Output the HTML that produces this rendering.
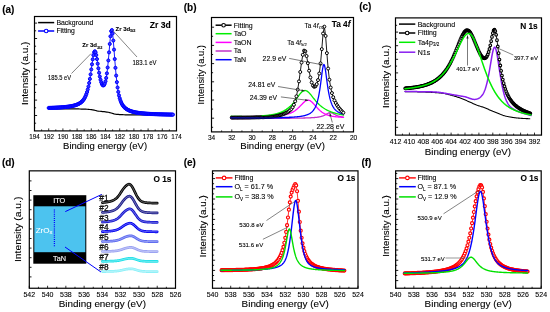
<!DOCTYPE html>
<html><head><meta charset="utf-8"><style>
html,body{margin:0;padding:0;background:#fff;}
svg{display:block;will-change:transform;}
text{font-family:"Liberation Sans", sans-serif;}
</style></head><body>
<svg width="550" height="312" viewBox="0 0 550 312">
<rect width="550" height="312" fill="#fff"/>
<text x="2.2" y="12.6" font-size="10" text-anchor="start" font-weight="bold" fill="#000"  stroke="#000" stroke-width="0.1">(a)</text>
<rect x="34.5" y="16.5" width="142" height="114.4" fill="none" stroke="#000" stroke-width="1.2"/>
<line x1="176.5" y1="130.9" x2="176.5" y2="128.4" stroke="#000" stroke-width="0.8" />
<line x1="169.4" y1="130.9" x2="169.4" y2="129.4" stroke="#000" stroke-width="0.8" />
<line x1="162.3" y1="130.9" x2="162.3" y2="128.4" stroke="#000" stroke-width="0.8" />
<line x1="155.2" y1="130.9" x2="155.2" y2="129.4" stroke="#000" stroke-width="0.8" />
<line x1="148.1" y1="130.9" x2="148.1" y2="128.4" stroke="#000" stroke-width="0.8" />
<line x1="141" y1="130.9" x2="141" y2="129.4" stroke="#000" stroke-width="0.8" />
<line x1="133.9" y1="130.9" x2="133.9" y2="128.4" stroke="#000" stroke-width="0.8" />
<line x1="126.8" y1="130.9" x2="126.8" y2="129.4" stroke="#000" stroke-width="0.8" />
<line x1="119.7" y1="130.9" x2="119.7" y2="128.4" stroke="#000" stroke-width="0.8" />
<line x1="112.6" y1="130.9" x2="112.6" y2="129.4" stroke="#000" stroke-width="0.8" />
<line x1="105.5" y1="130.9" x2="105.5" y2="128.4" stroke="#000" stroke-width="0.8" />
<line x1="98.4" y1="130.9" x2="98.4" y2="129.4" stroke="#000" stroke-width="0.8" />
<line x1="91.3" y1="130.9" x2="91.3" y2="128.4" stroke="#000" stroke-width="0.8" />
<line x1="84.2" y1="130.9" x2="84.2" y2="129.4" stroke="#000" stroke-width="0.8" />
<line x1="77.1" y1="130.9" x2="77.1" y2="128.4" stroke="#000" stroke-width="0.8" />
<line x1="70" y1="130.9" x2="70" y2="129.4" stroke="#000" stroke-width="0.8" />
<line x1="62.9" y1="130.9" x2="62.9" y2="128.4" stroke="#000" stroke-width="0.8" />
<line x1="55.8" y1="130.9" x2="55.8" y2="129.4" stroke="#000" stroke-width="0.8" />
<line x1="48.7" y1="130.9" x2="48.7" y2="128.4" stroke="#000" stroke-width="0.8" />
<line x1="41.6" y1="130.9" x2="41.6" y2="129.4" stroke="#000" stroke-width="0.8" />
<line x1="34.5" y1="130.9" x2="34.5" y2="128.4" stroke="#000" stroke-width="0.8" />
<text x="34.5" y="138.9" font-size="6.3" text-anchor="middle" font-weight="normal" fill="#000"  stroke="#000" stroke-width="0.1">194</text>
<text x="48.7" y="138.9" font-size="6.3" text-anchor="middle" font-weight="normal" fill="#000"  stroke="#000" stroke-width="0.1">192</text>
<text x="62.9" y="138.9" font-size="6.3" text-anchor="middle" font-weight="normal" fill="#000"  stroke="#000" stroke-width="0.1">190</text>
<text x="77.1" y="138.9" font-size="6.3" text-anchor="middle" font-weight="normal" fill="#000"  stroke="#000" stroke-width="0.1">188</text>
<text x="91.3" y="138.9" font-size="6.3" text-anchor="middle" font-weight="normal" fill="#000"  stroke="#000" stroke-width="0.1">186</text>
<text x="105.5" y="138.9" font-size="6.3" text-anchor="middle" font-weight="normal" fill="#000"  stroke="#000" stroke-width="0.1">184</text>
<text x="119.7" y="138.9" font-size="6.3" text-anchor="middle" font-weight="normal" fill="#000"  stroke="#000" stroke-width="0.1">182</text>
<text x="133.9" y="138.9" font-size="6.3" text-anchor="middle" font-weight="normal" fill="#000"  stroke="#000" stroke-width="0.1">180</text>
<text x="148.1" y="138.9" font-size="6.3" text-anchor="middle" font-weight="normal" fill="#000"  stroke="#000" stroke-width="0.1">178</text>
<text x="162.3" y="138.9" font-size="6.3" text-anchor="middle" font-weight="normal" fill="#000"  stroke="#000" stroke-width="0.1">176</text>
<text x="176.5" y="138.9" font-size="6.3" text-anchor="middle" font-weight="normal" fill="#000"  stroke="#000" stroke-width="0.1">174</text>
<line x1="34.5" y1="115.5" x2="37.1" y2="115.5" stroke="#000" stroke-width="0.9" />
<line x1="34.5" y1="107.8" x2="36.1" y2="107.8" stroke="#000" stroke-width="0.9" />
<line x1="34.5" y1="100.1" x2="37.1" y2="100.1" stroke="#000" stroke-width="0.9" />
<line x1="34.5" y1="92.4" x2="36.1" y2="92.4" stroke="#000" stroke-width="0.9" />
<line x1="34.5" y1="84.7" x2="37.1" y2="84.7" stroke="#000" stroke-width="0.9" />
<line x1="34.5" y1="77" x2="36.1" y2="77" stroke="#000" stroke-width="0.9" />
<line x1="34.5" y1="69.3" x2="37.1" y2="69.3" stroke="#000" stroke-width="0.9" />
<line x1="34.5" y1="61.6" x2="36.1" y2="61.6" stroke="#000" stroke-width="0.9" />
<line x1="34.5" y1="53.9" x2="37.1" y2="53.9" stroke="#000" stroke-width="0.9" />
<line x1="34.5" y1="46.2" x2="36.1" y2="46.2" stroke="#000" stroke-width="0.9" />
<line x1="34.5" y1="38.5" x2="37.1" y2="38.5" stroke="#000" stroke-width="0.9" />
<line x1="34.5" y1="30.8" x2="36.1" y2="30.8" stroke="#000" stroke-width="0.9" />
<line x1="34.5" y1="23.1" x2="37.1" y2="23.1" stroke="#000" stroke-width="0.9" />
<line x1="34.5" y1="123.2" x2="36.1" y2="123.2" stroke="#000" stroke-width="0.9" />
<polyline points="48.7,108.75 50.12,108.75 51.54,108.76 52.96,108.76 54.38,108.77 55.8,108.78 57.22,108.78 58.64,108.79 60.06,108.79 61.48,108.8 62.9,108.81 64.32,108.82 65.74,108.83 67.16,108.84 68.58,108.85 70,108.86 71.42,108.88 72.84,108.89 74.26,108.91 75.68,108.93 77.1,108.95 78.52,108.97 79.94,109 81.36,109.03 82.78,109.07 84.2,109.12 85.62,109.18 87.04,109.26 88.46,109.37 89.88,109.5 91.3,109.69 92.72,109.92 94.14,110.21 95.56,110.52 96.98,110.81 98.4,111.06 99.82,111.27 101.24,111.44 102.66,111.58 104.08,111.72 105.5,111.87 106.92,112.05 108.34,112.28 109.76,112.6 111.18,112.99 112.6,113.43 114.02,113.81 115.44,114.11 116.86,114.32 118.28,114.46 119.7,114.57 121.12,114.64 122.54,114.7 123.96,114.75 125.38,114.79 126.8,114.82 128.22,114.85 129.64,114.87 131.06,114.89 132.48,114.91 133.9,114.92 135.32,114.94 136.74,114.95 138.16,114.96 139.58,114.97 141,114.98 142.42,114.99 143.84,115 145.26,115.01 146.68,115.02 148.1,115.02 149.52,115.03 150.94,115.04 152.36,115.04 153.78,115.05 155.2,115.05 156.62,115.06 158.04,115.06 159.46,115.06 160.88,115.07 162.3,115.07 163.72,115.07 165.14,115.08 166.56,115.08 167.98,115.08 169.4,115.09 170.82,115.09 172.24,115.09" fill="none" stroke="#000" stroke-width="1.2" stroke-linejoin="round" stroke-linecap="round" />
<polyline points="48.7,107.93 49.41,107.91 50.12,107.89 50.83,107.86 51.54,107.84 52.25,107.81 52.96,107.79 53.67,107.76 54.38,107.73 55.09,107.7 55.8,107.67 56.51,107.63 57.22,107.6 57.93,107.56 58.64,107.52 59.35,107.48 60.06,107.43 60.77,107.39 61.48,107.34 62.19,107.28 62.9,107.23 63.61,107.17 64.32,107.1 65.03,107.04 65.74,106.96 66.45,106.89 67.16,106.8 67.87,106.71 68.58,106.62 69.29,106.51 70,106.4 70.71,106.28 71.42,106.15 72.13,106.01 72.84,105.86 73.55,105.69 74.26,105.51 74.97,105.3 75.68,105.08 76.39,104.84 77.1,104.57 77.81,104.27 78.52,103.93 79.23,103.56 79.94,103.13 80.65,102.64 81.36,102.08 82.07,101.44 82.78,100.68 83.49,99.79 84.2,98.74 84.91,97.48 85.62,95.97 86.33,94.17 87.04,92.02 87.75,89.46 88.46,86.45 89.17,82.94 89.88,78.9 90.59,74.37 91.3,69.43 92.01,64.31 92.72,59.37 93.43,55.15 94.14,52.28 94.85,51.26 95.56,52.26 96.27,55.05 96.98,59.07 97.69,63.69 98.4,68.36 99.11,72.73 99.82,76.56 100.53,79.76 101.24,82.27 101.95,84.07 102.66,85.14 103.37,85.47 104.08,84.99 104.79,83.64 105.5,81.32 106.21,77.93 106.92,73.36 107.63,67.52 108.34,60.45 109.05,52.38 109.76,43.93 110.47,36.3 111.18,31.16 111.89,30.07 112.6,33.51 113.31,40.59 114.02,49.62 114.73,59.03 115.44,67.84 116.15,75.58 116.86,82.12 117.57,87.51 118.28,91.89 118.99,95.4 119.7,98.21 120.41,100.46 121.12,102.27 121.83,103.75 122.54,104.96 123.25,105.97 123.96,106.83 124.67,107.56 125.38,108.19 126.09,108.75 126.8,109.23 127.51,109.67 128.22,110.05 128.93,110.39 129.64,110.7 130.35,110.98 131.06,111.23 131.77,111.46 132.48,111.67 133.19,111.86 133.9,112.03 134.61,112.19 135.32,112.34 136.03,112.48 136.74,112.6 137.45,112.72 138.16,112.83 138.87,112.93 139.58,113.03 140.29,113.12 141,113.2 141.71,113.28 142.42,113.35 143.13,113.42 143.84,113.48 144.55,113.54 145.26,113.6 145.97,113.66 146.68,113.71 147.39,113.76 148.1,113.8 148.81,113.85 149.52,113.89 150.23,113.93 150.94,113.97 151.65,114 152.36,114.04 153.07,114.07 153.78,114.1 154.49,114.13 155.2,114.16 155.91,114.19 156.62,114.22 157.33,114.24 158.04,114.27 158.75,114.29 159.46,114.31 160.17,114.33 160.88,114.35 161.59,114.37 162.3,114.39 163.01,114.41 163.72,114.43 164.43,114.45 165.14,114.46 165.85,114.48 166.56,114.5 167.27,114.51 167.98,114.53 168.69,114.54 169.4,114.55 170.11,114.57 170.82,114.58 171.53,114.59 172.24,114.6 172.95,114.61" fill="none" stroke="#0000ff" stroke-width="0.9" stroke-linejoin="round" stroke-linecap="round" />
<g fill="#3a3aff" stroke="#0000ff" stroke-width="1">
<circle cx="48.7" cy="107.93" r="1.55"/>
<circle cx="49.41" cy="107.91" r="1.55"/>
<circle cx="50.12" cy="107.89" r="1.55"/>
<circle cx="50.83" cy="107.86" r="1.55"/>
<circle cx="51.54" cy="107.84" r="1.55"/>
<circle cx="52.25" cy="107.81" r="1.55"/>
<circle cx="52.96" cy="107.79" r="1.55"/>
<circle cx="53.67" cy="107.76" r="1.55"/>
<circle cx="54.38" cy="107.73" r="1.55"/>
<circle cx="55.09" cy="107.7" r="1.55"/>
<circle cx="55.8" cy="107.67" r="1.55"/>
<circle cx="56.51" cy="107.63" r="1.55"/>
<circle cx="57.22" cy="107.6" r="1.55"/>
<circle cx="57.93" cy="107.56" r="1.55"/>
<circle cx="58.64" cy="107.52" r="1.55"/>
<circle cx="59.35" cy="107.48" r="1.55"/>
<circle cx="60.06" cy="107.43" r="1.55"/>
<circle cx="60.77" cy="107.39" r="1.55"/>
<circle cx="61.48" cy="107.34" r="1.55"/>
<circle cx="62.19" cy="107.28" r="1.55"/>
<circle cx="62.9" cy="107.23" r="1.55"/>
<circle cx="63.61" cy="107.17" r="1.55"/>
<circle cx="64.32" cy="107.1" r="1.55"/>
<circle cx="65.03" cy="107.04" r="1.55"/>
<circle cx="65.74" cy="106.96" r="1.55"/>
<circle cx="66.45" cy="106.89" r="1.55"/>
<circle cx="67.16" cy="106.8" r="1.55"/>
<circle cx="67.87" cy="106.71" r="1.55"/>
<circle cx="68.58" cy="106.62" r="1.55"/>
<circle cx="69.29" cy="106.51" r="1.55"/>
<circle cx="70" cy="106.4" r="1.55"/>
<circle cx="70.71" cy="106.28" r="1.55"/>
<circle cx="71.42" cy="106.15" r="1.55"/>
<circle cx="72.13" cy="106.01" r="1.55"/>
<circle cx="72.84" cy="105.86" r="1.55"/>
<circle cx="73.55" cy="105.69" r="1.55"/>
<circle cx="74.26" cy="105.51" r="1.55"/>
<circle cx="74.97" cy="105.3" r="1.55"/>
<circle cx="75.68" cy="105.08" r="1.55"/>
<circle cx="76.39" cy="104.84" r="1.55"/>
<circle cx="77.1" cy="104.57" r="1.55"/>
<circle cx="77.81" cy="104.27" r="1.55"/>
<circle cx="78.52" cy="103.93" r="1.55"/>
<circle cx="79.23" cy="103.56" r="1.55"/>
<circle cx="79.94" cy="103.13" r="1.55"/>
<circle cx="80.65" cy="102.64" r="1.55"/>
<circle cx="81.36" cy="102.08" r="1.55"/>
<circle cx="82.07" cy="101.44" r="1.55"/>
<circle cx="82.78" cy="100.68" r="1.55"/>
<circle cx="83.49" cy="99.79" r="1.55"/>
<circle cx="84.2" cy="98.74" r="1.55"/>
<circle cx="84.91" cy="97.48" r="1.55"/>
<circle cx="85.62" cy="95.97" r="1.55"/>
<circle cx="86.33" cy="94.17" r="1.55"/>
<circle cx="87.04" cy="92.02" r="1.55"/>
<circle cx="87.75" cy="89.46" r="1.55"/>
<circle cx="88.46" cy="86.45" r="1.55"/>
<circle cx="89.17" cy="82.94" r="1.55"/>
<circle cx="89.88" cy="78.9" r="1.55"/>
<circle cx="90.59" cy="74.37" r="1.55"/>
<circle cx="91.3" cy="69.43" r="1.55"/>
<circle cx="92.01" cy="64.31" r="1.55"/>
<circle cx="92.72" cy="59.37" r="1.55"/>
<circle cx="93.43" cy="55.15" r="1.55"/>
<circle cx="94.14" cy="52.28" r="1.55"/>
<circle cx="94.85" cy="51.26" r="1.55"/>
<circle cx="95.56" cy="52.26" r="1.55"/>
<circle cx="96.27" cy="55.05" r="1.55"/>
<circle cx="96.98" cy="59.07" r="1.55"/>
<circle cx="97.69" cy="63.69" r="1.55"/>
<circle cx="98.4" cy="68.36" r="1.55"/>
<circle cx="99.11" cy="72.73" r="1.55"/>
<circle cx="99.82" cy="76.56" r="1.55"/>
<circle cx="100.53" cy="79.76" r="1.55"/>
<circle cx="101.24" cy="82.27" r="1.55"/>
<circle cx="101.95" cy="84.07" r="1.55"/>
<circle cx="102.66" cy="85.14" r="1.55"/>
<circle cx="103.37" cy="85.47" r="1.55"/>
<circle cx="104.08" cy="84.99" r="1.55"/>
<circle cx="104.79" cy="83.64" r="1.55"/>
<circle cx="105.5" cy="81.32" r="1.55"/>
<circle cx="106.21" cy="77.93" r="1.55"/>
<circle cx="106.92" cy="73.36" r="1.55"/>
<circle cx="107.63" cy="67.52" r="1.55"/>
<circle cx="108.34" cy="60.45" r="1.55"/>
<circle cx="109.05" cy="52.38" r="1.55"/>
<circle cx="109.76" cy="43.93" r="1.55"/>
<circle cx="110.47" cy="36.3" r="1.55"/>
<circle cx="111.18" cy="31.16" r="1.55"/>
<circle cx="111.89" cy="30.07" r="1.55"/>
<circle cx="112.6" cy="33.51" r="1.55"/>
<circle cx="113.31" cy="40.59" r="1.55"/>
<circle cx="114.02" cy="49.62" r="1.55"/>
<circle cx="114.73" cy="59.03" r="1.55"/>
<circle cx="115.44" cy="67.84" r="1.55"/>
<circle cx="116.15" cy="75.58" r="1.55"/>
<circle cx="116.86" cy="82.12" r="1.55"/>
<circle cx="117.57" cy="87.51" r="1.55"/>
<circle cx="118.28" cy="91.89" r="1.55"/>
<circle cx="118.99" cy="95.4" r="1.55"/>
<circle cx="119.7" cy="98.21" r="1.55"/>
<circle cx="120.41" cy="100.46" r="1.55"/>
<circle cx="121.12" cy="102.27" r="1.55"/>
<circle cx="121.83" cy="103.75" r="1.55"/>
<circle cx="122.54" cy="104.96" r="1.55"/>
<circle cx="123.25" cy="105.97" r="1.55"/>
<circle cx="123.96" cy="106.83" r="1.55"/>
<circle cx="124.67" cy="107.56" r="1.55"/>
<circle cx="125.38" cy="108.19" r="1.55"/>
<circle cx="126.09" cy="108.75" r="1.55"/>
<circle cx="126.8" cy="109.23" r="1.55"/>
<circle cx="127.51" cy="109.67" r="1.55"/>
<circle cx="128.22" cy="110.05" r="1.55"/>
<circle cx="128.93" cy="110.39" r="1.55"/>
<circle cx="129.64" cy="110.7" r="1.55"/>
<circle cx="130.35" cy="110.98" r="1.55"/>
<circle cx="131.06" cy="111.23" r="1.55"/>
<circle cx="131.77" cy="111.46" r="1.55"/>
<circle cx="132.48" cy="111.67" r="1.55"/>
<circle cx="133.19" cy="111.86" r="1.55"/>
<circle cx="133.9" cy="112.03" r="1.55"/>
<circle cx="134.61" cy="112.19" r="1.55"/>
<circle cx="135.32" cy="112.34" r="1.55"/>
<circle cx="136.03" cy="112.48" r="1.55"/>
<circle cx="136.74" cy="112.6" r="1.55"/>
<circle cx="137.45" cy="112.72" r="1.55"/>
<circle cx="138.16" cy="112.83" r="1.55"/>
<circle cx="138.87" cy="112.93" r="1.55"/>
<circle cx="139.58" cy="113.03" r="1.55"/>
<circle cx="140.29" cy="113.12" r="1.55"/>
<circle cx="141" cy="113.2" r="1.55"/>
<circle cx="141.71" cy="113.28" r="1.55"/>
<circle cx="142.42" cy="113.35" r="1.55"/>
<circle cx="143.13" cy="113.42" r="1.55"/>
<circle cx="143.84" cy="113.48" r="1.55"/>
<circle cx="144.55" cy="113.54" r="1.55"/>
<circle cx="145.26" cy="113.6" r="1.55"/>
<circle cx="145.97" cy="113.66" r="1.55"/>
<circle cx="146.68" cy="113.71" r="1.55"/>
<circle cx="147.39" cy="113.76" r="1.55"/>
<circle cx="148.1" cy="113.8" r="1.55"/>
<circle cx="148.81" cy="113.85" r="1.55"/>
<circle cx="149.52" cy="113.89" r="1.55"/>
<circle cx="150.23" cy="113.93" r="1.55"/>
<circle cx="150.94" cy="113.97" r="1.55"/>
<circle cx="151.65" cy="114" r="1.55"/>
<circle cx="152.36" cy="114.04" r="1.55"/>
<circle cx="153.07" cy="114.07" r="1.55"/>
<circle cx="153.78" cy="114.1" r="1.55"/>
<circle cx="154.49" cy="114.13" r="1.55"/>
<circle cx="155.2" cy="114.16" r="1.55"/>
<circle cx="155.91" cy="114.19" r="1.55"/>
<circle cx="156.62" cy="114.22" r="1.55"/>
<circle cx="157.33" cy="114.24" r="1.55"/>
<circle cx="158.04" cy="114.27" r="1.55"/>
<circle cx="158.75" cy="114.29" r="1.55"/>
<circle cx="159.46" cy="114.31" r="1.55"/>
<circle cx="160.17" cy="114.33" r="1.55"/>
<circle cx="160.88" cy="114.35" r="1.55"/>
<circle cx="161.59" cy="114.37" r="1.55"/>
<circle cx="162.3" cy="114.39" r="1.55"/>
<circle cx="163.01" cy="114.41" r="1.55"/>
<circle cx="163.72" cy="114.43" r="1.55"/>
<circle cx="164.43" cy="114.45" r="1.55"/>
<circle cx="165.14" cy="114.46" r="1.55"/>
<circle cx="165.85" cy="114.48" r="1.55"/>
<circle cx="166.56" cy="114.5" r="1.55"/>
<circle cx="167.27" cy="114.51" r="1.55"/>
<circle cx="167.98" cy="114.53" r="1.55"/>
<circle cx="168.69" cy="114.54" r="1.55"/>
<circle cx="169.4" cy="114.55" r="1.55"/>
<circle cx="170.11" cy="114.57" r="1.55"/>
<circle cx="170.82" cy="114.58" r="1.55"/>
<circle cx="171.53" cy="114.59" r="1.55"/>
<circle cx="172.24" cy="114.6" r="1.55"/>
<circle cx="172.95" cy="114.61" r="1.55"/>
</g>
<line x1="38.1" y1="22.6" x2="54.2" y2="22.6" stroke="#000" stroke-width="1.5" />
<text x="56.4" y="24.9" font-size="6.7" text-anchor="start" font-weight="normal" fill="#000" textLength="37" lengthAdjust="spacingAndGlyphs"  stroke="#000" stroke-width="0.1">Background</text>
<line x1="38.1" y1="31" x2="54.2" y2="31" stroke="#0000ff" stroke-width="1.5" />
<g fill="#fff" stroke="#0000ff" stroke-width="1.1">
<circle cx="46.2" cy="31" r="1.75"/>
</g>
<text x="56.4" y="33.1" font-size="6.7" text-anchor="start" font-weight="normal" fill="#000" textLength="18.5" lengthAdjust="spacingAndGlyphs"  stroke="#000" stroke-width="0.1">Fitting</text>
<text x="170.7" y="27.8" font-size="8.6" text-anchor="end" font-weight="bold" fill="#000"  stroke="#000" stroke-width="0.1">Zr 3d</text>
<text x="115.5" y="30.6" font-size="6" font-weight="bold" stroke="#000" stroke-width="0.1">Zr 3d<tspan font-size="3.8" dy="1.4">5/2</tspan></text>
<text x="82.3" y="47.2" font-size="6" font-weight="bold" stroke="#000" stroke-width="0.1">Zr 3d<tspan font-size="3.8" dy="1.4">3/2</tspan></text>
<line x1="112.8" y1="30.5" x2="137" y2="57" stroke="#333" stroke-width="0.6" />
<line x1="91" y1="53.6" x2="71.5" y2="73.5" stroke="#333" stroke-width="0.6" />
<text x="48.1" y="79.6" font-size="6.3" text-anchor="start" font-weight="normal" fill="#000" textLength="23" lengthAdjust="spacingAndGlyphs"  stroke="#000" stroke-width="0.1">185.5 eV</text>
<text x="132.5" y="65.1" font-size="6.3" text-anchor="start" font-weight="normal" fill="#000" textLength="24" lengthAdjust="spacingAndGlyphs"  stroke="#000" stroke-width="0.1">183.1 eV</text>
<text x="63.1" y="148.5" font-size="9" text-anchor="start" font-weight="normal" fill="#000" textLength="84" lengthAdjust="spacingAndGlyphs"  stroke="#000" stroke-width="0.1">Binding energy (eV)</text>
<text transform="translate(27.9,73.3) rotate(-90)" font-size="8.8" text-anchor="middle" textLength="63.5" lengthAdjust="spacingAndGlyphs" stroke="#000" stroke-width="0.1">Intensity (a.u.)</text>
<text x="183.7" y="10.9" font-size="10" text-anchor="start" font-weight="bold" fill="#000"  stroke="#000" stroke-width="0.1">(b)</text>
<rect x="211.5" y="17.5" width="142" height="114.4" fill="none" stroke="#000" stroke-width="1.2"/>
<line x1="353.5" y1="131.9" x2="353.5" y2="129.4" stroke="#000" stroke-width="0.8" />
<line x1="343.36" y1="131.9" x2="343.36" y2="130.4" stroke="#000" stroke-width="0.8" />
<line x1="333.21" y1="131.9" x2="333.21" y2="129.4" stroke="#000" stroke-width="0.8" />
<line x1="323.07" y1="131.9" x2="323.07" y2="130.4" stroke="#000" stroke-width="0.8" />
<line x1="312.93" y1="131.9" x2="312.93" y2="129.4" stroke="#000" stroke-width="0.8" />
<line x1="302.79" y1="131.9" x2="302.79" y2="130.4" stroke="#000" stroke-width="0.8" />
<line x1="292.64" y1="131.9" x2="292.64" y2="129.4" stroke="#000" stroke-width="0.8" />
<line x1="282.5" y1="131.9" x2="282.5" y2="130.4" stroke="#000" stroke-width="0.8" />
<line x1="272.36" y1="131.9" x2="272.36" y2="129.4" stroke="#000" stroke-width="0.8" />
<line x1="262.21" y1="131.9" x2="262.21" y2="130.4" stroke="#000" stroke-width="0.8" />
<line x1="252.07" y1="131.9" x2="252.07" y2="129.4" stroke="#000" stroke-width="0.8" />
<line x1="241.93" y1="131.9" x2="241.93" y2="130.4" stroke="#000" stroke-width="0.8" />
<line x1="231.79" y1="131.9" x2="231.79" y2="129.4" stroke="#000" stroke-width="0.8" />
<line x1="221.64" y1="131.9" x2="221.64" y2="130.4" stroke="#000" stroke-width="0.8" />
<line x1="211.5" y1="131.9" x2="211.5" y2="129.4" stroke="#000" stroke-width="0.8" />
<text x="211.5" y="139.8" font-size="6.5" text-anchor="middle" font-weight="normal" fill="#000"  stroke="#000" stroke-width="0.1">34</text>
<text x="231.79" y="139.8" font-size="6.5" text-anchor="middle" font-weight="normal" fill="#000"  stroke="#000" stroke-width="0.1">32</text>
<text x="252.07" y="139.8" font-size="6.5" text-anchor="middle" font-weight="normal" fill="#000"  stroke="#000" stroke-width="0.1">30</text>
<text x="272.36" y="139.8" font-size="6.5" text-anchor="middle" font-weight="normal" fill="#000"  stroke="#000" stroke-width="0.1">28</text>
<text x="292.64" y="139.8" font-size="6.5" text-anchor="middle" font-weight="normal" fill="#000"  stroke="#000" stroke-width="0.1">26</text>
<text x="312.93" y="139.8" font-size="6.5" text-anchor="middle" font-weight="normal" fill="#000"  stroke="#000" stroke-width="0.1">24</text>
<text x="333.21" y="139.8" font-size="6.5" text-anchor="middle" font-weight="normal" fill="#000"  stroke="#000" stroke-width="0.1">22</text>
<text x="353.5" y="139.8" font-size="6.5" text-anchor="middle" font-weight="normal" fill="#000"  stroke="#000" stroke-width="0.1">20</text>
<line x1="211.5" y1="118.2" x2="214.1" y2="118.2" stroke="#000" stroke-width="0.9" />
<line x1="211.5" y1="109.1" x2="213.1" y2="109.1" stroke="#000" stroke-width="0.9" />
<line x1="211.5" y1="100" x2="214.1" y2="100" stroke="#000" stroke-width="0.9" />
<line x1="211.5" y1="90.9" x2="213.1" y2="90.9" stroke="#000" stroke-width="0.9" />
<line x1="211.5" y1="81.8" x2="214.1" y2="81.8" stroke="#000" stroke-width="0.9" />
<line x1="211.5" y1="72.7" x2="213.1" y2="72.7" stroke="#000" stroke-width="0.9" />
<line x1="211.5" y1="63.6" x2="214.1" y2="63.6" stroke="#000" stroke-width="0.9" />
<line x1="211.5" y1="54.5" x2="213.1" y2="54.5" stroke="#000" stroke-width="0.9" />
<line x1="211.5" y1="45.4" x2="214.1" y2="45.4" stroke="#000" stroke-width="0.9" />
<line x1="211.5" y1="36.3" x2="213.1" y2="36.3" stroke="#000" stroke-width="0.9" />
<line x1="211.5" y1="27.2" x2="214.1" y2="27.2" stroke="#000" stroke-width="0.9" />
<line x1="211.5" y1="127.3" x2="213.1" y2="127.3" stroke="#000" stroke-width="0.9" />
<polyline points="231,118.56 231.38,118.56 231.75,118.56 232.13,118.56 232.51,118.56 232.88,118.56 233.26,118.55 233.63,118.55 234.01,118.55 234.39,118.55 234.76,118.55 235.14,118.55 235.52,118.54 235.89,118.54 236.27,118.54 236.64,118.54 237.02,118.54 237.4,118.54 237.77,118.53 238.15,118.53 238.53,118.53 238.9,118.53 239.28,118.53 239.65,118.53 240.03,118.52 240.41,118.52 240.78,118.52 241.16,118.52 241.54,118.52 241.91,118.52 242.29,118.51 242.66,118.51 243.04,118.51 243.42,118.51 243.79,118.51 244.17,118.51 244.55,118.5 244.92,118.5 245.3,118.5 245.67,118.5 246.05,118.5 246.43,118.49 246.8,118.49 247.18,118.49 247.56,118.49 247.93,118.49 248.31,118.49 248.68,118.48 249.06,118.48 249.44,118.48 249.81,118.48 250.19,118.48 250.57,118.48 250.94,118.47 251.32,118.47 251.69,118.47 252.07,118.47 252.45,118.47 252.82,118.46 253.2,118.46 253.58,118.46 253.95,118.46 254.33,118.46 254.7,118.46 255.08,118.45 255.46,118.45 255.83,118.45 256.21,118.45 256.59,118.45 256.96,118.44 257.34,118.44 257.71,118.44 258.09,118.44 258.47,118.44 258.84,118.44 259.22,118.43 259.6,118.43 259.97,118.43 260.35,118.43 260.72,118.43 261.1,118.42 261.48,118.42 261.85,118.42 262.23,118.42 262.61,118.42 262.98,118.41 263.36,118.41 263.73,118.41 264.11,118.41 264.49,118.41 264.86,118.4 265.24,118.4 265.62,118.4 265.99,118.4 266.37,118.4 266.74,118.39 267.12,118.39 267.5,118.39 267.87,118.39 268.25,118.38 268.63,118.38 269,118.38 269.38,118.38 269.75,118.38 270.13,118.37 270.51,118.37 270.88,118.37 271.26,118.37 271.64,118.37 272.01,118.36 272.39,118.36 272.76,118.36 273.14,118.36 273.52,118.35 273.89,118.35 274.27,118.35 274.65,118.35 275.02,118.34 275.4,118.34 275.77,118.34 276.15,118.34 276.53,118.33 276.9,118.33 277.28,118.33 277.66,118.33 278.03,118.32 278.41,118.32 278.78,118.32 279.16,118.32 279.54,118.31 279.91,118.31 280.29,118.31 280.67,118.31 281.04,118.3 281.42,118.3 281.79,118.3 282.17,118.29 282.55,118.29 282.92,118.29 283.3,118.29 283.68,118.28 284.05,118.28 284.43,118.28 284.8,118.27 285.18,118.27 285.56,118.27 285.93,118.26 286.31,118.26 286.69,118.26 287.06,118.25 287.44,118.25 287.81,118.25 288.19,118.24 288.57,118.24 288.94,118.24 289.32,118.23 289.7,118.23 290.07,118.23 290.45,118.22 290.82,118.22 291.2,118.21 291.58,118.21 291.95,118.21 292.33,118.2 292.71,118.2 293.08,118.19 293.46,118.19 293.83,118.18 294.21,118.18 294.59,118.17 294.96,118.17 295.34,118.16 295.72,118.16 296.09,118.15 296.47,118.15 296.84,118.14 297.22,118.14 297.6,118.13 297.97,118.13 298.35,118.12 298.73,118.11 299.1,118.11 299.48,118.1 299.85,118.09 300.23,118.09 300.61,118.08 300.98,118.07 301.36,118.07 301.74,118.06 302.11,118.05 302.49,118.04 302.86,118.03 303.24,118.03 303.62,118.02 303.99,118.01 304.37,118 304.75,117.99 305.12,117.98 305.5,117.97 305.87,117.96 306.25,117.94 306.63,117.93 307,117.92 307.38,117.91 307.76,117.89 308.13,117.88 308.51,117.87 308.88,117.85 309.26,117.83 309.64,117.82 310.01,117.8 310.39,117.78 310.77,117.76 311.14,117.74 311.52,117.72 311.89,117.7 312.27,117.68 312.65,117.66 313.02,117.63 313.4,117.6 313.78,117.57 314.15,117.55 314.53,117.51 314.9,117.48 315.28,117.45 315.66,117.41 316.03,117.37 316.41,117.33 316.79,117.28 317.16,117.24 317.54,117.18 317.91,117.13 318.29,117.07 318.67,117.01 319.04,116.95 319.42,116.88 319.8,116.8 320.17,116.72 320.55,116.63 320.92,116.54 321.3,116.44 321.68,116.34 322.05,116.22 322.43,116.1 322.81,115.97 323.18,115.83 323.56,115.68 323.93,115.51 324.31,115.34 324.69,115.16 325.06,114.97 325.44,114.77 325.82,114.56 326.19,114.35 326.57,114.13 326.94,113.91 327.32,113.69 327.7,113.48 328.07,113.28 328.45,113.1 328.83,112.94 329.2,112.81 329.58,112.71 329.95,112.65 330.33,112.63 330.71,112.66 331.08,112.72 331.46,112.81 331.84,112.95 332.21,113.1 332.59,113.29 332.96,113.48 333.34,113.69 333.72,113.91 334.09,114.12 334.47,114.34 334.85,114.54 335.22,114.75 335.6,114.94 335.97,115.13 336.35,115.3 336.73,115.47 337.1,115.62 337.48,115.77 337.86,115.9 338.23,116.03 338.61,116.15 338.98,116.25 339.36,116.36 339.74,116.45 340.11,116.54 340.49,116.62 340.87,116.7 341.24,116.77 341.62,116.83 341.99,116.89 342.37,116.95 342.75,117.01 343.12,117.06 343.5,117.1" fill="none" stroke="#c030c8" stroke-width="1.3" stroke-linejoin="round" stroke-linecap="round" />
<polyline points="231,116.81 231.38,116.81 231.75,116.81 232.13,116.8 232.51,116.8 232.88,116.79 233.26,116.79 233.63,116.79 234.01,116.78 234.39,116.78 234.76,116.77 235.14,116.77 235.52,116.77 235.89,116.76 236.27,116.76 236.64,116.75 237.02,116.75 237.4,116.74 237.77,116.74 238.15,116.74 238.53,116.73 238.9,116.73 239.28,116.72 239.65,116.72 240.03,116.71 240.41,116.71 240.78,116.7 241.16,116.7 241.54,116.69 241.91,116.69 242.29,116.69 242.66,116.68 243.04,116.68 243.42,116.67 243.79,116.67 244.17,116.66 244.55,116.66 244.92,116.65 245.3,116.64 245.67,116.64 246.05,116.63 246.43,116.63 246.8,116.62 247.18,116.62 247.56,116.61 247.93,116.61 248.31,116.6 248.68,116.59 249.06,116.59 249.44,116.58 249.81,116.58 250.19,116.57 250.57,116.56 250.94,116.56 251.32,116.55 251.69,116.55 252.07,116.54 252.45,116.53 252.82,116.53 253.2,116.52 253.58,116.51 253.95,116.51 254.33,116.5 254.7,116.49 255.08,116.48 255.46,116.48 255.83,116.47 256.21,116.46 256.59,116.45 256.96,116.45 257.34,116.44 257.71,116.43 258.09,116.42 258.47,116.41 258.84,116.4 259.22,116.4 259.6,116.39 259.97,116.38 260.35,116.37 260.72,116.36 261.1,116.35 261.48,116.34 261.85,116.33 262.23,116.32 262.61,116.31 262.98,116.3 263.36,116.29 263.73,116.28 264.11,116.27 264.49,116.26 264.86,116.25 265.24,116.23 265.62,116.22 265.99,116.21 266.37,116.2 266.74,116.18 267.12,116.17 267.5,116.16 267.87,116.14 268.25,116.13 268.63,116.12 269,116.1 269.38,116.09 269.75,116.07 270.13,116.06 270.51,116.04 270.88,116.02 271.26,116.01 271.64,115.99 272.01,115.97 272.39,115.95 272.76,115.94 273.14,115.92 273.52,115.9 273.89,115.88 274.27,115.86 274.65,115.83 275.02,115.81 275.4,115.79 275.77,115.76 276.15,115.74 276.53,115.71 276.9,115.69 277.28,115.66 277.66,115.63 278.03,115.6 278.41,115.57 278.78,115.54 279.16,115.51 279.54,115.47 279.91,115.44 280.29,115.4 280.67,115.36 281.04,115.32 281.42,115.28 281.79,115.23 282.17,115.18 282.55,115.13 282.92,115.08 283.3,115.03 283.68,114.97 284.05,114.91 284.43,114.84 284.8,114.78 285.18,114.71 285.56,114.63 285.93,114.55 286.31,114.47 286.69,114.38 287.06,114.29 287.44,114.19 287.81,114.08 288.19,113.97 288.57,113.86 288.94,113.74 289.32,113.61 289.7,113.47 290.07,113.33 290.45,113.18 290.82,113.02 291.2,112.85 291.58,112.68 291.95,112.5 292.33,112.3 292.71,112.1 293.08,111.89 293.46,111.67 293.83,111.44 294.21,111.2 294.59,110.95 294.96,110.69 295.34,110.42 295.72,110.14 296.09,109.85 296.47,109.54 296.84,109.23 297.22,108.91 297.6,108.58 297.97,108.24 298.35,107.89 298.73,107.53 299.1,107.17 299.48,106.79 299.85,106.41 300.23,106.03 300.61,105.64 300.98,105.25 301.36,104.86 301.74,104.47 302.11,104.08 302.49,103.69 302.86,103.31 303.24,102.94 303.62,102.58 303.99,102.24 304.37,101.91 304.75,101.6 305.12,101.32 305.5,101.05 305.87,100.82 306.25,100.62 306.63,100.45 307,100.32 307.38,100.23 307.76,100.17 308.13,100.16 308.51,100.18 308.88,100.25 309.26,100.35 309.64,100.5 310.01,100.68 310.39,100.9 310.77,101.15 311.14,101.43 311.52,101.73 311.89,102.07 312.27,102.42 312.65,102.79 313.02,103.18 313.4,103.58 313.78,103.99 314.15,104.41 314.53,104.83 314.9,105.26 315.28,105.68 315.66,106.11 316.03,106.53 316.41,106.95 316.79,107.36 317.16,107.77 317.54,108.17 317.91,108.56 318.29,108.94 318.67,109.31 319.04,109.68 319.42,110.03 319.8,110.37 320.17,110.7 320.55,111.02 320.92,111.33 321.3,111.63 321.68,111.92 322.05,112.19 322.43,112.45 322.81,112.71 323.18,112.95 323.56,113.18 323.93,113.4 324.31,113.62 324.69,113.82 325.06,114.01 325.44,114.19 325.82,114.37 326.19,114.53 326.57,114.69 326.94,114.84 327.32,114.98 327.7,115.12 328.07,115.24 328.45,115.36 328.83,115.48 329.2,115.59 329.58,115.69 329.95,115.78 330.33,115.88 330.71,115.96 331.08,116.04 331.46,116.12 331.84,116.2 332.21,116.27 332.59,116.33 332.96,116.39 333.34,116.45 333.72,116.51 334.09,116.56 334.47,116.61 334.85,116.66 335.22,116.71 335.6,116.75 335.97,116.79 336.35,116.83 336.73,116.87 337.1,116.9 337.48,116.94 337.86,116.97 338.23,117 338.61,117.03 338.98,117.06 339.36,117.09 339.74,117.12 340.11,117.14 340.49,117.17 340.87,117.19 341.24,117.21 341.62,117.24 341.99,117.26 342.37,117.28 342.75,117.3 343.12,117.32 343.5,117.33" fill="none" stroke="#ff00ff" stroke-width="1.3" stroke-linejoin="round" stroke-linecap="round" />
<polyline points="231,116.25 231.38,116.26 231.75,116.28 232.13,116.29 232.51,116.3 232.88,116.31 233.26,116.32 233.63,116.33 234.01,116.34 234.39,116.35 234.76,116.36 235.14,116.37 235.52,116.38 235.89,116.39 236.27,116.4 236.64,116.41 237.02,116.42 237.4,116.43 237.77,116.44 238.15,116.45 238.53,116.46 238.9,116.47 239.28,116.47 239.65,116.48 240.03,116.49 240.41,116.5 240.78,116.5 241.16,116.51 241.54,116.52 241.91,116.52 242.29,116.53 242.66,116.53 243.04,116.54 243.42,116.54 243.79,116.55 244.17,116.55 244.55,116.56 244.92,116.56 245.3,116.56 245.67,116.57 246.05,116.57 246.43,116.57 246.8,116.57 247.18,116.58 247.56,116.58 247.93,116.58 248.31,116.58 248.68,116.58 249.06,116.58 249.44,116.58 249.81,116.58 250.19,116.58 250.57,116.57 250.94,116.57 251.32,116.57 251.69,116.57 252.07,116.56 252.45,116.56 252.82,116.55 253.2,116.55 253.58,116.54 253.95,116.53 254.33,116.53 254.7,116.52 255.08,116.51 255.46,116.5 255.83,116.49 256.21,116.48 256.59,116.47 256.96,116.46 257.34,116.45 257.71,116.43 258.09,116.42 258.47,116.41 258.84,116.39 259.22,116.37 259.6,116.36 259.97,116.34 260.35,116.32 260.72,116.3 261.1,116.28 261.48,116.26 261.85,116.23 262.23,116.21 262.61,116.19 262.98,116.16 263.36,116.13 263.73,116.1 264.11,116.08 264.49,116.04 264.86,116.01 265.24,115.98 265.62,115.94 265.99,115.91 266.37,115.87 266.74,115.83 267.12,115.79 267.5,115.75 267.87,115.71 268.25,115.66 268.63,115.61 269,115.57 269.38,115.51 269.75,115.46 270.13,115.41 270.51,115.35 270.88,115.29 271.26,115.23 271.64,115.17 272.01,115.1 272.39,115.03 272.76,114.96 273.14,114.89 273.52,114.81 273.89,114.73 274.27,114.65 274.65,114.57 275.02,114.48 275.4,114.39 275.77,114.3 276.15,114.2 276.53,114.1 276.9,113.99 277.28,113.88 277.66,113.77 278.03,113.65 278.41,113.53 278.78,113.41 279.16,113.28 279.54,113.14 279.91,113 280.29,112.86 280.67,112.71 281.04,112.55 281.42,112.39 281.79,112.22 282.17,112.05 282.55,111.87 282.92,111.68 283.3,111.49 283.68,111.29 284.05,111.08 284.43,110.87 284.8,110.65 285.18,110.41 285.56,110.18 285.93,109.93 286.31,109.67 286.69,109.4 287.06,109.13 287.44,108.84 287.81,108.55 288.19,108.24 288.57,107.93 288.94,107.6 289.32,107.26 289.7,106.92 290.07,106.56 290.45,106.18 290.82,105.8 291.2,105.41 291.58,105 291.95,104.58 292.33,104.15 292.71,103.71 293.08,103.26 293.46,102.8 293.83,102.32 294.21,101.84 294.59,101.34 294.96,100.84 295.34,100.33 295.72,99.81 296.09,99.29 296.47,98.76 296.84,98.24 297.22,97.7 297.6,97.17 297.97,96.65 298.35,96.12 298.73,95.61 299.1,95.1 299.48,94.61 299.85,94.13 300.23,93.67 300.61,93.23 300.98,92.82 301.36,92.43 301.74,92.07 302.11,91.74 302.49,91.45 302.86,91.19 303.24,90.98 303.62,90.8 303.99,90.66 304.37,90.57 304.75,90.52 305.12,90.51 305.5,90.55 305.87,90.63 306.25,90.75 306.63,90.91 307,91.11 307.38,91.35 307.76,91.62 308.13,91.92 308.51,92.25 308.88,92.61 309.26,92.99 309.64,93.39 310.01,93.82 310.39,94.25 310.77,94.71 311.14,95.17 311.52,95.64 311.89,96.11 312.27,96.59 312.65,97.08 313.02,97.56 313.4,98.04 313.78,98.52 314.15,98.99 314.53,99.46 314.9,99.92 315.28,100.38 315.66,100.83 316.03,101.27 316.41,101.7 316.79,102.12 317.16,102.53 317.54,102.93 317.91,103.33 318.29,103.71 318.67,104.08 319.04,104.45 319.42,104.8 319.8,105.14 320.17,105.48 320.55,105.8 320.92,106.11 321.3,106.42 321.68,106.72 322.05,107 322.43,107.28 322.81,107.55 323.18,107.82 323.56,108.07 323.93,108.32 324.31,108.56 324.69,108.79 325.06,109.02 325.44,109.24 325.82,109.45 326.19,109.65 326.57,109.86 326.94,110.05 327.32,110.24 327.7,110.42 328.07,110.6 328.45,110.77 328.83,110.94 329.2,111.11 329.58,111.27 329.95,111.42 330.33,111.57 330.71,111.72 331.08,111.86 331.46,112 331.84,112.14 332.21,112.27 332.59,112.4 332.96,112.52 333.34,112.64 333.72,112.76 334.09,112.88 334.47,112.99 334.85,113.1 335.22,113.21 335.6,113.32 335.97,113.42 336.35,113.52 336.73,113.62 337.1,113.72 337.48,113.81 337.86,113.9 338.23,113.99 338.61,114.08 338.98,114.17 339.36,114.25 339.74,114.34 340.11,114.42 340.49,114.5 340.87,114.58 341.24,114.65 341.62,114.73 341.99,114.8 342.37,114.88 342.75,114.95 343.12,115.02 343.5,115.09" fill="none" stroke="#00ee00" stroke-width="1.3" stroke-linejoin="round" stroke-linecap="round" />
<polyline points="231,117.44 231.38,117.44 231.75,117.44 232.13,117.45 232.51,117.45 232.88,117.45 233.26,117.45 233.63,117.46 234.01,117.46 234.39,117.46 234.76,117.46 235.14,117.47 235.52,117.47 235.89,117.47 236.27,117.48 236.64,117.48 237.02,117.48 237.4,117.48 237.77,117.49 238.15,117.49 238.53,117.49 238.9,117.49 239.28,117.5 239.65,117.5 240.03,117.5 240.41,117.5 240.78,117.51 241.16,117.51 241.54,117.51 241.91,117.51 242.29,117.52 242.66,117.52 243.04,117.52 243.42,117.52 243.79,117.53 244.17,117.53 244.55,117.53 244.92,117.53 245.3,117.54 245.67,117.54 246.05,117.54 246.43,117.54 246.8,117.54 247.18,117.55 247.56,117.55 247.93,117.55 248.31,117.55 248.68,117.55 249.06,117.56 249.44,117.56 249.81,117.56 250.19,117.56 250.57,117.56 250.94,117.57 251.32,117.57 251.69,117.57 252.07,117.57 252.45,117.57 252.82,117.57 253.2,117.58 253.58,117.58 253.95,117.58 254.33,117.58 254.7,117.58 255.08,117.58 255.46,117.58 255.83,117.59 256.21,117.59 256.59,117.59 256.96,117.59 257.34,117.59 257.71,117.59 258.09,117.59 258.47,117.59 258.84,117.6 259.22,117.6 259.6,117.6 259.97,117.6 260.35,117.6 260.72,117.6 261.1,117.6 261.48,117.6 261.85,117.6 262.23,117.6 262.61,117.6 262.98,117.6 263.36,117.6 263.73,117.6 264.11,117.6 264.49,117.6 264.86,117.6 265.24,117.6 265.62,117.6 265.99,117.6 266.37,117.6 266.74,117.6 267.12,117.6 267.5,117.6 267.87,117.6 268.25,117.6 268.63,117.6 269,117.6 269.38,117.6 269.75,117.6 270.13,117.59 270.51,117.59 270.88,117.59 271.26,117.59 271.64,117.59 272.01,117.59 272.39,117.58 272.76,117.58 273.14,117.58 273.52,117.58 273.89,117.57 274.27,117.57 274.65,117.57 275.02,117.57 275.4,117.56 275.77,117.56 276.15,117.56 276.53,117.55 276.9,117.55 277.28,117.55 277.66,117.54 278.03,117.54 278.41,117.53 278.78,117.53 279.16,117.52 279.54,117.52 279.91,117.51 280.29,117.51 280.67,117.5 281.04,117.49 281.42,117.49 281.79,117.48 282.17,117.47 282.55,117.47 282.92,117.46 283.3,117.45 283.68,117.44 284.05,117.44 284.43,117.43 284.8,117.42 285.18,117.41 285.56,117.4 285.93,117.39 286.31,117.38 286.69,117.37 287.06,117.35 287.44,117.34 287.81,117.33 288.19,117.32 288.57,117.3 288.94,117.29 289.32,117.27 289.7,117.26 290.07,117.24 290.45,117.23 290.82,117.21 291.2,117.19 291.58,117.17 291.95,117.15 292.33,117.13 292.71,117.11 293.08,117.09 293.46,117.06 293.83,117.04 294.21,117.02 294.59,116.99 294.96,116.96 295.34,116.93 295.72,116.9 296.09,116.87 296.47,116.84 296.84,116.81 297.22,116.77 297.6,116.73 297.97,116.7 298.35,116.65 298.73,116.61 299.1,116.57 299.48,116.52 299.85,116.47 300.23,116.42 300.61,116.37 300.98,116.31 301.36,116.25 301.74,116.19 302.11,116.12 302.49,116.05 302.86,115.98 303.24,115.9 303.62,115.82 303.99,115.74 304.37,115.65 304.75,115.55 305.12,115.45 305.5,115.34 305.87,115.23 306.25,115.11 306.63,114.98 307,114.85 307.38,114.7 307.76,114.55 308.13,114.38 308.51,114.21 308.88,114.02 309.26,113.82 309.64,113.6 310.01,113.37 310.39,113.12 310.77,112.85 311.14,112.57 311.52,112.25 311.89,111.92 312.27,111.55 312.65,111.16 313.02,110.73 313.4,110.26 313.78,109.75 314.15,109.19 314.53,108.59 314.9,107.92 315.28,107.19 315.66,106.38 316.03,105.49 316.41,104.52 316.79,103.44 317.16,102.24 317.54,100.92 317.91,99.46 318.29,97.85 318.67,96.07 319.04,94.11 319.42,91.96 319.8,89.61 320.17,87.08 320.55,84.36 320.92,81.5 321.3,78.55 321.68,75.58 322.05,72.7 322.43,70.04 322.81,67.76 323.18,66 323.56,64.88 323.93,64.51 324.31,64.91 324.69,66.03 325.06,67.79 325.44,70.05 325.82,72.65 326.19,75.46 326.57,78.35 326.94,81.21 327.32,83.97 327.7,86.59 328.07,89.03 328.45,91.29 328.83,93.35 329.2,95.23 329.58,96.94 329.95,98.48 330.33,99.88 330.71,101.15 331.08,102.29 331.46,103.33 331.84,104.26 332.21,105.11 332.59,105.89 332.96,106.59 333.34,107.23 333.72,107.81 334.09,108.35 334.47,108.84 334.85,109.29 335.22,109.7 335.6,110.08 335.97,110.44 336.35,110.76 336.73,111.06 337.1,111.34 337.48,111.6 337.86,111.84 338.23,112.07 338.61,112.28 338.98,112.48 339.36,112.66 339.74,112.83 340.11,112.99 340.49,113.15 340.87,113.29 341.24,113.42 341.62,113.55 341.99,113.67 342.37,113.78 342.75,113.89 343.12,113.99 343.5,114.09" fill="none" stroke="#0000ff" stroke-width="1.3" stroke-linejoin="round" stroke-linecap="round" />
<polyline points="231.79,117.61 233.05,117.61 234.32,117.6 235.59,117.59 236.86,117.59 238.12,117.58 239.39,117.57 240.66,117.56 241.93,117.56 243.2,117.55 244.46,117.54 245.73,117.52 247,117.51 248.27,117.5 249.54,117.49 250.8,117.47 252.07,117.46 253.34,117.44 254.61,117.42 255.88,117.39 257.14,117.37 258.41,117.34 259.68,117.31 260.95,117.27 262.21,117.23 263.48,117.18 264.75,117.12 266.02,117.05 267.29,116.97 268.55,116.88 269.82,116.78 271.09,116.66 272.36,116.52 273.62,116.36 274.89,116.18 276.16,115.97 277.43,115.73 278.7,115.45 279.96,115.13 281.23,114.77 282.5,114.36 283.77,113.89 285.04,113.37 286.3,112.77 287.57,112.08 288.84,111.27 290.11,110.28 291.38,109.01 292.64,107.27 293.91,104.8 295.18,101.26 296.45,96.29 297.71,89.64 298.98,81.37 300.25,71.98 301.52,62.57 302.79,54.8 304.05,50.64 305.32,51.25 306.59,56.04 307.86,63.16 309.12,70.73 310.39,77.41 311.66,82.44 312.93,85.55 314.2,86.79 315.46,86.31 316.73,84.14 318,80.08 319.27,73.5 320.54,63.4 321.8,49.11 323.07,33.5 324.34,26.67 325.61,35.94 326.88,53.14 328.14,68.55 329.41,79.74 330.68,87.53 331.95,93.07 333.21,97.19 334.48,100.38 335.75,102.97 337.02,105.13 338.29,107.01 339.55,108.66 340.82,110.14 342.09,111.48 343.36,112.7" fill="none" stroke="#000" stroke-width="0.9" stroke-linejoin="round" stroke-linecap="round" />
<g stroke="#000000" stroke-width="1">
<circle cx="231.79" cy="117.61" r="1.5" fill="#434343"/>
<circle cx="233.05" cy="117.61" r="1.5" fill="#434343"/>
<circle cx="234.32" cy="117.6" r="1.5" fill="#434343"/>
<circle cx="235.59" cy="117.59" r="1.5" fill="#434343"/>
<circle cx="236.86" cy="117.59" r="1.5" fill="#434343"/>
<circle cx="238.12" cy="117.58" r="1.5" fill="#434343"/>
<circle cx="239.39" cy="117.57" r="1.5" fill="#434343"/>
<circle cx="240.66" cy="117.56" r="1.5" fill="#434343"/>
<circle cx="241.93" cy="117.56" r="1.5" fill="#434343"/>
<circle cx="243.2" cy="117.55" r="1.5" fill="#434343"/>
<circle cx="244.46" cy="117.54" r="1.5" fill="#434343"/>
<circle cx="245.73" cy="117.52" r="1.5" fill="#434343"/>
<circle cx="247" cy="117.51" r="1.5" fill="#434343"/>
<circle cx="248.27" cy="117.5" r="1.5" fill="#434343"/>
<circle cx="249.54" cy="117.49" r="1.5" fill="#434343"/>
<circle cx="250.8" cy="117.47" r="1.5" fill="#434343"/>
<circle cx="252.07" cy="117.46" r="1.5" fill="#434343"/>
<circle cx="253.34" cy="117.44" r="1.5" fill="#434343"/>
<circle cx="254.61" cy="117.42" r="1.5" fill="#434343"/>
<circle cx="255.88" cy="117.39" r="1.5" fill="#434343"/>
<circle cx="257.14" cy="117.37" r="1.5" fill="#434343"/>
<circle cx="258.41" cy="117.34" r="1.5" fill="#434343"/>
<circle cx="259.68" cy="117.31" r="1.5" fill="#434343"/>
<circle cx="260.95" cy="117.27" r="1.5" fill="#434343"/>
<circle cx="262.21" cy="117.23" r="1.5" fill="#434343"/>
<circle cx="263.48" cy="117.18" r="1.5" fill="#434343"/>
<circle cx="264.75" cy="117.12" r="1.5" fill="#444444"/>
<circle cx="266.02" cy="117.05" r="1.5" fill="#444444"/>
<circle cx="267.29" cy="116.97" r="1.5" fill="#444444"/>
<circle cx="268.55" cy="116.88" r="1.5" fill="#454545"/>
<circle cx="269.82" cy="116.78" r="1.5" fill="#454545"/>
<circle cx="271.09" cy="116.66" r="1.5" fill="#464646"/>
<circle cx="272.36" cy="116.52" r="1.5" fill="#474747"/>
<circle cx="273.62" cy="116.36" r="1.5" fill="#484848"/>
<circle cx="274.89" cy="116.18" r="1.5" fill="#4a4a4a"/>
<circle cx="276.16" cy="115.97" r="1.5" fill="#4d4d4d"/>
<circle cx="277.43" cy="115.73" r="1.5" fill="#505050"/>
<circle cx="278.7" cy="115.45" r="1.5" fill="#545454"/>
<circle cx="279.96" cy="115.13" r="1.5" fill="#595959"/>
<circle cx="281.23" cy="114.77" r="1.5" fill="#5f5f5f"/>
<circle cx="282.5" cy="114.36" r="1.5" fill="#676767"/>
<circle cx="283.77" cy="113.89" r="1.5" fill="#727272"/>
<circle cx="285.04" cy="113.37" r="1.5" fill="#7e7e7e"/>
<circle cx="286.3" cy="112.77" r="1.5" fill="#8f8f8f"/>
<circle cx="287.57" cy="112.08" r="1.5" fill="#a6a6a6"/>
<circle cx="288.84" cy="111.27" r="1.5" fill="#c9c9c9"/>
<circle cx="290.11" cy="110.28" r="1.5" fill="#ffffff"/>
<circle cx="291.38" cy="109.01" r="1.5" fill="#ffffff"/>
<circle cx="292.64" cy="107.27" r="1.5" fill="#ffffff"/>
<circle cx="293.91" cy="104.8" r="1.5" fill="#ffffff"/>
<circle cx="295.18" cy="101.26" r="1.5" fill="#ffffff"/>
<circle cx="296.45" cy="96.29" r="1.5" fill="#ffffff"/>
<circle cx="297.71" cy="89.64" r="1.5" fill="#ffffff"/>
<circle cx="298.98" cy="81.37" r="1.5" fill="#ffffff"/>
<circle cx="300.25" cy="71.98" r="1.5" fill="#ffffff"/>
<circle cx="301.52" cy="62.57" r="1.5" fill="#ffffff"/>
<circle cx="302.79" cy="54.8" r="1.5" fill="#ffffff"/>
<circle cx="304.05" cy="50.64" r="1.5" fill="#919191"/>
<circle cx="305.32" cy="51.25" r="1.5" fill="#919191"/>
<circle cx="306.59" cy="56.04" r="1.5" fill="#ffffff"/>
<circle cx="307.86" cy="63.16" r="1.5" fill="#ffffff"/>
<circle cx="309.12" cy="70.73" r="1.5" fill="#ffffff"/>
<circle cx="310.39" cy="77.41" r="1.5" fill="#ffffff"/>
<circle cx="311.66" cy="82.44" r="1.5" fill="#ffffff"/>
<circle cx="312.93" cy="85.55" r="1.5" fill="#ffffff"/>
<circle cx="314.2" cy="86.79" r="1.5" fill="#767676"/>
<circle cx="315.46" cy="86.31" r="1.5" fill="#767676"/>
<circle cx="316.73" cy="84.14" r="1.5" fill="#ffffff"/>
<circle cx="318" cy="80.08" r="1.5" fill="#ffffff"/>
<circle cx="319.27" cy="73.5" r="1.5" fill="#ffffff"/>
<circle cx="320.54" cy="63.4" r="1.5" fill="#ffffff"/>
<circle cx="321.8" cy="49.11" r="1.5" fill="#ffffff"/>
<circle cx="323.07" cy="33.5" r="1.5" fill="#ffffff"/>
<circle cx="324.34" cy="26.67" r="1.5" fill="#ffffff"/>
<circle cx="325.61" cy="35.94" r="1.5" fill="#ffffff"/>
<circle cx="326.88" cy="53.14" r="1.5" fill="#ffffff"/>
<circle cx="328.14" cy="68.55" r="1.5" fill="#ffffff"/>
<circle cx="329.41" cy="79.74" r="1.5" fill="#ffffff"/>
<circle cx="330.68" cy="87.53" r="1.5" fill="#ffffff"/>
<circle cx="331.95" cy="93.07" r="1.5" fill="#ffffff"/>
<circle cx="333.21" cy="97.19" r="1.5" fill="#ffffff"/>
<circle cx="334.48" cy="100.38" r="1.5" fill="#ffffff"/>
<circle cx="335.75" cy="102.97" r="1.5" fill="#ffffff"/>
<circle cx="337.02" cy="105.13" r="1.5" fill="#ffffff"/>
<circle cx="338.29" cy="107.01" r="1.5" fill="#ffffff"/>
<circle cx="339.55" cy="108.66" r="1.5" fill="#ffffff"/>
<circle cx="340.82" cy="110.14" r="1.5" fill="#ffffff"/>
<circle cx="342.09" cy="111.48" r="1.5" fill="#ffffff"/>
<circle cx="343.36" cy="112.7" r="1.5" fill="#ffffff"/>
</g>
<polyline points="231,117.84 231.51,117.84 232.03,117.84 232.54,117.85 233.05,117.85 233.56,117.86 234.08,117.86 234.59,117.86 235.1,117.87 235.61,117.87 236.13,117.87 236.64,117.88 237.15,117.88 237.66,117.89 238.18,117.89 238.69,117.89 239.2,117.9 239.71,117.9 240.23,117.9 240.74,117.91 241.25,117.91 241.76,117.91 242.28,117.92 242.79,117.92 243.3,117.92 243.82,117.93 244.33,117.93 244.84,117.93 245.35,117.94 245.87,117.94 246.38,117.94 246.89,117.94 247.4,117.95 247.92,117.95 248.43,117.95 248.94,117.96 249.45,117.96 249.97,117.96 250.48,117.96 250.99,117.97 251.5,117.97 252.02,117.97 252.53,117.97 253.04,117.98 253.55,117.98 254.07,117.98 254.58,117.98 255.09,117.98 255.61,117.99 256.12,117.99 256.63,117.99 257.14,117.99 257.66,117.99 258.17,117.99 258.68,117.99 259.19,118 259.71,118 260.22,118 260.73,118 261.24,118 261.76,118 262.27,118 262.78,118 263.29,118 263.81,118 264.32,118 264.83,118 265.34,118 265.86,118 266.37,118 266.88,118 267.39,118 267.91,118 268.42,118 268.93,118 269.45,118 269.96,117.99 270.47,117.99 270.98,117.99 271.5,117.99 272.01,117.99 272.52,117.98 273.03,117.98 273.55,117.98 274.06,117.97 274.57,117.97 275.08,117.97 275.6,117.96 276.11,117.96 276.62,117.95 277.13,117.95 277.65,117.94 278.16,117.94 278.67,117.93 279.18,117.92 279.7,117.92 280.21,117.91 280.72,117.9 281.24,117.89 281.75,117.88 282.26,117.87 282.77,117.86 283.29,117.85 283.8,117.84 284.31,117.83 284.82,117.82 285.34,117.8 285.85,117.79 286.36,117.78 286.87,117.76 287.39,117.74 287.9,117.73 288.41,117.71 288.92,117.69 289.44,117.67 289.95,117.65 290.46,117.62 290.97,117.6 291.49,117.58 292,117.55" fill="none" stroke="#0000ff" stroke-width="1" stroke-linejoin="round" stroke-linecap="round" />
<polyline points="262,115.63 262.47,115.59 262.95,115.56 263.42,115.53 263.9,115.49 264.37,115.45 264.85,115.41 265.32,115.37 265.8,115.33 266.27,115.28 266.75,115.23 267.22,115.18 267.69,115.13 268.17,115.07 268.64,115.01 269.12,114.95 269.59,114.88 270.07,114.82 270.54,114.74 271.02,114.67 271.49,114.59 271.97,114.51 272.44,114.42 272.92,114.33 273.39,114.24 273.86,114.14 274.34,114.04 274.81,113.93 275.29,113.82 275.76,113.7 276.24,113.58 276.71,113.45 277.19,113.31 277.66,113.17 278.14,113.02 278.61,112.87 279.08,112.7 279.56,112.53 280.03,112.36 280.51,112.17 280.98,111.98 281.46,111.77 281.93,111.56 282.41,111.34 282.88,111.11 283.36,110.86 283.83,110.61 284.31,110.34 284.78,110.06 285.25,109.77 285.73,109.46 286.2,109.14 286.68,108.81 287.15,108.46 287.63,108.1 288.1,107.72 288.58,107.32 289.05,106.91 289.53,106.48 290,106.03" fill="none" stroke="#00ee00" stroke-width="1" stroke-linejoin="round" stroke-linecap="round" />
<line x1="215.6" y1="25.2" x2="231.6" y2="25.2" stroke="#000" stroke-width="1.5" />
<g fill="#fff" stroke="#000" stroke-width="1.1">
<circle cx="223.6" cy="25.2" r="1.75"/>
</g>
<line x1="215.6" y1="33.7" x2="231.6" y2="33.7" stroke="#00ee00" stroke-width="1.5" />
<line x1="215.6" y1="42.4" x2="231.6" y2="42.4" stroke="#ff00ff" stroke-width="1.5" />
<line x1="215.6" y1="51" x2="231.6" y2="51" stroke="#c030c8" stroke-width="1.5" />
<line x1="215.6" y1="59.7" x2="231.6" y2="59.7" stroke="#0000ff" stroke-width="1.5" />
<text x="233.7" y="27.6" font-size="7" text-anchor="start" font-weight="normal" fill="#000"  stroke="#000" stroke-width="0.1">Fitting</text>
<text x="233.7" y="36.1" font-size="7" text-anchor="start" font-weight="normal" fill="#000"  stroke="#000" stroke-width="0.1">TaO</text>
<text x="233.7" y="44.8" font-size="7" text-anchor="start" font-weight="normal" fill="#000"  stroke="#000" stroke-width="0.1">TaON</text>
<text x="233.7" y="53.4" font-size="7" text-anchor="start" font-weight="normal" fill="#000"  stroke="#000" stroke-width="0.1">Ta</text>
<text x="233.7" y="62.1" font-size="7" text-anchor="start" font-weight="normal" fill="#000"  stroke="#000" stroke-width="0.1">TaN</text>
<text x="350.5" y="26.9" font-size="8.3" font-weight="bold" text-anchor="end" stroke="#000" stroke-width="0.1">Ta 4<tspan font-style="italic">f</tspan></text>
<text x="304.6" y="27.7" font-size="6.4" stroke="#000" stroke-width="0.1">Ta 4<tspan font-style="italic">f</tspan><tspan font-size="4" dy="1.3">7/2</tspan></text>
<text x="287.2" y="44.8" font-size="6.4" stroke="#000" stroke-width="0.1">Ta 4<tspan font-style="italic">f</tspan><tspan font-size="4" dy="1.3">5/2</tspan></text>
<text x="262.6" y="61.3" font-size="6.8" text-anchor="start" font-weight="normal" fill="#000" textLength="23.7" lengthAdjust="spacingAndGlyphs"  stroke="#000" stroke-width="0.1">22.9 eV</text>
<line x1="289.2" y1="58.4" x2="322.6" y2="64.9" stroke="#222" stroke-width="0.6" />
<polygon points="322.6,64.9 319.45,65.41 319.87,63.25" fill="#222"/>
<text x="248.2" y="87.2" font-size="6.8" text-anchor="start" font-weight="normal" fill="#000" textLength="27.2" lengthAdjust="spacingAndGlyphs"  stroke="#000" stroke-width="0.1">24.81 eV</text>
<line x1="278" y1="86.5" x2="304.6" y2="90.9" stroke="#222" stroke-width="0.6" />
<polygon points="304.6,90.9 301.46,91.5 301.82,89.33" fill="#222"/>
<text x="249.8" y="99.5" font-size="6.8" text-anchor="start" font-weight="normal" fill="#000" textLength="27.2" lengthAdjust="spacingAndGlyphs"  stroke="#000" stroke-width="0.1">24.39 eV</text>
<line x1="280.9" y1="96.9" x2="308.2" y2="100.4" stroke="#222" stroke-width="0.6" />
<polygon points="308.2,100.4 305.08,101.11 305.36,98.93" fill="#222"/>
<text x="316.5" y="129.3" font-size="6.8" text-anchor="start" font-weight="normal" fill="#000" textLength="27.9" lengthAdjust="spacingAndGlyphs"  stroke="#000" stroke-width="0.1">22.28 eV</text>
<line x1="332.3" y1="122.5" x2="329.8" y2="113.2" stroke="#222" stroke-width="0.6" />
<polygon points="329.8,113.2 331.64,115.81 329.52,116.38" fill="#222"/>
<text x="240.3" y="148.5" font-size="9" text-anchor="start" font-weight="normal" fill="#000" textLength="84.6" lengthAdjust="spacingAndGlyphs"  stroke="#000" stroke-width="0.1">Binding energy (eV)</text>
<text transform="translate(204.4,74.75) rotate(-90)" font-size="8.8" text-anchor="middle" textLength="59.3" lengthAdjust="spacingAndGlyphs" stroke="#000" stroke-width="0.1">Intensity (a.u.)</text>
<text x="359.2" y="10.2" font-size="10" text-anchor="start" font-weight="bold" fill="#000"  stroke="#000" stroke-width="0.1">(c)</text>
<rect x="395.5" y="17.9" width="146" height="117.2" fill="none" stroke="#000" stroke-width="1.2"/>
<line x1="541.45" y1="135.1" x2="541.45" y2="133.6" stroke="#000" stroke-width="0.8" />
<line x1="534.5" y1="135.1" x2="534.5" y2="132.6" stroke="#000" stroke-width="0.8" />
<line x1="527.55" y1="135.1" x2="527.55" y2="133.6" stroke="#000" stroke-width="0.8" />
<line x1="520.6" y1="135.1" x2="520.6" y2="132.6" stroke="#000" stroke-width="0.8" />
<line x1="513.65" y1="135.1" x2="513.65" y2="133.6" stroke="#000" stroke-width="0.8" />
<line x1="506.7" y1="135.1" x2="506.7" y2="132.6" stroke="#000" stroke-width="0.8" />
<line x1="499.75" y1="135.1" x2="499.75" y2="133.6" stroke="#000" stroke-width="0.8" />
<line x1="492.8" y1="135.1" x2="492.8" y2="132.6" stroke="#000" stroke-width="0.8" />
<line x1="485.85" y1="135.1" x2="485.85" y2="133.6" stroke="#000" stroke-width="0.8" />
<line x1="478.9" y1="135.1" x2="478.9" y2="132.6" stroke="#000" stroke-width="0.8" />
<line x1="471.95" y1="135.1" x2="471.95" y2="133.6" stroke="#000" stroke-width="0.8" />
<line x1="465" y1="135.1" x2="465" y2="132.6" stroke="#000" stroke-width="0.8" />
<line x1="458.05" y1="135.1" x2="458.05" y2="133.6" stroke="#000" stroke-width="0.8" />
<line x1="451.1" y1="135.1" x2="451.1" y2="132.6" stroke="#000" stroke-width="0.8" />
<line x1="444.15" y1="135.1" x2="444.15" y2="133.6" stroke="#000" stroke-width="0.8" />
<line x1="437.2" y1="135.1" x2="437.2" y2="132.6" stroke="#000" stroke-width="0.8" />
<line x1="430.25" y1="135.1" x2="430.25" y2="133.6" stroke="#000" stroke-width="0.8" />
<line x1="423.3" y1="135.1" x2="423.3" y2="132.6" stroke="#000" stroke-width="0.8" />
<line x1="416.35" y1="135.1" x2="416.35" y2="133.6" stroke="#000" stroke-width="0.8" />
<line x1="409.4" y1="135.1" x2="409.4" y2="132.6" stroke="#000" stroke-width="0.8" />
<line x1="402.45" y1="135.1" x2="402.45" y2="133.6" stroke="#000" stroke-width="0.8" />
<line x1="395.5" y1="135.1" x2="395.5" y2="132.6" stroke="#000" stroke-width="0.8" />
<text x="395.5" y="143.6" font-size="7" text-anchor="middle" font-weight="normal" fill="#000"  stroke="#000" stroke-width="0.1">412</text>
<text x="409.4" y="143.6" font-size="7" text-anchor="middle" font-weight="normal" fill="#000"  stroke="#000" stroke-width="0.1">410</text>
<text x="423.3" y="143.6" font-size="7" text-anchor="middle" font-weight="normal" fill="#000"  stroke="#000" stroke-width="0.1">408</text>
<text x="437.2" y="143.6" font-size="7" text-anchor="middle" font-weight="normal" fill="#000"  stroke="#000" stroke-width="0.1">406</text>
<text x="451.1" y="143.6" font-size="7" text-anchor="middle" font-weight="normal" fill="#000"  stroke="#000" stroke-width="0.1">404</text>
<text x="465" y="143.6" font-size="7" text-anchor="middle" font-weight="normal" fill="#000"  stroke="#000" stroke-width="0.1">402</text>
<text x="478.9" y="143.6" font-size="7" text-anchor="middle" font-weight="normal" fill="#000"  stroke="#000" stroke-width="0.1">400</text>
<text x="492.8" y="143.6" font-size="7" text-anchor="middle" font-weight="normal" fill="#000"  stroke="#000" stroke-width="0.1">398</text>
<text x="506.7" y="143.6" font-size="7" text-anchor="middle" font-weight="normal" fill="#000"  stroke="#000" stroke-width="0.1">396</text>
<text x="520.6" y="143.6" font-size="7" text-anchor="middle" font-weight="normal" fill="#000"  stroke="#000" stroke-width="0.1">394</text>
<text x="534.5" y="143.6" font-size="7" text-anchor="middle" font-weight="normal" fill="#000"  stroke="#000" stroke-width="0.1">392</text>
<line x1="395.5" y1="127.3" x2="398.1" y2="127.3" stroke="#000" stroke-width="0.9" />
<line x1="395.5" y1="120.5" x2="397.1" y2="120.5" stroke="#000" stroke-width="0.9" />
<line x1="395.5" y1="113.7" x2="398.1" y2="113.7" stroke="#000" stroke-width="0.9" />
<line x1="395.5" y1="106.9" x2="397.1" y2="106.9" stroke="#000" stroke-width="0.9" />
<line x1="395.5" y1="100.1" x2="398.1" y2="100.1" stroke="#000" stroke-width="0.9" />
<line x1="395.5" y1="93.3" x2="397.1" y2="93.3" stroke="#000" stroke-width="0.9" />
<line x1="395.5" y1="86.5" x2="398.1" y2="86.5" stroke="#000" stroke-width="0.9" />
<line x1="395.5" y1="79.7" x2="397.1" y2="79.7" stroke="#000" stroke-width="0.9" />
<line x1="395.5" y1="72.9" x2="398.1" y2="72.9" stroke="#000" stroke-width="0.9" />
<line x1="395.5" y1="66.1" x2="397.1" y2="66.1" stroke="#000" stroke-width="0.9" />
<line x1="395.5" y1="59.3" x2="398.1" y2="59.3" stroke="#000" stroke-width="0.9" />
<line x1="395.5" y1="52.5" x2="397.1" y2="52.5" stroke="#000" stroke-width="0.9" />
<line x1="395.5" y1="45.7" x2="398.1" y2="45.7" stroke="#000" stroke-width="0.9" />
<line x1="395.5" y1="38.9" x2="397.1" y2="38.9" stroke="#000" stroke-width="0.9" />
<line x1="395.5" y1="32.1" x2="398.1" y2="32.1" stroke="#000" stroke-width="0.9" />
<line x1="395.5" y1="25.3" x2="397.1" y2="25.3" stroke="#000" stroke-width="0.9" />
<polyline points="405.1,91.6 405.73,91.6 406.35,91.61 406.98,91.62 407.61,91.62 408.23,91.63 408.86,91.64 409.49,91.65 410.11,91.66 410.74,91.67 411.37,91.68 411.99,91.7 412.62,91.71 413.25,91.72 413.87,91.74 414.5,91.75 415.13,91.77 415.75,91.78 416.38,91.8 417.01,91.82 417.63,91.83 418.26,91.85 418.89,91.87 419.51,91.89 420.14,91.9 420.77,91.92 421.39,91.94 422.02,91.96 422.65,91.98 423.27,92 423.9,92.02 424.53,92.04 425.15,92.07 425.78,92.09 426.41,92.12 427.03,92.14 427.66,92.17 428.29,92.2 428.91,92.22 429.54,92.25 430.17,92.28 430.79,92.32 431.42,92.35 432.05,92.38 432.67,92.42 433.3,92.46 433.93,92.5 434.55,92.54 435.18,92.58 435.81,92.62 436.43,92.66 437.06,92.71 437.68,92.76 438.31,92.81 438.94,92.86 439.56,92.91 440.19,92.97 440.82,93.03 441.44,93.09 442.07,93.15 442.7,93.23 443.32,93.33 443.95,93.44 444.58,93.56 445.2,93.7 445.83,93.84 446.46,94 447.08,94.15 447.71,94.32 448.34,94.49 448.96,94.65 449.59,94.82 450.22,94.99 450.84,95.16 451.47,95.32 452.1,95.49 452.72,95.66 453.35,95.84 453.98,96.01 454.6,96.2 455.23,96.38 455.86,96.57 456.48,96.76 457.11,96.96 457.74,97.16 458.36,97.36 458.99,97.57 459.62,97.78 460.24,98 460.87,98.22 461.5,98.45 462.12,98.68 462.75,98.91 463.38,99.15 464,99.4 464.63,99.67 465.26,99.96 465.88,100.26 466.51,100.56 467.14,100.87 467.76,101.17 468.39,101.46 469.02,101.74 469.64,102.02 470.27,102.29 470.9,102.57 471.52,102.84 472.15,103.12 472.78,103.39 473.4,103.66 474.03,103.92 474.66,104.18 475.28,104.44 475.91,104.7 476.54,104.94 477.16,105.19 477.79,105.42 478.42,105.65 479.04,105.87 479.67,106.07 480.3,106.28 480.92,106.47 481.55,106.67 482.18,106.87 482.8,107.08 483.43,107.29 484.06,107.52 484.68,107.76 485.31,108.01 485.94,108.27 486.56,108.54 487.19,108.81 487.82,109.09 488.44,109.37 489.07,109.66 489.7,109.94 490.32,110.23 490.95,110.51 491.58,110.79 492.2,111.06 492.83,111.33 493.46,111.58 494.08,111.83 494.71,112.08 495.34,112.33 495.96,112.58 496.59,112.84 497.22,113.09 497.84,113.35 498.47,113.6 499.09,113.85 499.72,114.1 500.35,114.35 500.97,114.58 501.6,114.82 502.23,115.04 502.85,115.26 503.48,115.46 504.11,115.66 504.73,115.84 505.36,116.02 505.99,116.17 506.61,116.32 507.24,116.45 507.87,116.57 508.49,116.69 509.12,116.81 509.75,116.93 510.37,117.04 511,117.15 511.63,117.25 512.25,117.35 512.88,117.44 513.51,117.54 514.13,117.62 514.76,117.71 515.39,117.79 516.01,117.86 516.64,117.93 517.27,118 517.89,118.06 518.52,118.12 519.15,118.17 519.77,118.21 520.4,118.26 521.03,118.3 521.65,118.34 522.28,118.39 522.91,118.43 523.53,118.47 524.16,118.5 524.79,118.54 525.41,118.57 526.04,118.6 526.67,118.62 527.29,118.65 527.92,118.67 528.55,118.68 529.17,118.69 529.8,118.7" fill="none" stroke="#000" stroke-width="1.1" stroke-linejoin="round" stroke-linecap="round" />
<polyline points="405,91.38 405.42,91.38 405.84,91.39 406.26,91.39 406.69,91.4 407.11,91.4 407.53,91.41 407.95,91.41 408.37,91.42 408.79,91.43 409.21,91.43 409.64,91.44 410.06,91.45 410.48,91.46 410.9,91.46 411.32,91.47 411.74,91.48 412.16,91.49 412.59,91.5 413.01,91.51 413.43,91.52 413.85,91.53 414.27,91.54 414.69,91.55 415.11,91.56 415.54,91.57 415.96,91.58 416.38,91.59 416.8,91.6 417.22,91.62 417.64,91.63 418.06,91.64 418.48,91.66 418.91,91.67 419.33,91.68 419.75,91.7 420.17,91.71 420.59,91.73 421.01,91.74 421.43,91.75 421.86,91.76 422.28,91.77 422.7,91.78 423.12,91.78 423.54,91.79 423.96,91.79 424.38,91.79 424.81,91.8 425.23,91.8 425.65,91.8 426.07,91.81 426.49,91.81 426.91,91.81 427.33,91.81 427.76,91.81 428.18,91.82 428.6,91.82 429.02,91.82 429.44,91.83 429.86,91.83 430.28,91.84 430.71,91.85 431.13,91.85 431.55,91.86 431.97,91.87 432.39,91.88 432.81,91.9 433.23,91.91 433.66,91.93 434.08,91.95 434.5,91.97 434.92,91.99 435.34,92.01 435.76,92.04 436.18,92.07 436.61,92.1 437.03,92.14 437.45,92.17 437.87,92.21 438.29,92.25 438.71,92.3 439.13,92.35 439.56,92.4 439.98,92.46 440.4,92.51 440.82,92.58 441.24,92.64 441.66,92.71 442.08,92.78 442.51,92.85 442.93,92.93 443.35,93 443.77,93.07 444.19,93.14 444.61,93.22 445.03,93.29 445.45,93.36 445.88,93.43 446.3,93.51 446.72,93.58 447.14,93.66 447.56,93.73 447.98,93.8 448.4,93.88 448.83,93.95 449.25,94.03 449.67,94.1 450.09,94.18 450.51,94.25 450.93,94.32 451.35,94.4 451.78,94.47 452.2,94.55 452.62,94.62 453.04,94.7 453.46,94.77 453.88,94.85 454.3,94.92 454.73,95 455.15,95.07 455.57,95.14 455.99,95.22 456.41,95.29 456.83,95.36 457.25,95.44 457.68,95.51 458.1,95.58 458.52,95.65 458.94,95.73 459.36,95.8 459.78,95.87 460.2,95.94 460.63,96.01 461.05,96.07 461.47,96.14 461.89,96.21 462.31,96.27 462.73,96.34 463.15,96.4 463.58,96.47 464,96.54 464.42,96.63 464.84,96.73 465.26,96.84 465.68,96.96 466.1,97.09 466.53,97.22 466.95,97.36 467.37,97.51 467.79,97.66 468.21,97.82 468.63,97.97 469.05,98.12 469.47,98.27 469.9,98.42 470.32,98.56 470.74,98.7 471.16,98.83 471.58,98.95 472,99.06 472.42,99.16 472.85,99.24 473.27,99.31 473.69,99.37 474.11,99.4 474.53,99.41 474.95,99.4 475.37,99.37 475.8,99.31 476.22,99.22 476.64,99.11 477.06,98.99 477.48,98.85 477.9,98.69 478.32,98.5 478.75,98.29 479.17,98.06 479.59,97.79 480.01,97.49 480.43,97.16 480.85,96.78 481.27,96.35 481.7,95.87 482.12,95.33 482.54,94.73 482.96,94.06 483.38,93.32 483.8,92.49 484.22,91.57 484.65,90.55 485.07,89.43 485.49,88.2 485.91,86.86 486.33,85.39 486.75,83.8 487.17,82.08 487.6,80.24 488.02,78.26 488.44,76.16 488.86,73.94 489.28,71.61 489.7,69.19 490.12,66.7 490.55,64.17 490.97,61.62 491.39,59.1 491.81,56.67 492.23,54.37 492.65,52.28 493.07,50.47 493.49,48.99 493.92,47.92 494.34,47.3 494.76,47.17 495.18,47.54 495.6,48.4 496.02,49.73 496.44,51.46 496.87,53.54 497.29,55.9 497.71,58.48 498.13,61.19 498.55,63.99 498.97,66.83 499.39,69.65 499.82,72.42 500.24,75.12 500.66,77.73 501.08,80.22 501.5,82.59 501.92,84.83 502.34,86.93 502.77,88.9 503.19,90.74 503.61,92.44 504.03,94.01 504.45,95.47 504.87,96.8 505.29,98.03 505.72,99.15 506.14,100.18 506.56,101.12 506.98,101.97 507.4,102.75 507.82,103.47 508.24,104.12 508.67,104.72 509.09,105.27 509.51,105.77 509.93,106.24 510.35,106.67 510.77,107.07 511.19,107.44 511.62,107.79 512.04,108.12 512.46,108.42 512.88,108.72 513.3,108.99 513.72,109.25 514.14,109.5 514.57,109.74 514.99,109.97 515.41,110.19 515.83,110.4 516.25,110.61 516.67,110.81 517.09,111 517.52,111.18 517.94,111.36 518.36,111.54 518.78,111.71 519.2,111.88 519.62,112.04 520.04,112.2 520.46,112.35 520.89,112.5 521.31,112.65 521.73,112.8 522.15,112.94 522.57,113.08 522.99,113.22 523.41,113.35 523.84,113.48 524.26,113.61 524.68,113.74 525.1,113.87 525.52,114 525.94,114.12 526.36,114.24 526.79,114.36 527.21,114.48 527.63,114.59 528.05,114.71 528.47,114.82 528.89,114.94 529.31,115.05 529.74,115.16 530.16,115.27 530.58,115.38 531,115.49" fill="none" stroke="#8a1ef0" stroke-width="1.5" stroke-linejoin="round" stroke-linecap="round" />
<polyline points="405.23,88.32 406.06,88.26 406.9,88.2 407.73,88.13 408.57,88.06 409.4,87.98 410.23,87.9 411.07,87.81 411.9,87.72 412.74,87.62 413.57,87.52 414.4,87.4 415.24,87.28 416.07,87.15 416.91,87.02 417.74,86.88 418.57,86.72 419.41,86.56 420.24,86.39 421.08,86.2 421.91,86.01 422.74,85.8 423.58,85.58 424.41,85.35 425.25,85.1 426.08,84.84 426.91,84.56 427.75,84.27 428.58,83.96 429.42,83.62 430.25,83.27 431.08,82.89 431.92,82.49 432.75,82.06 433.59,81.61 434.42,81.13 435.25,80.61 436.09,80.07 436.92,79.48 437.76,78.86 438.59,78.2 439.42,77.5 440.26,76.76 441.09,75.96 441.93,75.11 442.76,74.21 443.59,73.26 444.43,72.24 445.26,71.15 446.1,70 446.93,68.78 447.76,67.49 448.6,66.12 449.43,64.67 450.27,63.13 451.1,61.52 451.93,59.82 452.77,58.05 453.6,56.19 454.44,54.27 455.27,52.28 456.1,50.24 456.94,48.16 457.77,46.06 458.61,43.96 459.44,41.89 460.27,39.88 461.11,37.97 461.94,36.18 462.78,34.56 463.61,33.15 464.44,31.99 465.28,31.1 466.11,30.51 466.95,30.25 467.78,30.33 468.61,30.73 469.45,31.46 470.28,32.49 471.12,33.78 471.95,35.32 472.78,37.04 473.62,38.92 474.45,40.9 475.29,42.94 476.12,44.99 476.95,47.02 477.79,48.99 478.62,50.85 479.46,52.58 480.29,54.15 481.12,55.51 481.96,56.65 482.79,57.51 483.63,58.06 484.46,58.26 485.29,58.06 486.13,57.4 486.96,56.21 487.8,54.43 488.63,52.02 489.46,48.95 490.3,45.28 491.13,41.15 491.97,36.92 492.8,33.13 493.63,30.5 494.47,29.7 495.3,31.15 496.14,34.81 496.97,40.16 497.8,46.5 498.64,53.13 499.47,59.57 500.31,65.51 501.14,70.84 501.97,75.53 502.81,79.62 503.64,83.17 504.48,86.26 505.31,88.95 506.14,91.31 506.98,93.38 507.81,95.2 508.65,96.83 509.48,98.28 510.31,99.58 511.15,100.76 511.98,101.84 512.82,102.81 513.65,103.71 514.48,104.54 515.32,105.3 516.15,106.01 516.99,106.67 517.82,107.29 518.65,107.87 519.49,108.41 520.32,108.92 521.16,109.41 521.99,109.86 522.82,110.3 523.66,110.71 524.49,111.11 525.33,111.48 526.16,111.84 526.99,112.19 527.83,112.51 528.66,112.83 529.5,113.14 530.33,113.43" fill="none" stroke="#000" stroke-width="0.9" stroke-linejoin="round" stroke-linecap="round" />
<g stroke="#000000" stroke-width="1.1">
<circle cx="405.23" cy="88.32" r="1.35" fill="#000000"/>
<circle cx="406.06" cy="88.26" r="1.35" fill="#000000"/>
<circle cx="406.9" cy="88.2" r="1.35" fill="#000000"/>
<circle cx="407.73" cy="88.13" r="1.35" fill="#000000"/>
<circle cx="408.57" cy="88.06" r="1.35" fill="#000000"/>
<circle cx="409.4" cy="87.98" r="1.35" fill="#000000"/>
<circle cx="410.23" cy="87.9" r="1.35" fill="#000000"/>
<circle cx="411.07" cy="87.81" r="1.35" fill="#000000"/>
<circle cx="411.9" cy="87.72" r="1.35" fill="#000000"/>
<circle cx="412.74" cy="87.62" r="1.35" fill="#000000"/>
<circle cx="413.57" cy="87.52" r="1.35" fill="#000000"/>
<circle cx="414.4" cy="87.4" r="1.35" fill="#000000"/>
<circle cx="415.24" cy="87.28" r="1.35" fill="#000000"/>
<circle cx="416.07" cy="87.15" r="1.35" fill="#000000"/>
<circle cx="416.91" cy="87.02" r="1.35" fill="#000000"/>
<circle cx="417.74" cy="86.88" r="1.35" fill="#000000"/>
<circle cx="418.57" cy="86.72" r="1.35" fill="#000000"/>
<circle cx="419.41" cy="86.56" r="1.35" fill="#000000"/>
<circle cx="420.24" cy="86.39" r="1.35" fill="#000000"/>
<circle cx="421.08" cy="86.2" r="1.35" fill="#000000"/>
<circle cx="421.91" cy="86.01" r="1.35" fill="#000000"/>
<circle cx="422.74" cy="85.8" r="1.35" fill="#000000"/>
<circle cx="423.58" cy="85.58" r="1.35" fill="#000000"/>
<circle cx="424.41" cy="85.35" r="1.35" fill="#000000"/>
<circle cx="425.25" cy="85.1" r="1.35" fill="#000000"/>
<circle cx="426.08" cy="84.84" r="1.35" fill="#000000"/>
<circle cx="426.91" cy="84.56" r="1.35" fill="#000000"/>
<circle cx="427.75" cy="84.27" r="1.35" fill="#000000"/>
<circle cx="428.58" cy="83.96" r="1.35" fill="#000000"/>
<circle cx="429.42" cy="83.62" r="1.35" fill="#000000"/>
<circle cx="430.25" cy="83.27" r="1.35" fill="#000000"/>
<circle cx="431.08" cy="82.89" r="1.35" fill="#000000"/>
<circle cx="431.92" cy="82.49" r="1.35" fill="#000000"/>
<circle cx="432.75" cy="82.06" r="1.35" fill="#000000"/>
<circle cx="433.59" cy="81.61" r="1.35" fill="#000000"/>
<circle cx="434.42" cy="81.13" r="1.35" fill="#000000"/>
<circle cx="435.25" cy="80.61" r="1.35" fill="#000000"/>
<circle cx="436.09" cy="80.07" r="1.35" fill="#000000"/>
<circle cx="436.92" cy="79.48" r="1.35" fill="#040404"/>
<circle cx="437.76" cy="78.86" r="1.35" fill="#080808"/>
<circle cx="438.59" cy="78.2" r="1.35" fill="#0d0d0d"/>
<circle cx="439.42" cy="77.5" r="1.35" fill="#131313"/>
<circle cx="440.26" cy="76.76" r="1.35" fill="#191919"/>
<circle cx="441.09" cy="75.96" r="1.35" fill="#202020"/>
<circle cx="441.93" cy="75.11" r="1.35" fill="#282828"/>
<circle cx="442.76" cy="74.21" r="1.35" fill="#303030"/>
<circle cx="443.59" cy="73.26" r="1.35" fill="#393939"/>
<circle cx="444.43" cy="72.24" r="1.35" fill="#434343"/>
<circle cx="445.26" cy="71.15" r="1.35" fill="#4e4e4e"/>
<circle cx="446.1" cy="70" r="1.35" fill="#595959"/>
<circle cx="446.93" cy="68.78" r="1.35" fill="#666666"/>
<circle cx="447.76" cy="67.49" r="1.35" fill="#737373"/>
<circle cx="448.6" cy="66.12" r="1.35" fill="#818181"/>
<circle cx="449.43" cy="64.67" r="1.35" fill="#8f8f8f"/>
<circle cx="450.27" cy="63.13" r="1.35" fill="#9e9e9e"/>
<circle cx="451.1" cy="61.52" r="1.35" fill="#aeaeae"/>
<circle cx="451.93" cy="59.82" r="1.35" fill="#bdbdbd"/>
<circle cx="452.77" cy="58.05" r="1.35" fill="#cccccc"/>
<circle cx="453.6" cy="56.19" r="1.35" fill="#dbdbdb"/>
<circle cx="454.44" cy="54.27" r="1.35" fill="#e9e9e9"/>
<circle cx="455.27" cy="52.28" r="1.35" fill="#f5f5f5"/>
<circle cx="456.1" cy="50.24" r="1.35" fill="#ffffff"/>
<circle cx="456.94" cy="48.16" r="1.35" fill="#ffffff"/>
<circle cx="457.77" cy="46.06" r="1.35" fill="#ffffff"/>
<circle cx="458.61" cy="43.96" r="1.35" fill="#ffffff"/>
<circle cx="459.44" cy="41.89" r="1.35" fill="#fafafa"/>
<circle cx="460.27" cy="39.88" r="1.35" fill="#e8e8e8"/>
<circle cx="461.11" cy="37.97" r="1.35" fill="#cfcfcf"/>
<circle cx="461.94" cy="36.18" r="1.35" fill="#aeaeae"/>
<circle cx="462.78" cy="34.56" r="1.35" fill="#888888"/>
<circle cx="463.61" cy="33.15" r="1.35" fill="#5c5c5c"/>
<circle cx="464.44" cy="31.99" r="1.35" fill="#2e2e2e"/>
<circle cx="465.28" cy="31.1" r="1.35" fill="#040404"/>
<circle cx="466.11" cy="30.51" r="1.35" fill="#000000"/>
<circle cx="466.95" cy="30.25" r="1.35" fill="#000000"/>
<circle cx="467.78" cy="30.33" r="1.35" fill="#000000"/>
<circle cx="468.61" cy="30.73" r="1.35" fill="#000000"/>
<circle cx="469.45" cy="31.46" r="1.35" fill="#171717"/>
<circle cx="470.28" cy="32.49" r="1.35" fill="#454545"/>
<circle cx="471.12" cy="33.78" r="1.35" fill="#737373"/>
<circle cx="471.95" cy="35.32" r="1.35" fill="#9e9e9e"/>
<circle cx="472.78" cy="37.04" r="1.35" fill="#c3c3c3"/>
<circle cx="473.62" cy="38.92" r="1.35" fill="#e0e0e0"/>
<circle cx="474.45" cy="40.9" r="1.35" fill="#f4f4f4"/>
<circle cx="475.29" cy="42.94" r="1.35" fill="#ffffff"/>
<circle cx="476.12" cy="44.99" r="1.35" fill="#fefefe"/>
<circle cx="476.95" cy="47.02" r="1.35" fill="#f1f1f1"/>
<circle cx="477.79" cy="48.99" r="1.35" fill="#dedede"/>
<circle cx="478.62" cy="50.85" r="1.35" fill="#c4c4c4"/>
<circle cx="479.46" cy="52.58" r="1.35" fill="#a4a4a4"/>
<circle cx="480.29" cy="54.15" r="1.35" fill="#808080"/>
<circle cx="481.12" cy="55.51" r="1.35" fill="#565656"/>
<circle cx="481.96" cy="56.65" r="1.35" fill="#2b2b2b"/>
<circle cx="482.79" cy="57.51" r="1.35" fill="#000000"/>
<circle cx="483.63" cy="58.06" r="1.35" fill="#000000"/>
<circle cx="484.46" cy="58.26" r="1.35" fill="#000000"/>
<circle cx="485.29" cy="58.06" r="1.35" fill="#000000"/>
<circle cx="486.13" cy="57.4" r="1.35" fill="#0e0e0e"/>
<circle cx="486.96" cy="56.21" r="1.35" fill="#606060"/>
<circle cx="487.8" cy="54.43" r="1.35" fill="#cccccc"/>
<circle cx="488.63" cy="52.02" r="1.35" fill="#ffffff"/>
<circle cx="489.46" cy="48.95" r="1.35" fill="#ffffff"/>
<circle cx="490.3" cy="45.28" r="1.35" fill="#ffffff"/>
<circle cx="491.13" cy="41.15" r="1.35" fill="#ffffff"/>
<circle cx="491.97" cy="36.92" r="1.35" fill="#ffffff"/>
<circle cx="492.8" cy="33.13" r="1.35" fill="#ffffff"/>
<circle cx="493.63" cy="30.5" r="1.35" fill="#212121"/>
<circle cx="494.47" cy="29.7" r="1.35" fill="#212121"/>
<circle cx="495.3" cy="31.15" r="1.35" fill="#909090"/>
<circle cx="496.14" cy="34.81" r="1.35" fill="#ffffff"/>
<circle cx="496.97" cy="40.16" r="1.35" fill="#ffffff"/>
<circle cx="497.8" cy="46.5" r="1.35" fill="#ffffff"/>
<circle cx="498.64" cy="53.13" r="1.35" fill="#ffffff"/>
<circle cx="499.47" cy="59.57" r="1.35" fill="#ffffff"/>
<circle cx="500.31" cy="65.51" r="1.35" fill="#ffffff"/>
<circle cx="501.14" cy="70.84" r="1.35" fill="#ffffff"/>
<circle cx="501.97" cy="75.53" r="1.35" fill="#ffffff"/>
<circle cx="502.81" cy="79.62" r="1.35" fill="#ffffff"/>
<circle cx="503.64" cy="83.17" r="1.35" fill="#ffffff"/>
<circle cx="504.48" cy="86.26" r="1.35" fill="#ffffff"/>
<circle cx="505.31" cy="88.95" r="1.35" fill="#ffffff"/>
<circle cx="506.14" cy="91.31" r="1.35" fill="#ffffff"/>
<circle cx="506.98" cy="93.38" r="1.35" fill="#d6d6d6"/>
<circle cx="507.81" cy="95.2" r="1.35" fill="#afafaf"/>
<circle cx="508.65" cy="96.83" r="1.35" fill="#8f8f8f"/>
<circle cx="509.48" cy="98.28" r="1.35" fill="#757575"/>
<circle cx="510.31" cy="99.58" r="1.35" fill="#5e5e5e"/>
<circle cx="511.15" cy="100.76" r="1.35" fill="#4c4c4c"/>
<circle cx="511.98" cy="101.84" r="1.35" fill="#3d3d3d"/>
<circle cx="512.82" cy="102.81" r="1.35" fill="#303030"/>
<circle cx="513.65" cy="103.71" r="1.35" fill="#252525"/>
<circle cx="514.48" cy="104.54" r="1.35" fill="#1c1c1c"/>
<circle cx="515.32" cy="105.3" r="1.35" fill="#141414"/>
<circle cx="516.15" cy="106.01" r="1.35" fill="#0e0e0e"/>
<circle cx="516.99" cy="106.67" r="1.35" fill="#080808"/>
<circle cx="517.82" cy="107.29" r="1.35" fill="#030303"/>
<circle cx="518.65" cy="107.87" r="1.35" fill="#000000"/>
<circle cx="519.49" cy="108.41" r="1.35" fill="#000000"/>
<circle cx="520.32" cy="108.92" r="1.35" fill="#000000"/>
<circle cx="521.16" cy="109.41" r="1.35" fill="#000000"/>
<circle cx="521.99" cy="109.86" r="1.35" fill="#000000"/>
<circle cx="522.82" cy="110.3" r="1.35" fill="#000000"/>
<circle cx="523.66" cy="110.71" r="1.35" fill="#000000"/>
<circle cx="524.49" cy="111.11" r="1.35" fill="#000000"/>
<circle cx="525.33" cy="111.48" r="1.35" fill="#000000"/>
<circle cx="526.16" cy="111.84" r="1.35" fill="#000000"/>
<circle cx="526.99" cy="112.19" r="1.35" fill="#000000"/>
<circle cx="527.83" cy="112.51" r="1.35" fill="#000000"/>
<circle cx="528.66" cy="112.83" r="1.35" fill="#000000"/>
<circle cx="529.5" cy="113.14" r="1.35" fill="#000000"/>
<circle cx="530.33" cy="113.43" r="1.35" fill="#000000"/>
</g>
<polyline points="405,88.81 405.42,88.76 405.84,88.71 406.26,88.66 406.69,88.61 407.11,88.56 407.53,88.51 407.95,88.46 408.37,88.41 408.79,88.35 409.21,88.3 409.64,88.24 410.06,88.19 410.48,88.13 410.9,88.07 411.32,88.01 411.74,87.95 412.16,87.89 412.59,87.83 413.01,87.77 413.43,87.7 413.85,87.63 414.27,87.57 414.69,87.5 415.11,87.43 415.54,87.35 415.96,87.28 416.38,87.2 416.8,87.13 417.22,87.05 417.64,86.97 418.06,86.89 418.48,86.8 418.91,86.71 419.33,86.62 419.75,86.53 420.17,86.44 420.59,86.34 421.01,86.25 421.43,86.14 421.86,86.04 422.28,85.93 422.7,85.83 423.12,85.71 423.54,85.6 423.96,85.48 424.38,85.36 424.81,85.23 425.23,85.1 425.65,84.97 426.07,84.83 426.49,84.69 426.91,84.54 427.33,84.39 427.76,84.24 428.18,84.08 428.6,83.92 429.02,83.75 429.44,83.57 429.86,83.4 430.28,83.21 430.71,83.02 431.13,82.82 431.55,82.62 431.97,82.41 432.39,82.19 432.81,81.97 433.23,81.74 433.66,81.5 434.08,81.26 434.5,81 434.92,80.74 435.34,80.47 435.76,80.2 436.18,79.91 436.61,79.62 437.03,79.31 437.45,79 437.87,78.67 438.29,78.34 438.71,77.99 439.13,77.64 439.56,77.27 439.98,76.9 440.4,76.51 440.82,76.11 441.24,75.7 441.66,75.28 442.08,74.84 442.51,74.4 442.93,73.94 443.35,73.47 443.77,72.99 444.19,72.5 444.61,71.99 445.03,71.46 445.45,70.93 445.88,70.38 446.3,69.81 446.72,69.23 447.14,68.64 447.56,68.03 447.98,67.41 448.4,66.77 448.83,66.12 449.25,65.45 449.67,64.76 450.09,64.07 450.51,63.35 450.93,62.62 451.35,61.88 451.78,61.12 452.2,60.35 452.62,59.56 453.04,58.76 453.46,57.94 453.88,57.12 454.3,56.28 454.73,55.43 455.15,54.57 455.57,53.7 455.99,52.82 456.41,51.94 456.83,51.05 457.25,50.15 457.68,49.25 458.1,48.35 458.52,47.45 458.94,46.56 459.36,45.67 459.78,44.78 460.2,43.91 460.63,43.05 461.05,42.21 461.47,41.38 461.89,40.58 462.31,39.81 462.73,39.06 463.15,38.35 463.58,37.67 464,37.03 464.42,36.43 464.84,35.88 465.26,35.38 465.68,34.94 466.1,34.55 466.53,34.21 466.95,33.94 467.37,33.73 467.79,33.59 468.21,33.52 468.63,33.51 469.05,33.58 469.47,33.72 469.9,33.93 470.32,34.21 470.74,34.56 471.16,34.98 471.58,35.47 472,36.03 472.42,36.66 472.85,37.35 473.27,38.09 473.69,38.9 474.11,39.76 474.53,40.67 474.95,41.63 475.37,42.64 475.8,43.68 476.22,44.77 476.64,45.88 477.06,47.03 477.48,48.2 477.9,49.39 478.32,50.6 478.75,51.83 479.17,53.07 479.59,54.32 480.01,55.58 480.43,56.84 480.85,58.1 481.27,59.36 481.7,60.62 482.12,61.87 482.54,63.11 482.96,64.35 483.38,65.57 483.8,66.78 484.22,67.98 484.65,69.16 485.07,70.33 485.49,71.48 485.91,72.61 486.33,73.73 486.75,74.83 487.17,75.9 487.6,76.96 488.02,78 488.44,79.01 488.86,80.01 489.28,80.99 489.7,81.94 490.12,82.88 490.55,83.79 490.97,84.69 491.39,85.56 491.81,86.41 492.23,87.24 492.65,88.06 493.07,88.85 493.49,89.62 493.92,90.37 494.34,91.11 494.76,91.82 495.18,92.52 495.6,93.2 496.02,93.86 496.44,94.5 496.87,95.13 497.29,95.74 497.71,96.33 498.13,96.9 498.55,97.46 498.97,98.01 499.39,98.54 499.82,99.05 500.24,99.55 500.66,100.04 501.08,100.51 501.5,100.97 501.92,101.41 502.34,101.85 502.77,102.27 503.19,102.67 503.61,103.07 504.03,103.46 504.45,103.83 504.87,104.19 505.29,104.55 505.72,104.89 506.14,105.22 506.56,105.54 506.98,105.86 507.4,106.16 507.82,106.46 508.24,106.74 508.67,107.02 509.09,107.3 509.51,107.56 509.93,107.82 510.35,108.06 510.77,108.31 511.19,108.54 511.62,108.77 512.04,108.99 512.46,109.21 512.88,109.42 513.3,109.63 513.72,109.83 514.14,110.02 514.57,110.21 514.99,110.39 515.41,110.57 515.83,110.75 516.25,110.92 516.67,111.08 517.09,111.24 517.52,111.4 517.94,111.55 518.36,111.7 518.78,111.85 519.2,111.99 519.62,112.13 520.04,112.27 520.46,112.4 520.89,112.53 521.31,112.66 521.73,112.78 522.15,112.9 522.57,113.02 522.99,113.13 523.41,113.25 523.84,113.36 524.26,113.46 524.68,113.57 525.1,113.67 525.52,113.77 525.94,113.87 526.36,113.97 526.79,114.07 527.21,114.16 527.63,114.25 528.05,114.34 528.47,114.43 528.89,114.51 529.31,114.59 529.74,114.68 530.16,114.76 530.58,114.84 531,114.91" fill="none" stroke="#00ee00" stroke-width="1.5" stroke-linejoin="round" stroke-linecap="round" />
<line x1="399" y1="24.1" x2="415.3" y2="24.1" stroke="#000" stroke-width="1.5" />
<line x1="399" y1="33" x2="415.3" y2="33" stroke="#000" stroke-width="1.5" />
<g fill="#fff" stroke="#000" stroke-width="1.1">
<circle cx="407.2" cy="33" r="1.75"/>
</g>
<line x1="399" y1="42.3" x2="415.3" y2="42.3" stroke="#00ee00" stroke-width="1.5" />
<line x1="399" y1="52.2" x2="415.3" y2="52.2" stroke="#8a1ef0" stroke-width="1.5" />
<text x="417.7" y="26.5" font-size="7" text-anchor="start" font-weight="normal" fill="#000"  stroke="#000" stroke-width="0.1">Background</text>
<text x="417.7" y="35.4" font-size="7" text-anchor="start" font-weight="normal" fill="#000"  stroke="#000" stroke-width="0.1">Fitting</text>
<text x="417.7" y="44.7" font-size="7" stroke="#000" stroke-width="0.1">Ta4p<tspan font-size="4.5" dy="1.5">3/2</tspan></text>
<text x="417.7" y="54.6" font-size="7" text-anchor="start" font-weight="normal" fill="#000"  stroke="#000" stroke-width="0.1">N1s</text>
<text x="537.7" y="28.8" font-size="8.3" text-anchor="end" font-weight="bold" fill="#000"  stroke="#000" stroke-width="0.1">N 1s</text>
<text x="456.3" y="71" font-size="6.2" text-anchor="start" font-weight="normal" fill="#000" textLength="23.1" lengthAdjust="spacingAndGlyphs"  stroke="#000" stroke-width="0.1">401.7 eV</text>
<line x1="467.5" y1="65.5" x2="467.5" y2="35.5" stroke="#222" stroke-width="0.6" />
<polygon points="467.5,35.5 468.6,38.5 466.4,38.5" fill="#222"/>
<text x="513.7" y="60.4" font-size="6.2" text-anchor="start" font-weight="normal" fill="#000" textLength="24.3" lengthAdjust="spacingAndGlyphs"  stroke="#000" stroke-width="0.1">397.7 eV</text>
<line x1="498.1" y1="48.3" x2="513.3" y2="55" stroke="#333" stroke-width="0.6" />
<text x="424.8" y="154.8" font-size="9.2" text-anchor="start" font-weight="normal" fill="#000" textLength="86.3" lengthAdjust="spacingAndGlyphs"  stroke="#000" stroke-width="0.1">Binding energy (eV)</text>
<text transform="translate(389.1,76.5) rotate(-90)" font-size="8.8" text-anchor="middle" textLength="63" lengthAdjust="spacingAndGlyphs" stroke="#000" stroke-width="0.1">Intensity (a.u.)</text>
<text x="1.9" y="165.6" font-size="10" text-anchor="start" font-weight="bold" fill="#000"  stroke="#000" stroke-width="0.1">(d)</text>
<rect x="29.3" y="170.85" width="146.2" height="117.4" fill="none" stroke="#000" stroke-width="1.2"/>
<line x1="175.5" y1="288.25" x2="175.5" y2="285.75" stroke="#000" stroke-width="0.8" />
<line x1="166.36" y1="288.25" x2="166.36" y2="286.75" stroke="#000" stroke-width="0.8" />
<line x1="157.22" y1="288.25" x2="157.22" y2="285.75" stroke="#000" stroke-width="0.8" />
<line x1="148.09" y1="288.25" x2="148.09" y2="286.75" stroke="#000" stroke-width="0.8" />
<line x1="138.95" y1="288.25" x2="138.95" y2="285.75" stroke="#000" stroke-width="0.8" />
<line x1="129.81" y1="288.25" x2="129.81" y2="286.75" stroke="#000" stroke-width="0.8" />
<line x1="120.67" y1="288.25" x2="120.67" y2="285.75" stroke="#000" stroke-width="0.8" />
<line x1="111.54" y1="288.25" x2="111.54" y2="286.75" stroke="#000" stroke-width="0.8" />
<line x1="102.4" y1="288.25" x2="102.4" y2="285.75" stroke="#000" stroke-width="0.8" />
<line x1="93.26" y1="288.25" x2="93.26" y2="286.75" stroke="#000" stroke-width="0.8" />
<line x1="84.12" y1="288.25" x2="84.12" y2="285.75" stroke="#000" stroke-width="0.8" />
<line x1="74.99" y1="288.25" x2="74.99" y2="286.75" stroke="#000" stroke-width="0.8" />
<line x1="65.85" y1="288.25" x2="65.85" y2="285.75" stroke="#000" stroke-width="0.8" />
<line x1="56.71" y1="288.25" x2="56.71" y2="286.75" stroke="#000" stroke-width="0.8" />
<line x1="47.58" y1="288.25" x2="47.58" y2="285.75" stroke="#000" stroke-width="0.8" />
<line x1="38.44" y1="288.25" x2="38.44" y2="286.75" stroke="#000" stroke-width="0.8" />
<line x1="29.3" y1="288.25" x2="29.3" y2="285.75" stroke="#000" stroke-width="0.8" />
<text x="29.3" y="296.5" font-size="7" text-anchor="middle" font-weight="normal" fill="#000"  stroke="#000" stroke-width="0.1">542</text>
<text x="47.58" y="296.5" font-size="7" text-anchor="middle" font-weight="normal" fill="#000"  stroke="#000" stroke-width="0.1">540</text>
<text x="65.85" y="296.5" font-size="7" text-anchor="middle" font-weight="normal" fill="#000"  stroke="#000" stroke-width="0.1">538</text>
<text x="84.12" y="296.5" font-size="7" text-anchor="middle" font-weight="normal" fill="#000"  stroke="#000" stroke-width="0.1">536</text>
<text x="102.4" y="296.5" font-size="7" text-anchor="middle" font-weight="normal" fill="#000"  stroke="#000" stroke-width="0.1">534</text>
<text x="120.67" y="296.5" font-size="7" text-anchor="middle" font-weight="normal" fill="#000"  stroke="#000" stroke-width="0.1">532</text>
<text x="138.95" y="296.5" font-size="7" text-anchor="middle" font-weight="normal" fill="#000"  stroke="#000" stroke-width="0.1">530</text>
<text x="157.22" y="296.5" font-size="7" text-anchor="middle" font-weight="normal" fill="#000"  stroke="#000" stroke-width="0.1">528</text>
<text x="175.5" y="296.5" font-size="7" text-anchor="middle" font-weight="normal" fill="#000"  stroke="#000" stroke-width="0.1">526</text>
<line x1="29.3" y1="276.9" x2="31.5" y2="276.9" stroke="#000" stroke-width="0.9" />
<line x1="29.3" y1="267.3" x2="31.5" y2="267.3" stroke="#000" stroke-width="0.9" />
<line x1="29.3" y1="257.7" x2="31.5" y2="257.7" stroke="#000" stroke-width="0.9" />
<line x1="29.3" y1="248.1" x2="31.5" y2="248.1" stroke="#000" stroke-width="0.9" />
<line x1="29.3" y1="238.5" x2="31.5" y2="238.5" stroke="#000" stroke-width="0.9" />
<line x1="29.3" y1="228.9" x2="31.5" y2="228.9" stroke="#000" stroke-width="0.9" />
<line x1="29.3" y1="219.3" x2="31.5" y2="219.3" stroke="#000" stroke-width="0.9" />
<line x1="29.3" y1="209.7" x2="31.5" y2="209.7" stroke="#000" stroke-width="0.9" />
<line x1="29.3" y1="200.1" x2="31.5" y2="200.1" stroke="#000" stroke-width="0.9" />
<line x1="29.3" y1="190.5" x2="31.5" y2="190.5" stroke="#000" stroke-width="0.9" />
<line x1="29.3" y1="180.9" x2="31.5" y2="180.9" stroke="#000" stroke-width="0.9" />
<rect x="33.3" y="195.2" width="53" height="68.5" fill="#000"/>
<rect x="34.3" y="206.3" width="51" height="45.9" fill="#4cc3ef"/>
<text x="59.2" y="203.3" font-size="7.3" text-anchor="middle" font-weight="normal" fill="#fff"  stroke="#fff" stroke-width="0.1">ITO</text>
<text x="59.6" y="260.6" font-size="7.3" text-anchor="middle" font-weight="normal" fill="#fff"  stroke="#fff" stroke-width="0.1">TaN</text>
<text x="35.7" y="232.6" font-size="8" fill="#fff" stroke="#fff" stroke-width="0.1">ZrO<tspan font-size="5.8" dy="1.8">x</tspan></text>
<line x1="54.4" y1="209.5" x2="54.4" y2="247" stroke="#0000ff" stroke-width="1.25" stroke-dasharray="1,1.1"/>
<line x1="65.3" y1="211.6" x2="101.8" y2="194.4" stroke="#0000ff" stroke-width="1" />
<line x1="65" y1="247" x2="101" y2="272" stroke="#0000ff" stroke-width="1" />
<polyline points="102.4,202.62 102.77,202.59 103.13,202.56 103.5,202.52 103.86,202.48 104.23,202.45 104.59,202.41 104.96,202.36 105.32,202.32 105.69,202.27 106.05,202.22 106.42,202.17 106.79,202.11 107.15,202.06 107.52,201.99 107.88,201.93 108.25,201.86 108.61,201.79 108.98,201.71 109.34,201.63 109.71,201.54 110.08,201.45 110.44,201.35 110.81,201.24 111.17,201.13 111.54,201.01 111.9,200.88 112.27,200.74 112.63,200.6 113,200.44 113.36,200.27 113.73,200.09 114.1,199.89 114.46,199.68 114.83,199.46 115.19,199.21 115.56,198.95 115.92,198.66 116.29,198.36 116.65,198.03 117.02,197.67 117.39,197.3 117.75,196.89 118.12,196.46 118.48,196 118.85,195.52 119.21,195.01 119.58,194.49 119.94,193.94 120.31,193.38 120.67,192.81 121.04,192.23 121.41,191.65 121.77,191.09 122.14,190.53 122.5,189.98 122.87,189.46 123.23,188.95 123.6,188.47 123.96,188.01 124.33,187.57 124.7,187.15 125.06,186.75 125.43,186.38 125.79,186.02 126.16,185.68 126.52,185.37 126.89,185.08 127.25,184.82 127.62,184.6 127.98,184.42 128.35,184.29 128.72,184.22 129.08,184.2 129.45,184.25 129.81,184.37 130.18,184.55 130.54,184.81 130.91,185.15 131.27,185.55 131.64,186.02 132.01,186.55 132.37,187.13 132.74,187.77 133.1,188.44 133.47,189.15 133.83,189.89 134.2,190.64 134.56,191.4 134.93,192.16 135.29,192.92 135.66,193.67 136.03,194.39 136.39,195.1 136.76,195.78 137.12,196.42 137.49,197.03 137.85,197.61 138.22,198.14 138.58,198.64 138.95,199.1 139.32,199.52 139.68,199.91 140.05,200.25 140.41,200.57 140.78,200.85 141.14,201.1 141.51,201.33 141.87,201.53 142.24,201.7 142.6,201.86 142.97,201.99 143.34,202.11 143.7,202.22 144.07,202.31 144.43,202.39 144.8,202.46 145.16,202.53 145.53,202.58 145.89,202.63 146.26,202.67 146.63,202.71 146.99,202.75 147.36,202.78 147.72,202.81 148.09,202.84 148.45,202.86 148.82,202.89 149.18,202.91 149.55,202.93 149.91,202.95 150.28,202.96 150.65,202.98 151.01,203 151.38,203.01 151.74,203.03 152.11,203.04 152.47,203.06 152.84,203.07 153.2,203.08 153.57,203.09 153.94,203.11 154.3,203.12 154.67,203.13 155.03,203.14 155.4,203.15 155.76,203.16 156.13,203.17 156.49,203.18 156.86,203.19 157.22,203.2" fill="none" stroke="#000000" stroke-width="2.7" stroke-linejoin="round" stroke-linecap="round" />
<polyline points="102.4,202.62 102.77,202.59 103.13,202.56 103.5,202.52 103.86,202.48 104.23,202.45 104.59,202.41 104.96,202.36 105.32,202.32 105.69,202.27 106.05,202.22 106.42,202.17 106.79,202.11 107.15,202.06 107.52,201.99 107.88,201.93 108.25,201.86 108.61,201.79 108.98,201.71 109.34,201.63 109.71,201.54 110.08,201.45 110.44,201.35 110.81,201.24 111.17,201.13 111.54,201.01 111.9,200.88 112.27,200.74 112.63,200.6 113,200.44 113.36,200.27 113.73,200.09 114.1,199.89 114.46,199.68 114.83,199.46 115.19,199.21 115.56,198.95 115.92,198.66 116.29,198.36 116.65,198.03 117.02,197.67 117.39,197.3 117.75,196.89 118.12,196.46 118.48,196 118.85,195.52 119.21,195.01 119.58,194.49 119.94,193.94 120.31,193.38 120.67,192.81 121.04,192.23 121.41,191.65 121.77,191.09 122.14,190.53 122.5,189.98 122.87,189.46 123.23,188.95 123.6,188.47 123.96,188.01 124.33,187.57 124.7,187.15 125.06,186.75 125.43,186.38 125.79,186.02 126.16,185.68 126.52,185.37 126.89,185.08 127.25,184.82 127.62,184.6 127.98,184.42 128.35,184.29 128.72,184.22 129.08,184.2 129.45,184.25 129.81,184.37 130.18,184.55 130.54,184.81 130.91,185.15 131.27,185.55 131.64,186.02 132.01,186.55 132.37,187.13 132.74,187.77 133.1,188.44 133.47,189.15 133.83,189.89 134.2,190.64 134.56,191.4 134.93,192.16 135.29,192.92 135.66,193.67 136.03,194.39 136.39,195.1 136.76,195.78 137.12,196.42 137.49,197.03 137.85,197.61 138.22,198.14 138.58,198.64 138.95,199.1 139.32,199.52 139.68,199.91 140.05,200.25 140.41,200.57 140.78,200.85 141.14,201.1 141.51,201.33 141.87,201.53 142.24,201.7 142.6,201.86 142.97,201.99 143.34,202.11 143.7,202.22 144.07,202.31 144.43,202.39 144.8,202.46 145.16,202.53 145.53,202.58 145.89,202.63 146.26,202.67 146.63,202.71 146.99,202.75 147.36,202.78 147.72,202.81 148.09,202.84 148.45,202.86 148.82,202.89 149.18,202.91 149.55,202.93 149.91,202.95 150.28,202.96 150.65,202.98 151.01,203 151.38,203.01 151.74,203.03 152.11,203.04 152.47,203.06 152.84,203.07 153.2,203.08 153.57,203.09 153.94,203.11 154.3,203.12 154.67,203.13 155.03,203.14 155.4,203.15 155.76,203.16 156.13,203.17 156.49,203.18 156.86,203.19 157.22,203.2" fill="none" stroke="#fff" stroke-width="0.55" stroke-linejoin="round" stroke-linecap="round" stroke-opacity="0.75"/>
<polyline points="102.4,212.46 102.77,212.43 103.13,212.4 103.5,212.37 103.86,212.34 104.23,212.31 104.59,212.28 104.96,212.24 105.32,212.2 105.69,212.16 106.05,212.12 106.42,212.08 106.79,212.03 107.15,211.98 107.52,211.93 107.88,211.87 108.25,211.82 108.61,211.75 108.98,211.69 109.34,211.62 109.71,211.55 110.08,211.47 110.44,211.39 110.81,211.3 111.17,211.2 111.54,211.1 111.9,211 112.27,210.88 112.63,210.76 113,210.63 113.36,210.49 113.73,210.34 114.1,210.17 114.46,210 114.83,209.81 115.19,209.61 115.56,209.39 115.92,209.16 116.29,208.9 116.65,208.63 117.02,208.33 117.39,208.02 117.75,207.68 118.12,207.32 118.48,206.94 118.85,206.53 119.21,206.1 119.58,205.65 119.94,205.18 120.31,204.7 120.67,204.2 121.04,203.7 121.41,203.19 121.77,202.68 122.14,202.18 122.5,201.69 122.87,201.21 123.23,200.75 123.6,200.31 123.96,199.89 124.33,199.49 124.7,199.1 125.06,198.74 125.43,198.39 125.79,198.06 126.16,197.75 126.52,197.45 126.89,197.18 127.25,196.93 127.62,196.71 127.98,196.52 128.35,196.37 128.72,196.27 129.08,196.21 129.45,196.2 129.81,196.26 130.18,196.37 130.54,196.55 130.91,196.79 131.27,197.09 131.64,197.46 132.01,197.88 132.37,198.36 132.74,198.88 133.1,199.45 133.47,200.05 133.83,200.68 134.2,201.33 134.56,202 134.93,202.67 135.29,203.34 135.66,204.01 136.03,204.66 136.39,205.3 136.76,205.92 137.12,206.51 137.49,207.07 137.85,207.6 138.22,208.1 138.58,208.57 138.95,209 139.32,209.4 139.68,209.77 140.05,210.1 140.41,210.4 140.78,210.67 141.14,210.92 141.51,211.14 141.87,211.33 142.24,211.5 142.6,211.65 142.97,211.79 143.34,211.9 143.7,212.01 144.07,212.1 144.43,212.18 144.8,212.25 145.16,212.31 145.53,212.36 145.89,212.41 146.26,212.45 146.63,212.49 146.99,212.52 147.36,212.56 147.72,212.58 148.09,212.61 148.45,212.63 148.82,212.65 149.18,212.67 149.55,212.69 149.91,212.71 150.28,212.73 150.65,212.74 151.01,212.76 151.38,212.77 151.74,212.79 152.11,212.8 152.47,212.81 152.84,212.82 153.2,212.83 153.57,212.85 153.94,212.86 154.3,212.87 154.67,212.88 155.03,212.89 155.4,212.9 155.76,212.9 156.13,212.91 156.49,212.92 156.86,212.93 157.22,212.94" fill="none" stroke="#1c1c8a" stroke-width="2.7" stroke-linejoin="round" stroke-linecap="round" />
<polyline points="102.4,212.46 102.77,212.43 103.13,212.4 103.5,212.37 103.86,212.34 104.23,212.31 104.59,212.28 104.96,212.24 105.32,212.2 105.69,212.16 106.05,212.12 106.42,212.08 106.79,212.03 107.15,211.98 107.52,211.93 107.88,211.87 108.25,211.82 108.61,211.75 108.98,211.69 109.34,211.62 109.71,211.55 110.08,211.47 110.44,211.39 110.81,211.3 111.17,211.2 111.54,211.1 111.9,211 112.27,210.88 112.63,210.76 113,210.63 113.36,210.49 113.73,210.34 114.1,210.17 114.46,210 114.83,209.81 115.19,209.61 115.56,209.39 115.92,209.16 116.29,208.9 116.65,208.63 117.02,208.33 117.39,208.02 117.75,207.68 118.12,207.32 118.48,206.94 118.85,206.53 119.21,206.1 119.58,205.65 119.94,205.18 120.31,204.7 120.67,204.2 121.04,203.7 121.41,203.19 121.77,202.68 122.14,202.18 122.5,201.69 122.87,201.21 123.23,200.75 123.6,200.31 123.96,199.89 124.33,199.49 124.7,199.1 125.06,198.74 125.43,198.39 125.79,198.06 126.16,197.75 126.52,197.45 126.89,197.18 127.25,196.93 127.62,196.71 127.98,196.52 128.35,196.37 128.72,196.27 129.08,196.21 129.45,196.2 129.81,196.26 130.18,196.37 130.54,196.55 130.91,196.79 131.27,197.09 131.64,197.46 132.01,197.88 132.37,198.36 132.74,198.88 133.1,199.45 133.47,200.05 133.83,200.68 134.2,201.33 134.56,202 134.93,202.67 135.29,203.34 135.66,204.01 136.03,204.66 136.39,205.3 136.76,205.92 137.12,206.51 137.49,207.07 137.85,207.6 138.22,208.1 138.58,208.57 138.95,209 139.32,209.4 139.68,209.77 140.05,210.1 140.41,210.4 140.78,210.67 141.14,210.92 141.51,211.14 141.87,211.33 142.24,211.5 142.6,211.65 142.97,211.79 143.34,211.9 143.7,212.01 144.07,212.1 144.43,212.18 144.8,212.25 145.16,212.31 145.53,212.36 145.89,212.41 146.26,212.45 146.63,212.49 146.99,212.52 147.36,212.56 147.72,212.58 148.09,212.61 148.45,212.63 148.82,212.65 149.18,212.67 149.55,212.69 149.91,212.71 150.28,212.73 150.65,212.74 151.01,212.76 151.38,212.77 151.74,212.79 152.11,212.8 152.47,212.81 152.84,212.82 153.2,212.83 153.57,212.85 153.94,212.86 154.3,212.87 154.67,212.88 155.03,212.89 155.4,212.9 155.76,212.9 156.13,212.91 156.49,212.92 156.86,212.93 157.22,212.94" fill="none" stroke="#fff" stroke-width="0.55" stroke-linejoin="round" stroke-linecap="round" stroke-opacity="0.75"/>
<polyline points="102.4,222.04 102.77,222.02 103.13,222 103.5,221.97 103.86,221.95 104.23,221.92 104.59,221.9 104.96,221.87 105.32,221.84 105.69,221.81 106.05,221.78 106.42,221.74 106.79,221.71 107.15,221.67 107.52,221.63 107.88,221.59 108.25,221.54 108.61,221.49 108.98,221.44 109.34,221.39 109.71,221.33 110.08,221.27 110.44,221.21 110.81,221.14 111.17,221.07 111.54,220.99 111.9,220.91 112.27,220.83 112.63,220.73 113,220.63 113.36,220.52 113.73,220.41 114.1,220.29 114.46,220.15 114.83,220.01 115.19,219.86 115.56,219.69 115.92,219.51 116.29,219.32 116.65,219.11 117.02,218.89 117.39,218.65 117.75,218.39 118.12,218.11 118.48,217.82 118.85,217.51 119.21,217.17 119.58,216.83 119.94,216.46 120.31,216.08 120.67,215.69 121.04,215.28 121.41,214.88 121.77,214.47 122.14,214.06 122.5,213.65 122.87,213.26 123.23,212.88 123.6,212.51 123.96,212.16 124.33,211.82 124.7,211.5 125.06,211.19 125.43,210.9 125.79,210.62 126.16,210.35 126.52,210.1 126.89,209.87 127.25,209.65 127.62,209.46 127.98,209.28 128.35,209.14 128.72,209.02 129.08,208.94 129.45,208.9 129.81,208.91 130.18,208.96 130.54,209.06 130.91,209.21 131.27,209.42 131.64,209.67 132.01,209.97 132.37,210.32 132.74,210.71 133.1,211.14 133.47,211.61 133.83,212.1 134.2,212.61 134.56,213.14 134.93,213.67 135.29,214.22 135.66,214.76 136.03,215.3 136.39,215.82 136.76,216.33 137.12,216.83 137.49,217.3 137.85,217.75 138.22,218.18 138.58,218.58 138.95,218.95 139.32,219.29 139.68,219.61 140.05,219.9 140.41,220.16 140.78,220.4 141.14,220.62 141.51,220.81 141.87,220.98 142.24,221.14 142.6,221.27 142.97,221.39 143.34,221.5 143.7,221.59 144.07,221.67 144.43,221.74 144.8,221.8 145.16,221.86 145.53,221.91 145.89,221.95 146.26,221.99 146.63,222.02 146.99,222.05 147.36,222.08 147.72,222.1 148.09,222.13 148.45,222.15 148.82,222.16 149.18,222.18 149.55,222.2 149.91,222.21 150.28,222.23 150.65,222.24 151.01,222.25 151.38,222.26 151.74,222.28 152.11,222.29 152.47,222.3 152.84,222.31 153.2,222.32 153.57,222.33 153.94,222.33 154.3,222.34 154.67,222.35 155.03,222.36 155.4,222.37 155.76,222.37 156.13,222.38 156.49,222.39 156.86,222.4 157.22,222.4" fill="none" stroke="#1414d0" stroke-width="2.7" stroke-linejoin="round" stroke-linecap="round" />
<polyline points="102.4,222.04 102.77,222.02 103.13,222 103.5,221.97 103.86,221.95 104.23,221.92 104.59,221.9 104.96,221.87 105.32,221.84 105.69,221.81 106.05,221.78 106.42,221.74 106.79,221.71 107.15,221.67 107.52,221.63 107.88,221.59 108.25,221.54 108.61,221.49 108.98,221.44 109.34,221.39 109.71,221.33 110.08,221.27 110.44,221.21 110.81,221.14 111.17,221.07 111.54,220.99 111.9,220.91 112.27,220.83 112.63,220.73 113,220.63 113.36,220.52 113.73,220.41 114.1,220.29 114.46,220.15 114.83,220.01 115.19,219.86 115.56,219.69 115.92,219.51 116.29,219.32 116.65,219.11 117.02,218.89 117.39,218.65 117.75,218.39 118.12,218.11 118.48,217.82 118.85,217.51 119.21,217.17 119.58,216.83 119.94,216.46 120.31,216.08 120.67,215.69 121.04,215.28 121.41,214.88 121.77,214.47 122.14,214.06 122.5,213.65 122.87,213.26 123.23,212.88 123.6,212.51 123.96,212.16 124.33,211.82 124.7,211.5 125.06,211.19 125.43,210.9 125.79,210.62 126.16,210.35 126.52,210.1 126.89,209.87 127.25,209.65 127.62,209.46 127.98,209.28 128.35,209.14 128.72,209.02 129.08,208.94 129.45,208.9 129.81,208.91 130.18,208.96 130.54,209.06 130.91,209.21 131.27,209.42 131.64,209.67 132.01,209.97 132.37,210.32 132.74,210.71 133.1,211.14 133.47,211.61 133.83,212.1 134.2,212.61 134.56,213.14 134.93,213.67 135.29,214.22 135.66,214.76 136.03,215.3 136.39,215.82 136.76,216.33 137.12,216.83 137.49,217.3 137.85,217.75 138.22,218.18 138.58,218.58 138.95,218.95 139.32,219.29 139.68,219.61 140.05,219.9 140.41,220.16 140.78,220.4 141.14,220.62 141.51,220.81 141.87,220.98 142.24,221.14 142.6,221.27 142.97,221.39 143.34,221.5 143.7,221.59 144.07,221.67 144.43,221.74 144.8,221.8 145.16,221.86 145.53,221.91 145.89,221.95 146.26,221.99 146.63,222.02 146.99,222.05 147.36,222.08 147.72,222.1 148.09,222.13 148.45,222.15 148.82,222.16 149.18,222.18 149.55,222.2 149.91,222.21 150.28,222.23 150.65,222.24 151.01,222.25 151.38,222.26 151.74,222.28 152.11,222.29 152.47,222.3 152.84,222.31 153.2,222.32 153.57,222.33 153.94,222.33 154.3,222.34 154.67,222.35 155.03,222.36 155.4,222.37 155.76,222.37 156.13,222.38 156.49,222.39 156.86,222.4 157.22,222.4" fill="none" stroke="#fff" stroke-width="0.55" stroke-linejoin="round" stroke-linecap="round" stroke-opacity="0.75"/>
<polyline points="102.4,231.59 102.77,231.58 103.13,231.57 103.5,231.55 103.86,231.54 104.23,231.52 104.59,231.51 104.96,231.49 105.32,231.47 105.69,231.45 106.05,231.43 106.42,231.41 106.79,231.39 107.15,231.37 107.52,231.34 107.88,231.32 108.25,231.29 108.61,231.26 108.98,231.23 109.34,231.2 109.71,231.17 110.08,231.13 110.44,231.09 110.81,231.05 111.17,231.01 111.54,230.97 111.9,230.92 112.27,230.87 112.63,230.81 113,230.75 113.36,230.69 113.73,230.62 114.1,230.55 114.46,230.47 114.83,230.38 115.19,230.29 115.56,230.2 115.92,230.09 116.29,229.98 116.65,229.86 117.02,229.72 117.39,229.58 117.75,229.43 118.12,229.27 118.48,229.09 118.85,228.91 119.21,228.71 119.58,228.5 119.94,228.28 120.31,228.04 120.67,227.8 121.04,227.55 121.41,227.29 121.77,227.04 122.14,226.77 122.5,226.51 122.87,226.26 123.23,226 123.6,225.76 123.96,225.52 124.33,225.3 124.7,225.08 125.06,224.87 125.43,224.68 125.79,224.49 126.16,224.31 126.52,224.14 126.89,223.98 127.25,223.83 127.62,223.69 127.98,223.57 128.35,223.45 128.72,223.36 129.08,223.28 129.45,223.23 129.81,223.2 130.18,223.2 130.54,223.23 130.91,223.29 131.27,223.39 131.64,223.51 132.01,223.67 132.37,223.86 132.74,224.08 133.1,224.33 133.47,224.6 133.83,224.9 134.2,225.21 134.56,225.53 134.93,225.87 135.29,226.21 135.66,226.56 136.03,226.9 136.39,227.25 136.76,227.58 137.12,227.91 137.49,228.23 137.85,228.53 138.22,228.82 138.58,229.09 138.95,229.35 139.32,229.59 139.68,229.81 140.05,230.01 140.41,230.2 140.78,230.37 141.14,230.52 141.51,230.66 141.87,230.78 142.24,230.9 142.6,230.99 142.97,231.08 143.34,231.16 143.7,231.23 144.07,231.29 144.43,231.34 144.8,231.39 145.16,231.43 145.53,231.46 145.89,231.49 146.26,231.52 146.63,231.54 146.99,231.57 147.36,231.59 147.72,231.6 148.09,231.62 148.45,231.63 148.82,231.65 149.18,231.66 149.55,231.67 149.91,231.68 150.28,231.69 150.65,231.7 151.01,231.71 151.38,231.71 151.74,231.72 152.11,231.73 152.47,231.74 152.84,231.74 153.2,231.75 153.57,231.76 153.94,231.76 154.3,231.77 154.67,231.77 155.03,231.78 155.4,231.78 155.76,231.79 156.13,231.79 156.49,231.8 156.86,231.8 157.22,231.81" fill="none" stroke="#0000f0" stroke-width="2.7" stroke-linejoin="round" stroke-linecap="round" />
<polyline points="102.4,231.59 102.77,231.58 103.13,231.57 103.5,231.55 103.86,231.54 104.23,231.52 104.59,231.51 104.96,231.49 105.32,231.47 105.69,231.45 106.05,231.43 106.42,231.41 106.79,231.39 107.15,231.37 107.52,231.34 107.88,231.32 108.25,231.29 108.61,231.26 108.98,231.23 109.34,231.2 109.71,231.17 110.08,231.13 110.44,231.09 110.81,231.05 111.17,231.01 111.54,230.97 111.9,230.92 112.27,230.87 112.63,230.81 113,230.75 113.36,230.69 113.73,230.62 114.1,230.55 114.46,230.47 114.83,230.38 115.19,230.29 115.56,230.2 115.92,230.09 116.29,229.98 116.65,229.86 117.02,229.72 117.39,229.58 117.75,229.43 118.12,229.27 118.48,229.09 118.85,228.91 119.21,228.71 119.58,228.5 119.94,228.28 120.31,228.04 120.67,227.8 121.04,227.55 121.41,227.29 121.77,227.04 122.14,226.77 122.5,226.51 122.87,226.26 123.23,226 123.6,225.76 123.96,225.52 124.33,225.3 124.7,225.08 125.06,224.87 125.43,224.68 125.79,224.49 126.16,224.31 126.52,224.14 126.89,223.98 127.25,223.83 127.62,223.69 127.98,223.57 128.35,223.45 128.72,223.36 129.08,223.28 129.45,223.23 129.81,223.2 130.18,223.2 130.54,223.23 130.91,223.29 131.27,223.39 131.64,223.51 132.01,223.67 132.37,223.86 132.74,224.08 133.1,224.33 133.47,224.6 133.83,224.9 134.2,225.21 134.56,225.53 134.93,225.87 135.29,226.21 135.66,226.56 136.03,226.9 136.39,227.25 136.76,227.58 137.12,227.91 137.49,228.23 137.85,228.53 138.22,228.82 138.58,229.09 138.95,229.35 139.32,229.59 139.68,229.81 140.05,230.01 140.41,230.2 140.78,230.37 141.14,230.52 141.51,230.66 141.87,230.78 142.24,230.9 142.6,230.99 142.97,231.08 143.34,231.16 143.7,231.23 144.07,231.29 144.43,231.34 144.8,231.39 145.16,231.43 145.53,231.46 145.89,231.49 146.26,231.52 146.63,231.54 146.99,231.57 147.36,231.59 147.72,231.6 148.09,231.62 148.45,231.63 148.82,231.65 149.18,231.66 149.55,231.67 149.91,231.68 150.28,231.69 150.65,231.7 151.01,231.71 151.38,231.71 151.74,231.72 152.11,231.73 152.47,231.74 152.84,231.74 153.2,231.75 153.57,231.76 153.94,231.76 154.3,231.77 154.67,231.77 155.03,231.78 155.4,231.78 155.76,231.79 156.13,231.79 156.49,231.8 156.86,231.8 157.22,231.81" fill="none" stroke="#fff" stroke-width="0.55" stroke-linejoin="round" stroke-linecap="round" stroke-opacity="0.75"/>
<polyline points="102.4,241.53 102.77,241.52 103.13,241.51 103.5,241.51 103.86,241.5 104.23,241.49 104.59,241.48 104.96,241.46 105.32,241.45 105.69,241.44 106.05,241.43 106.42,241.42 106.79,241.4 107.15,241.39 107.52,241.37 107.88,241.35 108.25,241.34 108.61,241.32 108.98,241.3 109.34,241.28 109.71,241.26 110.08,241.23 110.44,241.21 110.81,241.19 111.17,241.16 111.54,241.13 111.9,241.1 112.27,241.06 112.63,241.03 113,240.99 113.36,240.95 113.73,240.91 114.1,240.86 114.46,240.81 114.83,240.76 115.19,240.7 115.56,240.64 115.92,240.58 116.29,240.51 116.65,240.43 117.02,240.35 117.39,240.26 117.75,240.16 118.12,240.06 118.48,239.95 118.85,239.83 119.21,239.7 119.58,239.57 119.94,239.43 120.31,239.27 120.67,239.12 121.04,238.95 121.41,238.78 121.77,238.61 122.14,238.43 122.5,238.25 122.87,238.08 123.23,237.9 123.6,237.73 123.96,237.56 124.33,237.4 124.7,237.24 125.06,237.1 125.43,236.95 125.79,236.82 126.16,236.69 126.52,236.57 126.89,236.45 127.25,236.34 127.62,236.24 127.98,236.14 128.35,236.06 128.72,235.98 129.08,235.91 129.45,235.86 129.81,235.82 130.18,235.8 130.54,235.8 130.91,235.82 131.27,235.86 131.64,235.92 132.01,236.01 132.37,236.11 132.74,236.24 133.1,236.39 133.47,236.56 133.83,236.74 134.2,236.94 134.56,237.15 134.93,237.37 135.29,237.6 135.66,237.83 136.03,238.07 136.39,238.3 136.76,238.54 137.12,238.77 137.49,238.99 137.85,239.21 138.22,239.41 138.58,239.61 138.95,239.8 139.32,239.98 139.68,240.14 140.05,240.29 140.41,240.43 140.78,240.56 141.14,240.68 141.51,240.78 141.87,240.88 142.24,240.96 142.6,241.04 142.97,241.11 143.34,241.17 143.7,241.22 144.07,241.27 144.43,241.31 144.8,241.35 145.16,241.38 145.53,241.41 145.89,241.43 146.26,241.45 146.63,241.47 146.99,241.49 147.36,241.5 147.72,241.52 148.09,241.53 148.45,241.54 148.82,241.55 149.18,241.56 149.55,241.57 149.91,241.57 150.28,241.58 150.65,241.59 151.01,241.59 151.38,241.6 151.74,241.6 152.11,241.61 152.47,241.61 152.84,241.62 153.2,241.62 153.57,241.63 153.94,241.63 154.3,241.64 154.67,241.64 155.03,241.64 155.4,241.65 155.76,241.65 156.13,241.65 156.49,241.66 156.86,241.66 157.22,241.66" fill="none" stroke="#5a68f0" stroke-width="2.7" stroke-linejoin="round" stroke-linecap="round" />
<polyline points="102.4,241.53 102.77,241.52 103.13,241.51 103.5,241.51 103.86,241.5 104.23,241.49 104.59,241.48 104.96,241.46 105.32,241.45 105.69,241.44 106.05,241.43 106.42,241.42 106.79,241.4 107.15,241.39 107.52,241.37 107.88,241.35 108.25,241.34 108.61,241.32 108.98,241.3 109.34,241.28 109.71,241.26 110.08,241.23 110.44,241.21 110.81,241.19 111.17,241.16 111.54,241.13 111.9,241.1 112.27,241.06 112.63,241.03 113,240.99 113.36,240.95 113.73,240.91 114.1,240.86 114.46,240.81 114.83,240.76 115.19,240.7 115.56,240.64 115.92,240.58 116.29,240.51 116.65,240.43 117.02,240.35 117.39,240.26 117.75,240.16 118.12,240.06 118.48,239.95 118.85,239.83 119.21,239.7 119.58,239.57 119.94,239.43 120.31,239.27 120.67,239.12 121.04,238.95 121.41,238.78 121.77,238.61 122.14,238.43 122.5,238.25 122.87,238.08 123.23,237.9 123.6,237.73 123.96,237.56 124.33,237.4 124.7,237.24 125.06,237.1 125.43,236.95 125.79,236.82 126.16,236.69 126.52,236.57 126.89,236.45 127.25,236.34 127.62,236.24 127.98,236.14 128.35,236.06 128.72,235.98 129.08,235.91 129.45,235.86 129.81,235.82 130.18,235.8 130.54,235.8 130.91,235.82 131.27,235.86 131.64,235.92 132.01,236.01 132.37,236.11 132.74,236.24 133.1,236.39 133.47,236.56 133.83,236.74 134.2,236.94 134.56,237.15 134.93,237.37 135.29,237.6 135.66,237.83 136.03,238.07 136.39,238.3 136.76,238.54 137.12,238.77 137.49,238.99 137.85,239.21 138.22,239.41 138.58,239.61 138.95,239.8 139.32,239.98 139.68,240.14 140.05,240.29 140.41,240.43 140.78,240.56 141.14,240.68 141.51,240.78 141.87,240.88 142.24,240.96 142.6,241.04 142.97,241.11 143.34,241.17 143.7,241.22 144.07,241.27 144.43,241.31 144.8,241.35 145.16,241.38 145.53,241.41 145.89,241.43 146.26,241.45 146.63,241.47 146.99,241.49 147.36,241.5 147.72,241.52 148.09,241.53 148.45,241.54 148.82,241.55 149.18,241.56 149.55,241.57 149.91,241.57 150.28,241.58 150.65,241.59 151.01,241.59 151.38,241.6 151.74,241.6 152.11,241.61 152.47,241.61 152.84,241.62 153.2,241.62 153.57,241.63 153.94,241.63 154.3,241.64 154.67,241.64 155.03,241.64 155.4,241.65 155.76,241.65 156.13,241.65 156.49,241.66 156.86,241.66 157.22,241.66" fill="none" stroke="#fff" stroke-width="0.55" stroke-linejoin="round" stroke-linecap="round" stroke-opacity="0.75"/>
<polyline points="102.4,251.51 102.77,251.5 103.13,251.5 103.5,251.49 103.86,251.49 104.23,251.48 104.59,251.47 104.96,251.46 105.32,251.46 105.69,251.45 106.05,251.44 106.42,251.43 106.79,251.42 107.15,251.41 107.52,251.4 107.88,251.39 108.25,251.38 108.61,251.36 108.98,251.35 109.34,251.33 109.71,251.32 110.08,251.3 110.44,251.29 110.81,251.27 111.17,251.25 111.54,251.23 111.9,251.21 112.27,251.19 112.63,251.16 113,251.14 113.36,251.11 113.73,251.08 114.1,251.05 114.46,251.01 114.83,250.98 115.19,250.94 115.56,250.9 115.92,250.85 116.29,250.8 116.65,250.75 117.02,250.69 117.39,250.63 117.75,250.56 118.12,250.49 118.48,250.42 118.85,250.34 119.21,250.25 119.58,250.15 119.94,250.06 120.31,249.95 120.67,249.84 121.04,249.72 121.41,249.6 121.77,249.48 122.14,249.36 122.5,249.23 122.87,249.1 123.23,248.97 123.6,248.85 123.96,248.73 124.33,248.61 124.7,248.49 125.06,248.39 125.43,248.28 125.79,248.18 126.16,248.09 126.52,248 126.89,247.91 127.25,247.83 127.62,247.76 127.98,247.68 128.35,247.62 128.72,247.56 129.08,247.51 129.45,247.46 129.81,247.43 130.18,247.41 130.54,247.4 130.91,247.41 131.27,247.43 131.64,247.46 132.01,247.51 132.37,247.58 132.74,247.66 133.1,247.76 133.47,247.87 133.83,248 134.2,248.14 134.56,248.28 134.93,248.44 135.29,248.6 135.66,248.76 136.03,248.93 136.39,249.1 136.76,249.27 137.12,249.44 137.49,249.6 137.85,249.76 138.22,249.91 138.58,250.06 138.95,250.19 139.32,250.32 139.68,250.45 140.05,250.56 140.41,250.67 140.78,250.76 141.14,250.85 141.51,250.93 141.87,251 142.24,251.07 142.6,251.13 142.97,251.18 143.34,251.22 143.7,251.27 144.07,251.3 144.43,251.33 144.8,251.36 145.16,251.39 145.53,251.41 145.89,251.43 146.26,251.44 146.63,251.46 146.99,251.47 147.36,251.48 147.72,251.49 148.09,251.5 148.45,251.51 148.82,251.52 149.18,251.52 149.55,251.53 149.91,251.53 150.28,251.54 150.65,251.54 151.01,251.55 151.38,251.55 151.74,251.56 152.11,251.56 152.47,251.57 152.84,251.57 153.2,251.57 153.57,251.58 153.94,251.58 154.3,251.58 154.67,251.58 155.03,251.59 155.4,251.59 155.76,251.59 156.13,251.59 156.49,251.6 156.86,251.6 157.22,251.6" fill="none" stroke="#9aa2f2" stroke-width="2.7" stroke-linejoin="round" stroke-linecap="round" />
<polyline points="102.4,251.51 102.77,251.5 103.13,251.5 103.5,251.49 103.86,251.49 104.23,251.48 104.59,251.47 104.96,251.46 105.32,251.46 105.69,251.45 106.05,251.44 106.42,251.43 106.79,251.42 107.15,251.41 107.52,251.4 107.88,251.39 108.25,251.38 108.61,251.36 108.98,251.35 109.34,251.33 109.71,251.32 110.08,251.3 110.44,251.29 110.81,251.27 111.17,251.25 111.54,251.23 111.9,251.21 112.27,251.19 112.63,251.16 113,251.14 113.36,251.11 113.73,251.08 114.1,251.05 114.46,251.01 114.83,250.98 115.19,250.94 115.56,250.9 115.92,250.85 116.29,250.8 116.65,250.75 117.02,250.69 117.39,250.63 117.75,250.56 118.12,250.49 118.48,250.42 118.85,250.34 119.21,250.25 119.58,250.15 119.94,250.06 120.31,249.95 120.67,249.84 121.04,249.72 121.41,249.6 121.77,249.48 122.14,249.36 122.5,249.23 122.87,249.1 123.23,248.97 123.6,248.85 123.96,248.73 124.33,248.61 124.7,248.49 125.06,248.39 125.43,248.28 125.79,248.18 126.16,248.09 126.52,248 126.89,247.91 127.25,247.83 127.62,247.76 127.98,247.68 128.35,247.62 128.72,247.56 129.08,247.51 129.45,247.46 129.81,247.43 130.18,247.41 130.54,247.4 130.91,247.41 131.27,247.43 131.64,247.46 132.01,247.51 132.37,247.58 132.74,247.66 133.1,247.76 133.47,247.87 133.83,248 134.2,248.14 134.56,248.28 134.93,248.44 135.29,248.6 135.66,248.76 136.03,248.93 136.39,249.1 136.76,249.27 137.12,249.44 137.49,249.6 137.85,249.76 138.22,249.91 138.58,250.06 138.95,250.19 139.32,250.32 139.68,250.45 140.05,250.56 140.41,250.67 140.78,250.76 141.14,250.85 141.51,250.93 141.87,251 142.24,251.07 142.6,251.13 142.97,251.18 143.34,251.22 143.7,251.27 144.07,251.3 144.43,251.33 144.8,251.36 145.16,251.39 145.53,251.41 145.89,251.43 146.26,251.44 146.63,251.46 146.99,251.47 147.36,251.48 147.72,251.49 148.09,251.5 148.45,251.51 148.82,251.52 149.18,251.52 149.55,251.53 149.91,251.53 150.28,251.54 150.65,251.54 151.01,251.55 151.38,251.55 151.74,251.56 152.11,251.56 152.47,251.57 152.84,251.57 153.2,251.57 153.57,251.58 153.94,251.58 154.3,251.58 154.67,251.58 155.03,251.59 155.4,251.59 155.76,251.59 156.13,251.59 156.49,251.6 156.86,251.6 157.22,251.6" fill="none" stroke="#fff" stroke-width="0.55" stroke-linejoin="round" stroke-linecap="round" stroke-opacity="0.75"/>
<polyline points="102.4,261.36 102.77,261.35 103.13,261.35 103.5,261.35 103.86,261.34 104.23,261.34 104.59,261.33 104.96,261.32 105.32,261.32 105.69,261.31 106.05,261.31 106.42,261.3 106.79,261.29 107.15,261.28 107.52,261.28 107.88,261.27 108.25,261.26 108.61,261.25 108.98,261.24 109.34,261.23 109.71,261.22 110.08,261.21 110.44,261.19 110.81,261.18 111.17,261.17 111.54,261.15 111.9,261.13 112.27,261.12 112.63,261.1 113,261.08 113.36,261.06 113.73,261.04 114.1,261.01 114.46,260.99 114.83,260.96 115.19,260.93 115.56,260.9 115.92,260.87 116.29,260.83 116.65,260.79 117.02,260.75 117.39,260.7 117.75,260.65 118.12,260.6 118.48,260.55 118.85,260.48 119.21,260.42 119.58,260.35 119.94,260.28 120.31,260.2 120.67,260.12 121.04,260.03 121.41,259.94 121.77,259.85 122.14,259.76 122.5,259.66 122.87,259.57 123.23,259.47 123.6,259.38 123.96,259.29 124.33,259.2 124.7,259.11 125.06,259.03 125.43,258.96 125.79,258.88 126.16,258.81 126.52,258.75 126.89,258.68 127.25,258.62 127.62,258.56 127.98,258.51 128.35,258.46 128.72,258.42 129.08,258.38 129.45,258.35 129.81,258.32 130.18,258.31 130.54,258.3 130.91,258.3 131.27,258.32 131.64,258.35 132.01,258.38 132.37,258.43 132.74,258.5 133.1,258.57 133.47,258.65 133.83,258.75 134.2,258.85 134.56,258.96 134.93,259.07 135.29,259.19 135.66,259.32 136.03,259.44 136.39,259.57 136.76,259.69 137.12,259.82 137.49,259.94 137.85,260.05 138.22,260.17 138.58,260.28 138.95,260.38 139.32,260.48 139.68,260.57 140.05,260.65 140.41,260.73 140.78,260.8 141.14,260.87 141.51,260.93 141.87,260.98 142.24,261.03 142.6,261.07 142.97,261.11 143.34,261.15 143.7,261.18 144.07,261.2 144.43,261.23 144.8,261.25 145.16,261.27 145.53,261.28 145.89,261.3 146.26,261.31 146.63,261.32 146.99,261.33 147.36,261.34 147.72,261.34 148.09,261.35 148.45,261.36 148.82,261.36 149.18,261.37 149.55,261.37 149.91,261.38 150.28,261.38 150.65,261.38 151.01,261.39 151.38,261.39 151.74,261.39 152.11,261.4 152.47,261.4 152.84,261.4 153.2,261.4 153.57,261.41 153.94,261.41 154.3,261.41 154.67,261.41 155.03,261.42 155.4,261.42 155.76,261.42 156.13,261.42 156.49,261.42 156.86,261.43 157.22,261.43" fill="none" stroke="#1ee0e8" stroke-width="2.7" stroke-linejoin="round" stroke-linecap="round" />
<polyline points="102.4,261.36 102.77,261.35 103.13,261.35 103.5,261.35 103.86,261.34 104.23,261.34 104.59,261.33 104.96,261.32 105.32,261.32 105.69,261.31 106.05,261.31 106.42,261.3 106.79,261.29 107.15,261.28 107.52,261.28 107.88,261.27 108.25,261.26 108.61,261.25 108.98,261.24 109.34,261.23 109.71,261.22 110.08,261.21 110.44,261.19 110.81,261.18 111.17,261.17 111.54,261.15 111.9,261.13 112.27,261.12 112.63,261.1 113,261.08 113.36,261.06 113.73,261.04 114.1,261.01 114.46,260.99 114.83,260.96 115.19,260.93 115.56,260.9 115.92,260.87 116.29,260.83 116.65,260.79 117.02,260.75 117.39,260.7 117.75,260.65 118.12,260.6 118.48,260.55 118.85,260.48 119.21,260.42 119.58,260.35 119.94,260.28 120.31,260.2 120.67,260.12 121.04,260.03 121.41,259.94 121.77,259.85 122.14,259.76 122.5,259.66 122.87,259.57 123.23,259.47 123.6,259.38 123.96,259.29 124.33,259.2 124.7,259.11 125.06,259.03 125.43,258.96 125.79,258.88 126.16,258.81 126.52,258.75 126.89,258.68 127.25,258.62 127.62,258.56 127.98,258.51 128.35,258.46 128.72,258.42 129.08,258.38 129.45,258.35 129.81,258.32 130.18,258.31 130.54,258.3 130.91,258.3 131.27,258.32 131.64,258.35 132.01,258.38 132.37,258.43 132.74,258.5 133.1,258.57 133.47,258.65 133.83,258.75 134.2,258.85 134.56,258.96 134.93,259.07 135.29,259.19 135.66,259.32 136.03,259.44 136.39,259.57 136.76,259.69 137.12,259.82 137.49,259.94 137.85,260.05 138.22,260.17 138.58,260.28 138.95,260.38 139.32,260.48 139.68,260.57 140.05,260.65 140.41,260.73 140.78,260.8 141.14,260.87 141.51,260.93 141.87,260.98 142.24,261.03 142.6,261.07 142.97,261.11 143.34,261.15 143.7,261.18 144.07,261.2 144.43,261.23 144.8,261.25 145.16,261.27 145.53,261.28 145.89,261.3 146.26,261.31 146.63,261.32 146.99,261.33 147.36,261.34 147.72,261.34 148.09,261.35 148.45,261.36 148.82,261.36 149.18,261.37 149.55,261.37 149.91,261.38 150.28,261.38 150.65,261.38 151.01,261.39 151.38,261.39 151.74,261.39 152.11,261.4 152.47,261.4 152.84,261.4 153.2,261.4 153.57,261.41 153.94,261.41 154.3,261.41 154.67,261.41 155.03,261.42 155.4,261.42 155.76,261.42 156.13,261.42 156.49,261.42 156.86,261.43 157.22,261.43" fill="none" stroke="#fff" stroke-width="0.55" stroke-linejoin="round" stroke-linecap="round" stroke-opacity="0.75"/>
<polyline points="102.4,271.57 102.77,271.57 103.13,271.56 103.5,271.56 103.86,271.56 104.23,271.55 104.59,271.55 104.96,271.54 105.32,271.54 105.69,271.53 106.05,271.52 106.42,271.52 106.79,271.51 107.15,271.5 107.52,271.5 107.88,271.49 108.25,271.48 108.61,271.47 108.98,271.46 109.34,271.45 109.71,271.44 110.08,271.43 110.44,271.42 110.81,271.41 111.17,271.4 111.54,271.38 111.9,271.37 112.27,271.35 112.63,271.34 113,271.32 113.36,271.3 113.73,271.28 114.1,271.26 114.46,271.24 114.83,271.21 115.19,271.19 115.56,271.16 115.92,271.13 116.29,271.09 116.65,271.06 117.02,271.02 117.39,270.98 117.75,270.93 118.12,270.89 118.48,270.83 118.85,270.78 119.21,270.72 119.58,270.66 119.94,270.59 120.31,270.52 120.67,270.45 121.04,270.37 121.41,270.29 121.77,270.2 122.14,270.12 122.5,270.03 122.87,269.95 123.23,269.86 123.6,269.78 123.96,269.69 124.33,269.62 124.7,269.54 125.06,269.47 125.43,269.39 125.79,269.33 126.16,269.26 126.52,269.2 126.89,269.15 127.25,269.09 127.62,269.04 127.98,268.99 128.35,268.95 128.72,268.91 129.08,268.87 129.45,268.84 129.81,268.82 130.18,268.81 130.54,268.8 130.91,268.8 131.27,268.82 131.64,268.84 132.01,268.88 132.37,268.92 132.74,268.98 133.1,269.04 133.47,269.12 133.83,269.2 134.2,269.3 134.56,269.4 134.93,269.5 135.29,269.61 135.66,269.72 136.03,269.83 136.39,269.95 136.76,270.06 137.12,270.17 137.49,270.28 137.85,270.39 138.22,270.49 138.58,270.59 138.95,270.68 139.32,270.77 139.68,270.85 140.05,270.93 140.41,271 140.78,271.07 141.14,271.13 141.51,271.18 141.87,271.23 142.24,271.27 142.6,271.31 142.97,271.35 143.34,271.38 143.7,271.41 144.07,271.43 144.43,271.45 144.8,271.47 145.16,271.49 145.53,271.5 145.89,271.52 146.26,271.53 146.63,271.54 146.99,271.54 147.36,271.55 147.72,271.56 148.09,271.57 148.45,271.57 148.82,271.58 149.18,271.58 149.55,271.58 149.91,271.59 150.28,271.59 150.65,271.6 151.01,271.6 151.38,271.6 151.74,271.6 152.11,271.61 152.47,271.61 152.84,271.61 153.2,271.61 153.57,271.62 153.94,271.62 154.3,271.62 154.67,271.62 155.03,271.62 155.4,271.63 155.76,271.63 156.13,271.63 156.49,271.63 156.86,271.63 157.22,271.63" fill="none" stroke="#8cf0f8" stroke-width="2.7" stroke-linejoin="round" stroke-linecap="round" />
<polyline points="102.4,271.57 102.77,271.57 103.13,271.56 103.5,271.56 103.86,271.56 104.23,271.55 104.59,271.55 104.96,271.54 105.32,271.54 105.69,271.53 106.05,271.52 106.42,271.52 106.79,271.51 107.15,271.5 107.52,271.5 107.88,271.49 108.25,271.48 108.61,271.47 108.98,271.46 109.34,271.45 109.71,271.44 110.08,271.43 110.44,271.42 110.81,271.41 111.17,271.4 111.54,271.38 111.9,271.37 112.27,271.35 112.63,271.34 113,271.32 113.36,271.3 113.73,271.28 114.1,271.26 114.46,271.24 114.83,271.21 115.19,271.19 115.56,271.16 115.92,271.13 116.29,271.09 116.65,271.06 117.02,271.02 117.39,270.98 117.75,270.93 118.12,270.89 118.48,270.83 118.85,270.78 119.21,270.72 119.58,270.66 119.94,270.59 120.31,270.52 120.67,270.45 121.04,270.37 121.41,270.29 121.77,270.2 122.14,270.12 122.5,270.03 122.87,269.95 123.23,269.86 123.6,269.78 123.96,269.69 124.33,269.62 124.7,269.54 125.06,269.47 125.43,269.39 125.79,269.33 126.16,269.26 126.52,269.2 126.89,269.15 127.25,269.09 127.62,269.04 127.98,268.99 128.35,268.95 128.72,268.91 129.08,268.87 129.45,268.84 129.81,268.82 130.18,268.81 130.54,268.8 130.91,268.8 131.27,268.82 131.64,268.84 132.01,268.88 132.37,268.92 132.74,268.98 133.1,269.04 133.47,269.12 133.83,269.2 134.2,269.3 134.56,269.4 134.93,269.5 135.29,269.61 135.66,269.72 136.03,269.83 136.39,269.95 136.76,270.06 137.12,270.17 137.49,270.28 137.85,270.39 138.22,270.49 138.58,270.59 138.95,270.68 139.32,270.77 139.68,270.85 140.05,270.93 140.41,271 140.78,271.07 141.14,271.13 141.51,271.18 141.87,271.23 142.24,271.27 142.6,271.31 142.97,271.35 143.34,271.38 143.7,271.41 144.07,271.43 144.43,271.45 144.8,271.47 145.16,271.49 145.53,271.5 145.89,271.52 146.26,271.53 146.63,271.54 146.99,271.54 147.36,271.55 147.72,271.56 148.09,271.57 148.45,271.57 148.82,271.58 149.18,271.58 149.55,271.58 149.91,271.59 150.28,271.59 150.65,271.6 151.01,271.6 151.38,271.6 151.74,271.6 152.11,271.61 152.47,271.61 152.84,271.61 153.2,271.61 153.57,271.62 153.94,271.62 154.3,271.62 154.67,271.62 155.03,271.62 155.4,271.63 155.76,271.63 156.13,271.63 156.49,271.63 156.86,271.63 157.22,271.63" fill="none" stroke="#fff" stroke-width="0.55" stroke-linejoin="round" stroke-linecap="round" stroke-opacity="0.75"/>
<text x="99.3" y="201.1" font-size="8.2" text-anchor="start" font-weight="normal" fill="#111" textLength="9.2" lengthAdjust="spacingAndGlyphs" stroke="#111" stroke-width="0.3">#1</text>
<text x="99.3" y="210.88" font-size="8.2" text-anchor="start" font-weight="normal" fill="#111" textLength="9.2" lengthAdjust="spacingAndGlyphs" stroke="#111" stroke-width="0.3">#2</text>
<text x="99.3" y="220.66" font-size="8.2" text-anchor="start" font-weight="normal" fill="#111" textLength="9.2" lengthAdjust="spacingAndGlyphs" stroke="#111" stroke-width="0.3">#3</text>
<text x="99.3" y="230.44" font-size="8.2" text-anchor="start" font-weight="normal" fill="#111" textLength="9.2" lengthAdjust="spacingAndGlyphs" stroke="#111" stroke-width="0.3">#4</text>
<text x="99.3" y="240.22" font-size="8.2" text-anchor="start" font-weight="normal" fill="#111" textLength="9.2" lengthAdjust="spacingAndGlyphs" stroke="#111" stroke-width="0.3">#5</text>
<text x="99.3" y="250" font-size="8.2" text-anchor="start" font-weight="normal" fill="#111" textLength="9.2" lengthAdjust="spacingAndGlyphs" stroke="#111" stroke-width="0.3">#6</text>
<text x="99.3" y="259.78" font-size="8.2" text-anchor="start" font-weight="normal" fill="#111" textLength="9.2" lengthAdjust="spacingAndGlyphs" stroke="#111" stroke-width="0.3">#7</text>
<text x="99.3" y="269.56" font-size="8.2" text-anchor="start" font-weight="normal" fill="#111" textLength="9.2" lengthAdjust="spacingAndGlyphs" stroke="#111" stroke-width="0.3">#8</text>
<text x="171.5" y="182.4" font-size="8.3" text-anchor="end" font-weight="bold" fill="#000"  stroke="#000" stroke-width="0.1">O 1s</text>
<text x="58.7" y="306.6" font-size="9.3" text-anchor="start" font-weight="normal" fill="#000" textLength="87.3" lengthAdjust="spacingAndGlyphs"  stroke="#000" stroke-width="0.1">Binding energy (eV)</text>
<text transform="translate(21.2,229.3) rotate(-90)" font-size="8.8" text-anchor="middle" textLength="65.5" lengthAdjust="spacingAndGlyphs" stroke="#000" stroke-width="0.1">Intensity (a.u.)</text>
<text x="183.7" y="165.6" font-size="10" text-anchor="start" font-weight="bold" fill="#000"  stroke="#000" stroke-width="0.1">(e)</text>
<rect x="212.5" y="170.85" width="145.5" height="117.4" fill="none" stroke="#000" stroke-width="1.2"/>
<line x1="358" y1="288.25" x2="358" y2="285.75" stroke="#000" stroke-width="0.8" />
<line x1="348.91" y1="288.25" x2="348.91" y2="286.75" stroke="#000" stroke-width="0.8" />
<line x1="339.81" y1="288.25" x2="339.81" y2="285.75" stroke="#000" stroke-width="0.8" />
<line x1="330.72" y1="288.25" x2="330.72" y2="286.75" stroke="#000" stroke-width="0.8" />
<line x1="321.62" y1="288.25" x2="321.62" y2="285.75" stroke="#000" stroke-width="0.8" />
<line x1="312.53" y1="288.25" x2="312.53" y2="286.75" stroke="#000" stroke-width="0.8" />
<line x1="303.44" y1="288.25" x2="303.44" y2="285.75" stroke="#000" stroke-width="0.8" />
<line x1="294.34" y1="288.25" x2="294.34" y2="286.75" stroke="#000" stroke-width="0.8" />
<line x1="285.25" y1="288.25" x2="285.25" y2="285.75" stroke="#000" stroke-width="0.8" />
<line x1="276.16" y1="288.25" x2="276.16" y2="286.75" stroke="#000" stroke-width="0.8" />
<line x1="267.06" y1="288.25" x2="267.06" y2="285.75" stroke="#000" stroke-width="0.8" />
<line x1="257.97" y1="288.25" x2="257.97" y2="286.75" stroke="#000" stroke-width="0.8" />
<line x1="248.88" y1="288.25" x2="248.88" y2="285.75" stroke="#000" stroke-width="0.8" />
<line x1="239.78" y1="288.25" x2="239.78" y2="286.75" stroke="#000" stroke-width="0.8" />
<line x1="230.69" y1="288.25" x2="230.69" y2="285.75" stroke="#000" stroke-width="0.8" />
<line x1="221.59" y1="288.25" x2="221.59" y2="286.75" stroke="#000" stroke-width="0.8" />
<line x1="212.5" y1="288.25" x2="212.5" y2="285.75" stroke="#000" stroke-width="0.8" />
<text x="212.5" y="296.5" font-size="7" text-anchor="middle" font-weight="normal" fill="#000"  stroke="#000" stroke-width="0.1">540</text>
<text x="230.69" y="296.5" font-size="7" text-anchor="middle" font-weight="normal" fill="#000"  stroke="#000" stroke-width="0.1">538</text>
<text x="248.88" y="296.5" font-size="7" text-anchor="middle" font-weight="normal" fill="#000"  stroke="#000" stroke-width="0.1">536</text>
<text x="267.06" y="296.5" font-size="7" text-anchor="middle" font-weight="normal" fill="#000"  stroke="#000" stroke-width="0.1">534</text>
<text x="285.25" y="296.5" font-size="7" text-anchor="middle" font-weight="normal" fill="#000"  stroke="#000" stroke-width="0.1">532</text>
<text x="303.44" y="296.5" font-size="7" text-anchor="middle" font-weight="normal" fill="#000"  stroke="#000" stroke-width="0.1">530</text>
<text x="321.62" y="296.5" font-size="7" text-anchor="middle" font-weight="normal" fill="#000"  stroke="#000" stroke-width="0.1">528</text>
<text x="339.81" y="296.5" font-size="7" text-anchor="middle" font-weight="normal" fill="#000"  stroke="#000" stroke-width="0.1">526</text>
<text x="358" y="296.5" font-size="7" text-anchor="middle" font-weight="normal" fill="#000"  stroke="#000" stroke-width="0.1">524</text>
<line x1="212.5" y1="280.6" x2="215.1" y2="280.6" stroke="#000" stroke-width="0.9" />
<line x1="212.5" y1="275.5" x2="214.1" y2="275.5" stroke="#000" stroke-width="0.9" />
<line x1="212.5" y1="270.4" x2="215.1" y2="270.4" stroke="#000" stroke-width="0.9" />
<line x1="212.5" y1="265.3" x2="214.1" y2="265.3" stroke="#000" stroke-width="0.9" />
<line x1="212.5" y1="260.2" x2="215.1" y2="260.2" stroke="#000" stroke-width="0.9" />
<line x1="212.5" y1="255.1" x2="214.1" y2="255.1" stroke="#000" stroke-width="0.9" />
<line x1="212.5" y1="250" x2="215.1" y2="250" stroke="#000" stroke-width="0.9" />
<line x1="212.5" y1="244.9" x2="214.1" y2="244.9" stroke="#000" stroke-width="0.9" />
<line x1="212.5" y1="239.8" x2="215.1" y2="239.8" stroke="#000" stroke-width="0.9" />
<line x1="212.5" y1="234.7" x2="214.1" y2="234.7" stroke="#000" stroke-width="0.9" />
<line x1="212.5" y1="229.6" x2="215.1" y2="229.6" stroke="#000" stroke-width="0.9" />
<line x1="212.5" y1="224.5" x2="214.1" y2="224.5" stroke="#000" stroke-width="0.9" />
<line x1="212.5" y1="219.4" x2="215.1" y2="219.4" stroke="#000" stroke-width="0.9" />
<line x1="212.5" y1="214.3" x2="214.1" y2="214.3" stroke="#000" stroke-width="0.9" />
<line x1="212.5" y1="209.2" x2="215.1" y2="209.2" stroke="#000" stroke-width="0.9" />
<line x1="212.5" y1="204.1" x2="214.1" y2="204.1" stroke="#000" stroke-width="0.9" />
<line x1="212.5" y1="199" x2="215.1" y2="199" stroke="#000" stroke-width="0.9" />
<line x1="212.5" y1="193.9" x2="214.1" y2="193.9" stroke="#000" stroke-width="0.9" />
<line x1="212.5" y1="188.8" x2="215.1" y2="188.8" stroke="#000" stroke-width="0.9" />
<line x1="212.5" y1="183.7" x2="214.1" y2="183.7" stroke="#000" stroke-width="0.9" />
<line x1="212.5" y1="178.6" x2="215.1" y2="178.6" stroke="#000" stroke-width="0.9" />
<line x1="212.5" y1="173.5" x2="214.1" y2="173.5" stroke="#000" stroke-width="0.9" />
<polyline points="221.59,270.15 222.5,270.14 223.41,270.14 224.32,270.13 225.23,270.12 226.14,270.11 227.05,270.1 227.96,270.09 228.87,270.08 229.78,270.07 230.69,270.06 231.6,270.04 232.51,270.03 233.42,270.01 234.33,270 235.23,269.98 236.14,269.96 237.05,269.94 237.96,269.92 238.87,269.9 239.78,269.87 240.69,269.85 241.6,269.82 242.51,269.79 243.42,269.76 244.33,269.73 245.24,269.69 246.15,269.65 247.06,269.61 247.97,269.57 248.88,269.52 249.78,269.47 250.69,269.42 251.6,269.36 252.51,269.3 253.42,269.23 254.33,269.16 255.24,269.08 256.15,269 257.06,268.91 257.97,268.81 258.88,268.7 259.79,268.58 260.7,268.46 261.61,268.32 262.52,268.17 263.43,268 264.33,267.82 265.24,267.62 266.15,267.4 267.06,267.15 267.97,266.88 268.88,266.57 269.79,266.23 270.7,265.85 271.61,265.42 272.52,264.93 273.43,264.38 274.34,263.75 275.25,263.02 276.16,262.18 277.07,261.2 277.98,260.06 278.88,258.71 279.79,257.12 280.7,255.21 281.61,252.93 282.52,250.17 283.43,246.82 284.34,242.75 285.25,237.84 286.16,231.97 287.07,225.13 287.98,217.52 288.89,209.65 289.8,202.37 290.71,196.55 291.62,192.57 292.53,189.96 293.43,187.77 294.34,185.51 295.25,184.05 296.16,185.44 297.07,191.26 297.98,200.79 298.89,211.7 299.8,221.98 300.71,230.7 301.62,237.73 302.53,243.3 303.44,247.7 304.35,251.19 305.26,254 306.17,256.27 307.08,258.13 307.98,259.67 308.89,260.96 309.8,262.05 310.71,262.98 311.62,263.78 312.53,264.47 313.44,265.07 314.35,265.6 315.26,266.07 316.17,266.48 317.08,266.85 317.99,267.18 318.9,267.47 319.81,267.74 320.72,267.98 321.63,268.2 322.53,268.4 323.44,268.58 324.35,268.75 325.26,268.91 326.17,269.05 327.08,269.18 327.99,269.3 328.9,269.42 329.81,269.52 330.72,269.62 331.63,269.71 332.54,269.8 333.45,269.88 334.36,269.96 335.27,270.03 336.18,270.09 337.08,270.16 337.99,270.22 338.9,270.28 339.81,270.33 340.72,270.38 341.63,270.43 342.54,270.48 343.45,270.52 344.36,270.57" fill="none" stroke="#ff0000" stroke-width="0.8" stroke-linejoin="round" stroke-linecap="round" />
<g stroke="#ff0000" stroke-width="1.2">
<circle cx="221.59" cy="270.15" r="1.5" fill="#ff4c4c"/>
<circle cx="222.5" cy="270.14" r="1.5" fill="#ff4c4c"/>
<circle cx="223.41" cy="270.14" r="1.5" fill="#ff4c4c"/>
<circle cx="224.32" cy="270.13" r="1.5" fill="#ff4c4c"/>
<circle cx="225.23" cy="270.12" r="1.5" fill="#ff4c4c"/>
<circle cx="226.14" cy="270.11" r="1.5" fill="#ff4c4c"/>
<circle cx="227.05" cy="270.1" r="1.5" fill="#ff4c4c"/>
<circle cx="227.96" cy="270.09" r="1.5" fill="#ff4c4c"/>
<circle cx="228.87" cy="270.08" r="1.5" fill="#ff4c4c"/>
<circle cx="229.78" cy="270.07" r="1.5" fill="#ff4c4c"/>
<circle cx="230.69" cy="270.06" r="1.5" fill="#ff4c4c"/>
<circle cx="231.6" cy="270.04" r="1.5" fill="#ff4c4c"/>
<circle cx="232.51" cy="270.03" r="1.5" fill="#ff4c4c"/>
<circle cx="233.42" cy="270.01" r="1.5" fill="#ff4c4c"/>
<circle cx="234.33" cy="270" r="1.5" fill="#ff4c4c"/>
<circle cx="235.23" cy="269.98" r="1.5" fill="#ff4c4c"/>
<circle cx="236.14" cy="269.96" r="1.5" fill="#ff4c4c"/>
<circle cx="237.05" cy="269.94" r="1.5" fill="#ff4c4c"/>
<circle cx="237.96" cy="269.92" r="1.5" fill="#ff4c4c"/>
<circle cx="238.87" cy="269.9" r="1.5" fill="#ff4c4c"/>
<circle cx="239.78" cy="269.87" r="1.5" fill="#ff4c4c"/>
<circle cx="240.69" cy="269.85" r="1.5" fill="#ff4c4c"/>
<circle cx="241.6" cy="269.82" r="1.5" fill="#ff4c4c"/>
<circle cx="242.51" cy="269.79" r="1.5" fill="#ff4c4c"/>
<circle cx="243.42" cy="269.76" r="1.5" fill="#ff4c4c"/>
<circle cx="244.33" cy="269.73" r="1.5" fill="#ff4c4c"/>
<circle cx="245.24" cy="269.69" r="1.5" fill="#ff4d4d"/>
<circle cx="246.15" cy="269.65" r="1.5" fill="#ff4d4d"/>
<circle cx="247.06" cy="269.61" r="1.5" fill="#ff4d4d"/>
<circle cx="247.97" cy="269.57" r="1.5" fill="#ff4d4d"/>
<circle cx="248.88" cy="269.52" r="1.5" fill="#ff4d4d"/>
<circle cx="249.78" cy="269.47" r="1.5" fill="#ff4d4d"/>
<circle cx="250.69" cy="269.42" r="1.5" fill="#ff4d4d"/>
<circle cx="251.6" cy="269.36" r="1.5" fill="#ff4d4d"/>
<circle cx="252.51" cy="269.3" r="1.5" fill="#ff4d4d"/>
<circle cx="253.42" cy="269.23" r="1.5" fill="#ff4d4d"/>
<circle cx="254.33" cy="269.16" r="1.5" fill="#ff4d4d"/>
<circle cx="255.24" cy="269.08" r="1.5" fill="#ff4d4d"/>
<circle cx="256.15" cy="269" r="1.5" fill="#ff4e4e"/>
<circle cx="257.06" cy="268.91" r="1.5" fill="#ff4e4e"/>
<circle cx="257.97" cy="268.81" r="1.5" fill="#ff4e4e"/>
<circle cx="258.88" cy="268.7" r="1.5" fill="#ff4f4f"/>
<circle cx="259.79" cy="268.58" r="1.5" fill="#ff4f4f"/>
<circle cx="260.7" cy="268.46" r="1.5" fill="#ff4f4f"/>
<circle cx="261.61" cy="268.32" r="1.5" fill="#ff5050"/>
<circle cx="262.52" cy="268.17" r="1.5" fill="#ff5151"/>
<circle cx="263.43" cy="268" r="1.5" fill="#ff5252"/>
<circle cx="264.33" cy="267.82" r="1.5" fill="#ff5353"/>
<circle cx="265.24" cy="267.62" r="1.5" fill="#ff5454"/>
<circle cx="266.15" cy="267.4" r="1.5" fill="#ff5656"/>
<circle cx="267.06" cy="267.15" r="1.5" fill="#ff5858"/>
<circle cx="267.97" cy="266.88" r="1.5" fill="#ff5b5b"/>
<circle cx="268.88" cy="266.57" r="1.5" fill="#ff5e5e"/>
<circle cx="269.79" cy="266.23" r="1.5" fill="#ff6363"/>
<circle cx="270.7" cy="265.85" r="1.5" fill="#ff6868"/>
<circle cx="271.61" cy="265.42" r="1.5" fill="#ff7070"/>
<circle cx="272.52" cy="264.93" r="1.5" fill="#ff7979"/>
<circle cx="273.43" cy="264.38" r="1.5" fill="#ff8585"/>
<circle cx="274.34" cy="263.75" r="1.5" fill="#ff9595"/>
<circle cx="275.25" cy="263.02" r="1.5" fill="#ffa9a9"/>
<circle cx="276.16" cy="262.18" r="1.5" fill="#ffc4c4"/>
<circle cx="277.07" cy="261.2" r="1.5" fill="#ffe7e7"/>
<circle cx="277.98" cy="260.06" r="1.5" fill="#ffffff"/>
<circle cx="278.88" cy="258.71" r="1.5" fill="#ffffff"/>
<circle cx="279.79" cy="257.12" r="1.5" fill="#ffffff"/>
<circle cx="280.7" cy="255.21" r="1.5" fill="#ffffff"/>
<circle cx="281.61" cy="252.93" r="1.5" fill="#ffffff"/>
<circle cx="282.52" cy="250.17" r="1.5" fill="#ffffff"/>
<circle cx="283.43" cy="246.82" r="1.5" fill="#ffffff"/>
<circle cx="284.34" cy="242.75" r="1.5" fill="#ffffff"/>
<circle cx="285.25" cy="237.84" r="1.5" fill="#ffffff"/>
<circle cx="286.16" cy="231.97" r="1.5" fill="#ffffff"/>
<circle cx="287.07" cy="225.13" r="1.5" fill="#ffffff"/>
<circle cx="287.98" cy="217.52" r="1.5" fill="#ffffff"/>
<circle cx="288.89" cy="209.65" r="1.5" fill="#ffffff"/>
<circle cx="289.8" cy="202.37" r="1.5" fill="#ffffff"/>
<circle cx="290.71" cy="196.55" r="1.5" fill="#ffffff"/>
<circle cx="291.62" cy="192.57" r="1.5" fill="#ffffff"/>
<circle cx="292.53" cy="189.96" r="1.5" fill="#ffffff"/>
<circle cx="293.43" cy="187.77" r="1.5" fill="#ffffff"/>
<circle cx="294.34" cy="185.51" r="1.5" fill="#ffffff"/>
<circle cx="295.25" cy="184.05" r="1.5" fill="#ffffff"/>
<circle cx="296.16" cy="185.44" r="1.5" fill="#ffffff"/>
<circle cx="297.07" cy="191.26" r="1.5" fill="#ffffff"/>
<circle cx="297.98" cy="200.79" r="1.5" fill="#ffffff"/>
<circle cx="298.89" cy="211.7" r="1.5" fill="#ffffff"/>
<circle cx="299.8" cy="221.98" r="1.5" fill="#ffffff"/>
<circle cx="300.71" cy="230.7" r="1.5" fill="#ffffff"/>
<circle cx="301.62" cy="237.73" r="1.5" fill="#ffffff"/>
<circle cx="302.53" cy="243.3" r="1.5" fill="#ffffff"/>
<circle cx="303.44" cy="247.7" r="1.5" fill="#ffffff"/>
<circle cx="304.35" cy="251.19" r="1.5" fill="#ffffff"/>
<circle cx="305.26" cy="254" r="1.5" fill="#ffffff"/>
<circle cx="306.17" cy="256.27" r="1.5" fill="#ffffff"/>
<circle cx="307.08" cy="258.13" r="1.5" fill="#ffffff"/>
<circle cx="307.98" cy="259.67" r="1.5" fill="#ffffff"/>
<circle cx="308.89" cy="260.96" r="1.5" fill="#ffffff"/>
<circle cx="309.8" cy="262.05" r="1.5" fill="#ffdbdb"/>
<circle cx="310.71" cy="262.98" r="1.5" fill="#ffbaba"/>
<circle cx="311.62" cy="263.78" r="1.5" fill="#ffa1a1"/>
<circle cx="312.53" cy="264.47" r="1.5" fill="#ff8e8e"/>
<circle cx="313.44" cy="265.07" r="1.5" fill="#ff8080"/>
<circle cx="314.35" cy="265.6" r="1.5" fill="#ff7575"/>
<circle cx="315.26" cy="266.07" r="1.5" fill="#ff6d6d"/>
<circle cx="316.17" cy="266.48" r="1.5" fill="#ff6666"/>
<circle cx="317.08" cy="266.85" r="1.5" fill="#ff6161"/>
<circle cx="317.99" cy="267.18" r="1.5" fill="#ff5d5d"/>
<circle cx="318.9" cy="267.47" r="1.5" fill="#ff5a5a"/>
<circle cx="319.81" cy="267.74" r="1.5" fill="#ff5858"/>
<circle cx="320.72" cy="267.98" r="1.5" fill="#ff5656"/>
<circle cx="321.63" cy="268.2" r="1.5" fill="#ff5454"/>
<circle cx="322.53" cy="268.4" r="1.5" fill="#ff5353"/>
<circle cx="323.44" cy="268.58" r="1.5" fill="#ff5252"/>
<circle cx="324.35" cy="268.75" r="1.5" fill="#ff5151"/>
<circle cx="325.26" cy="268.91" r="1.5" fill="#ff5050"/>
<circle cx="326.17" cy="269.05" r="1.5" fill="#ff5050"/>
<circle cx="327.08" cy="269.18" r="1.5" fill="#ff4f4f"/>
<circle cx="327.99" cy="269.3" r="1.5" fill="#ff4f4f"/>
<circle cx="328.9" cy="269.42" r="1.5" fill="#ff4f4f"/>
<circle cx="329.81" cy="269.52" r="1.5" fill="#ff4e4e"/>
<circle cx="330.72" cy="269.62" r="1.5" fill="#ff4e4e"/>
<circle cx="331.63" cy="269.71" r="1.5" fill="#ff4e4e"/>
<circle cx="332.54" cy="269.8" r="1.5" fill="#ff4e4e"/>
<circle cx="333.45" cy="269.88" r="1.5" fill="#ff4d4d"/>
<circle cx="334.36" cy="269.96" r="1.5" fill="#ff4d4d"/>
<circle cx="335.27" cy="270.03" r="1.5" fill="#ff4d4d"/>
<circle cx="336.18" cy="270.09" r="1.5" fill="#ff4d4d"/>
<circle cx="337.08" cy="270.16" r="1.5" fill="#ff4d4d"/>
<circle cx="337.99" cy="270.22" r="1.5" fill="#ff4d4d"/>
<circle cx="338.9" cy="270.28" r="1.5" fill="#ff4d4d"/>
<circle cx="339.81" cy="270.33" r="1.5" fill="#ff4d4d"/>
<circle cx="340.72" cy="270.38" r="1.5" fill="#ff4d4d"/>
<circle cx="341.63" cy="270.43" r="1.5" fill="#ff4d4d"/>
<circle cx="342.54" cy="270.48" r="1.5" fill="#ff4d4d"/>
<circle cx="343.45" cy="270.52" r="1.5" fill="#ff4d4d"/>
<circle cx="344.36" cy="270.57" r="1.5" fill="#ff4d4d"/>
</g>
<polyline points="221,270.45 221.31,270.45 221.62,270.45 221.93,270.44 222.24,270.44 222.55,270.44 222.86,270.43 223.17,270.43 223.48,270.43 223.79,270.42 224.1,270.42 224.41,270.42 224.72,270.41 225.03,270.41 225.34,270.41 225.65,270.41 225.96,270.4 226.27,270.4 226.58,270.39 226.89,270.39 227.2,270.39 227.51,270.38 227.82,270.38 228.12,270.38 228.43,270.37 228.74,270.37 229.05,270.37 229.36,270.36 229.67,270.36 229.98,270.36 230.29,270.35 230.6,270.35 230.91,270.34 231.22,270.34 231.53,270.34 231.84,270.33 232.15,270.33 232.46,270.32 232.77,270.32 233.08,270.32 233.39,270.31 233.7,270.31 234.01,270.3 234.32,270.3 234.63,270.29 234.94,270.29 235.25,270.28 235.56,270.28 235.87,270.28 236.18,270.27 236.49,270.27 236.8,270.26 237.11,270.26 237.42,270.25 237.73,270.25 238.04,270.24 238.35,270.24 238.66,270.23 238.97,270.23 239.28,270.22 239.59,270.22 239.9,270.21 240.21,270.2 240.52,270.2 240.83,270.19 241.14,270.19 241.45,270.18 241.75,270.18 242.06,270.17 242.37,270.16 242.68,270.16 242.99,270.15 243.3,270.15 243.61,270.14 243.92,270.13 244.23,270.13 244.54,270.12 244.85,270.11 245.16,270.11 245.47,270.1 245.78,270.09 246.09,270.08 246.4,270.08 246.71,270.07 247.02,270.06 247.33,270.05 247.64,270.05 247.95,270.04 248.26,270.03 248.57,270.02 248.88,270.01 249.19,270 249.5,270 249.81,269.99 250.12,269.98 250.43,269.97 250.74,269.96 251.05,269.95 251.36,269.94 251.67,269.93 251.98,269.92 252.29,269.91 252.6,269.9 252.91,269.89 253.22,269.88 253.53,269.87 253.84,269.86 254.15,269.84 254.46,269.83 254.77,269.82 255.08,269.81 255.38,269.8 255.69,269.78 256,269.77 256.31,269.76 256.62,269.74 256.93,269.73 257.24,269.72 257.55,269.7 257.86,269.69 258.17,269.67 258.48,269.66 258.79,269.64 259.1,269.63 259.41,269.61 259.72,269.59 260.03,269.57 260.34,269.56 260.65,269.54 260.96,269.52 261.27,269.5 261.58,269.48 261.89,269.46 262.2,269.44 262.51,269.42 262.82,269.4 263.13,269.38 263.44,269.35 263.75,269.33 264.06,269.31 264.37,269.28 264.68,269.26 264.99,269.23 265.3,269.2 265.61,269.18 265.92,269.15 266.23,269.12 266.54,269.09 266.85,269.06 267.16,269.03 267.47,268.99 267.78,268.96 268.09,268.92 268.4,268.89 268.71,268.85 269.02,268.81 269.32,268.77 269.63,268.73 269.94,268.69 270.25,268.65 270.56,268.6 270.87,268.55 271.18,268.51 271.49,268.46 271.8,268.4 272.11,268.35 272.42,268.29 272.73,268.24 273.04,268.18 273.35,268.11 273.66,268.05 273.97,267.98 274.28,267.91 274.59,267.84 274.9,267.76 275.21,267.68 275.52,267.6 275.83,267.51 276.14,267.42 276.45,267.33 276.76,267.23 277.07,267.13 277.38,267.02 277.69,266.91 278,266.79 278.31,266.67 278.62,266.53 278.93,266.4 279.24,266.25 279.55,266.1 279.86,265.93 280.17,265.76 280.48,265.58 280.79,265.38 281.1,265.17 281.41,264.94 281.72,264.7 282.03,264.44 282.34,264.16 282.65,263.86 282.95,263.53 283.26,263.18 283.57,262.79 283.88,262.37 284.19,261.91 284.5,261.41 284.81,260.86 285.12,260.25 285.43,259.6 285.74,258.87 286.05,258.09 286.36,257.22 286.67,256.28 286.98,255.26 287.29,254.14 287.6,252.93 287.91,251.61 288.22,250.19 288.53,248.66 288.84,247.01 289.15,245.24 289.46,243.36 289.77,241.35 290.08,239.22 290.39,236.98 290.7,234.62 291.01,232.16 291.32,229.6 291.63,226.96 291.94,224.26 292.25,221.52 292.56,218.77 292.87,216.04 293.18,213.37 293.49,210.82 293.8,208.43 294.11,206.25 294.42,204.36 294.73,202.79 295.04,201.6 295.35,200.84 295.66,200.52 295.97,200.66 296.28,201.25 296.58,202.27 296.89,203.69 297.2,205.47 297.51,207.54 297.82,209.85 298.13,212.34 298.44,214.97 298.75,217.68 299.06,220.42 299.37,223.17 299.68,225.89 299.99,228.55 300.3,231.14 300.61,233.64 300.92,236.04 301.23,238.32 301.54,240.49 301.85,242.55 302.16,244.48 302.47,246.29 302.78,247.98 303.09,249.55 303.4,251.02 303.71,252.37 304.02,253.62 304.33,254.77 304.64,255.83 304.95,256.8 305.26,257.69 305.57,258.51 305.88,259.25 306.19,259.93 306.5,260.55 306.81,261.12 307.12,261.64 307.43,262.11 307.74,262.55 308.05,262.95 308.36,263.31 308.67,263.65 308.98,263.96 309.29,264.24 309.6,264.51 309.91,264.75 310.22,264.98 310.52,265.19 310.83,265.39 311.14,265.58 311.45,265.76 311.76,265.92 312.07,266.08 312.38,266.22 312.69,266.36 313,266.49 313.31,266.62 313.62,266.74 313.93,266.85 314.24,266.96 314.55,267.06 314.86,267.16 315.17,267.25 315.48,267.34 315.79,267.43 316.1,267.51 316.41,267.59 316.72,267.66 317.03,267.73 317.34,267.8 317.65,267.87 317.96,267.93 318.27,267.99 318.58,268.05 318.89,268.11 319.2,268.16 319.51,268.22 319.82,268.27 320.13,268.31 320.44,268.36 320.75,268.41 321.06,268.45 321.37,268.49 321.68,268.53 321.99,268.57 322.3,268.61 322.61,268.65 322.92,268.68 323.23,268.72 323.54,268.75 323.85,268.78 324.15,268.81 324.46,268.84 324.77,268.87 325.08,268.9 325.39,268.93 325.7,268.95 326.01,268.98 326.32,269 326.63,269.03 326.94,269.05 327.25,269.08 327.56,269.1 327.87,269.12 328.18,269.14 328.49,269.16 328.8,269.18 329.11,269.2 329.42,269.22 329.73,269.23 330.04,269.25 330.35,269.27 330.66,269.29 330.97,269.3 331.28,269.32 331.59,269.33 331.9,269.35 332.21,269.36 332.52,269.38 332.83,269.39 333.14,269.4 333.45,269.42 333.76,269.43 334.07,269.44 334.38,269.45 334.69,269.46 335,269.48 335.31,269.49 335.62,269.5 335.93,269.51 336.24,269.52 336.55,269.53 336.86,269.54 337.17,269.55 337.48,269.56 337.78,269.57 338.09,269.58 338.4,269.58 338.71,269.59 339.02,269.6 339.33,269.61 339.64,269.62 339.95,269.63 340.26,269.63 340.57,269.64 340.88,269.65 341.19,269.65 341.5,269.66 341.81,269.67 342.12,269.67 342.43,269.68 342.74,269.69 343.05,269.69 343.36,269.7 343.67,269.71 343.98,269.71 344.29,269.72 344.6,269.72" fill="none" stroke="#0000ff" stroke-width="1.4" stroke-linejoin="round" stroke-linecap="round" />
<polyline points="221,270.21 221.31,270.21 221.62,270.21 221.93,270.21 222.24,270.21 222.55,270.21 222.86,270.21 223.17,270.21 223.48,270.21 223.79,270.21 224.1,270.21 224.41,270.21 224.72,270.21 225.03,270.2 225.34,270.2 225.65,270.2 225.96,270.2 226.27,270.2 226.58,270.2 226.89,270.2 227.2,270.2 227.51,270.2 227.82,270.19 228.12,270.19 228.43,270.19 228.74,270.19 229.05,270.19 229.36,270.19 229.67,270.19 229.98,270.18 230.29,270.18 230.6,270.18 230.91,270.18 231.22,270.18 231.53,270.18 231.84,270.17 232.15,270.17 232.46,270.17 232.77,270.17 233.08,270.17 233.39,270.16 233.7,270.16 234.01,270.16 234.32,270.16 234.63,270.16 234.94,270.15 235.25,270.15 235.56,270.15 235.87,270.15 236.18,270.14 236.49,270.14 236.8,270.14 237.11,270.14 237.42,270.13 237.73,270.13 238.04,270.13 238.35,270.12 238.66,270.12 238.97,270.12 239.28,270.12 239.59,270.11 239.9,270.11 240.21,270.11 240.52,270.1 240.83,270.1 241.14,270.09 241.45,270.09 241.75,270.09 242.06,270.08 242.37,270.08 242.68,270.08 242.99,270.07 243.3,270.07 243.61,270.06 243.92,270.06 244.23,270.05 244.54,270.05 244.85,270.04 245.16,270.04 245.47,270.03 245.78,270.03 246.09,270.02 246.4,270.02 246.71,270.01 247.02,270.01 247.33,270 247.64,269.99 247.95,269.99 248.26,269.98 248.57,269.97 248.88,269.97 249.19,269.96 249.5,269.95 249.81,269.95 250.12,269.94 250.43,269.93 250.74,269.92 251.05,269.91 251.36,269.91 251.67,269.9 251.98,269.89 252.29,269.88 252.6,269.87 252.91,269.86 253.22,269.85 253.53,269.84 253.84,269.83 254.15,269.82 254.46,269.81 254.77,269.8 255.08,269.78 255.38,269.77 255.69,269.76 256,269.75 256.31,269.73 256.62,269.72 256.93,269.71 257.24,269.69 257.55,269.68 257.86,269.66 258.17,269.65 258.48,269.63 258.79,269.61 259.1,269.6 259.41,269.58 259.72,269.56 260.03,269.54 260.34,269.52 260.65,269.5 260.96,269.48 261.27,269.46 261.58,269.44 261.89,269.41 262.2,269.39 262.51,269.36 262.82,269.34 263.13,269.31 263.44,269.28 263.75,269.26 264.06,269.23 264.37,269.2 264.68,269.16 264.99,269.13 265.3,269.1 265.61,269.06 265.92,269.02 266.23,268.99 266.54,268.95 266.85,268.9 267.16,268.86 267.47,268.82 267.78,268.77 268.09,268.72 268.4,268.67 268.71,268.62 269.02,268.56 269.32,268.5 269.63,268.44 269.94,268.38 270.25,268.31 270.56,268.24 270.87,268.17 271.18,268.1 271.49,268.02 271.8,267.93 272.11,267.84 272.42,267.75 272.73,267.65 273.04,267.55 273.35,267.44 273.66,267.33 273.97,267.21 274.28,267.08 274.59,266.95 274.9,266.81 275.21,266.66 275.52,266.5 275.83,266.33 276.14,266.15 276.45,265.96 276.76,265.76 277.07,265.55 277.38,265.32 277.69,265.08 278,264.82 278.31,264.54 278.62,264.24 278.93,263.92 279.24,263.58 279.55,263.21 279.86,262.82 280.17,262.39 280.48,261.93 280.79,261.44 281.1,260.91 281.41,260.33 281.72,259.71 282.03,259.03 282.34,258.3 282.65,257.51 282.95,256.66 283.26,255.73 283.57,254.73 283.88,253.64 284.19,252.47 284.5,251.21 284.81,249.85 285.12,248.4 285.43,246.85 285.74,245.21 286.05,243.5 286.36,241.72 286.67,239.9 286.98,238.07 287.29,236.28 287.6,234.56 287.91,232.97 288.22,231.58 288.53,230.44 288.84,229.61 289.15,229.13 289.46,229.01 289.77,229.28 290.08,229.92 290.39,230.88 290.7,232.13 291.01,233.61 291.32,235.26 291.63,237.02 291.94,238.83 292.25,240.67 292.56,242.47 292.87,244.23 293.18,245.91 293.49,247.52 293.8,249.03 294.11,250.44 294.42,251.76 294.73,252.99 295.04,254.13 295.35,255.19 295.66,256.16 295.97,257.06 296.28,257.89 296.58,258.66 296.89,259.36 297.2,260.02 297.51,260.62 297.82,261.18 298.13,261.7 298.44,262.18 298.75,262.63 299.06,263.04 299.37,263.43 299.68,263.79 299.99,264.12 300.3,264.43 300.61,264.73 300.92,265 301.23,265.25 301.54,265.49 301.85,265.72 302.16,265.93 302.47,266.13 302.78,266.31 303.09,266.49 303.4,266.66 303.71,266.81 304.02,266.96 304.33,267.1 304.64,267.23 304.95,267.36 305.26,267.48 305.57,267.59 305.88,267.7 306.19,267.8 306.5,267.9 306.81,267.99 307.12,268.08 307.43,268.16 307.74,268.25 308.05,268.32 308.36,268.4 308.67,268.47 308.98,268.53 309.29,268.6 309.6,268.66 309.91,268.72 310.22,268.77 310.52,268.83 310.83,268.88 311.14,268.93 311.45,268.98 311.76,269.02 312.07,269.07 312.38,269.11 312.69,269.15 313,269.19 313.31,269.23 313.62,269.27 313.93,269.3 314.24,269.34 314.55,269.37 314.86,269.4 315.17,269.43 315.48,269.47 315.79,269.49 316.1,269.52 316.41,269.55 316.72,269.58 317.03,269.6 317.34,269.63 317.65,269.65 317.96,269.67 318.27,269.7 318.58,269.72 318.89,269.74 319.2,269.76 319.51,269.78 319.82,269.8 320.13,269.82 320.44,269.84 320.75,269.86 321.06,269.87 321.37,269.89 321.68,269.91 321.99,269.92 322.3,269.94 322.61,269.95 322.92,269.97 323.23,269.98 323.54,270 323.85,270.01 324.15,270.03 324.46,270.04 324.77,270.05 325.08,270.06 325.39,270.08 325.7,270.09 326.01,270.1 326.32,270.11 326.63,270.12 326.94,270.13 327.25,270.15 327.56,270.16 327.87,270.17 328.18,270.18 328.49,270.19 328.8,270.2 329.11,270.21 329.42,270.21 329.73,270.22 330.04,270.23 330.35,270.24 330.66,270.25 330.97,270.26 331.28,270.27 331.59,270.27 331.9,270.28 332.21,270.29 332.52,270.3 332.83,270.31 333.14,270.31 333.45,270.32 333.76,270.33 334.07,270.33 334.38,270.34 334.69,270.35 335,270.35 335.31,270.36 335.62,270.37 335.93,270.37 336.24,270.38 336.55,270.39 336.86,270.39 337.17,270.4 337.48,270.4 337.78,270.41 338.09,270.42 338.4,270.42 338.71,270.43 339.02,270.43 339.33,270.44 339.64,270.44 339.95,270.45 340.26,270.45 340.57,270.46 340.88,270.46 341.19,270.47 341.5,270.47 341.81,270.48 342.12,270.48 342.43,270.49 342.74,270.49 343.05,270.49 343.36,270.5 343.67,270.5 343.98,270.51 344.29,270.51 344.6,270.52" fill="none" stroke="#00e000" stroke-width="1.4" stroke-linejoin="round" stroke-linecap="round" />
<line x1="215.8" y1="177.9" x2="232.5" y2="177.9" stroke="#ff0000" stroke-width="1.4" />
<g fill="#fff" stroke="#ff0000" stroke-width="1.1">
<circle cx="224.1" cy="177.9" r="1.75"/>
</g>
<line x1="215.8" y1="186.7" x2="232.5" y2="186.7" stroke="#0000ff" stroke-width="1.5" />
<line x1="215.8" y1="196.9" x2="232.5" y2="196.9" stroke="#00e000" stroke-width="1.5" />
<text x="234.4" y="180.3" font-size="7.1" text-anchor="start" font-weight="normal" fill="#000" textLength="19" lengthAdjust="spacingAndGlyphs"  stroke="#000" stroke-width="0.1">Fitting</text>
<text x="234.4" y="189.1" font-size="7.2" stroke="#000" stroke-width="0.1">O<tspan font-size="4.5" dy="1.7">L</tspan><tspan dy="-1.7"> = 61.7 %</tspan></text>
<text x="234.4" y="199.3" font-size="7.2" stroke="#000" stroke-width="0.1">O<tspan font-size="4.5" dy="1.7">V</tspan><tspan dy="-1.7"> = 38.3 %</tspan></text>
<text x="355.4" y="180.8" font-size="8.3" text-anchor="end" font-weight="bold" fill="#000"  stroke="#000" stroke-width="0.1">O 1s</text>
<text x="239.3" y="226.9" font-size="6.2" text-anchor="start" font-weight="normal" fill="#000" textLength="24.4" lengthAdjust="spacingAndGlyphs"  stroke="#000" stroke-width="0.1">530.8 eV</text>
<line x1="266.5" y1="220.5" x2="294.6" y2="201.6" stroke="#333" stroke-width="0.6" />
<text x="238.8" y="246.5" font-size="6.2" text-anchor="start" font-weight="normal" fill="#000" textLength="24.5" lengthAdjust="spacingAndGlyphs"  stroke="#000" stroke-width="0.1">531.6 eV</text>
<line x1="262.9" y1="239.3" x2="287.7" y2="227.2" stroke="#333" stroke-width="0.6" />
<text x="241.6" y="306.9" font-size="9.3" text-anchor="start" font-weight="normal" fill="#000" textLength="87.3" lengthAdjust="spacingAndGlyphs"  stroke="#000" stroke-width="0.1">Binding energy (eV)</text>
<text transform="translate(206.1,226.3) rotate(-90)" font-size="8.8" text-anchor="middle" textLength="62" lengthAdjust="spacingAndGlyphs" stroke="#000" stroke-width="0.1">Intensity (a.u.)</text>
<text x="361.4" y="165.6" font-size="10" text-anchor="start" font-weight="bold" fill="#000"  stroke="#000" stroke-width="0.1">(f)</text>
<rect x="395.65" y="170.85" width="145.55" height="117.4" fill="none" stroke="#000" stroke-width="1.2"/>
<line x1="541.2" y1="288.25" x2="541.2" y2="285.75" stroke="#000" stroke-width="0.8" />
<line x1="532.1" y1="288.25" x2="532.1" y2="286.75" stroke="#000" stroke-width="0.8" />
<line x1="523.01" y1="288.25" x2="523.01" y2="285.75" stroke="#000" stroke-width="0.8" />
<line x1="513.91" y1="288.25" x2="513.91" y2="286.75" stroke="#000" stroke-width="0.8" />
<line x1="504.81" y1="288.25" x2="504.81" y2="285.75" stroke="#000" stroke-width="0.8" />
<line x1="495.72" y1="288.25" x2="495.72" y2="286.75" stroke="#000" stroke-width="0.8" />
<line x1="486.62" y1="288.25" x2="486.62" y2="285.75" stroke="#000" stroke-width="0.8" />
<line x1="477.52" y1="288.25" x2="477.52" y2="286.75" stroke="#000" stroke-width="0.8" />
<line x1="468.43" y1="288.25" x2="468.43" y2="285.75" stroke="#000" stroke-width="0.8" />
<line x1="459.33" y1="288.25" x2="459.33" y2="286.75" stroke="#000" stroke-width="0.8" />
<line x1="450.23" y1="288.25" x2="450.23" y2="285.75" stroke="#000" stroke-width="0.8" />
<line x1="441.13" y1="288.25" x2="441.13" y2="286.75" stroke="#000" stroke-width="0.8" />
<line x1="432.04" y1="288.25" x2="432.04" y2="285.75" stroke="#000" stroke-width="0.8" />
<line x1="422.94" y1="288.25" x2="422.94" y2="286.75" stroke="#000" stroke-width="0.8" />
<line x1="413.84" y1="288.25" x2="413.84" y2="285.75" stroke="#000" stroke-width="0.8" />
<line x1="404.75" y1="288.25" x2="404.75" y2="286.75" stroke="#000" stroke-width="0.8" />
<line x1="395.65" y1="288.25" x2="395.65" y2="285.75" stroke="#000" stroke-width="0.8" />
<text x="395.65" y="296.5" font-size="7" text-anchor="middle" font-weight="normal" fill="#000"  stroke="#000" stroke-width="0.1">540</text>
<text x="413.84" y="296.5" font-size="7" text-anchor="middle" font-weight="normal" fill="#000"  stroke="#000" stroke-width="0.1">538</text>
<text x="432.04" y="296.5" font-size="7" text-anchor="middle" font-weight="normal" fill="#000"  stroke="#000" stroke-width="0.1">536</text>
<text x="450.23" y="296.5" font-size="7" text-anchor="middle" font-weight="normal" fill="#000"  stroke="#000" stroke-width="0.1">534</text>
<text x="468.43" y="296.5" font-size="7" text-anchor="middle" font-weight="normal" fill="#000"  stroke="#000" stroke-width="0.1">532</text>
<text x="486.62" y="296.5" font-size="7" text-anchor="middle" font-weight="normal" fill="#000"  stroke="#000" stroke-width="0.1">530</text>
<text x="504.81" y="296.5" font-size="7" text-anchor="middle" font-weight="normal" fill="#000"  stroke="#000" stroke-width="0.1">528</text>
<text x="523.01" y="296.5" font-size="7" text-anchor="middle" font-weight="normal" fill="#000"  stroke="#000" stroke-width="0.1">526</text>
<text x="541.2" y="296.5" font-size="7" text-anchor="middle" font-weight="normal" fill="#000"  stroke="#000" stroke-width="0.1">524</text>
<line x1="395.65" y1="280.6" x2="398.25" y2="280.6" stroke="#000" stroke-width="0.9" />
<line x1="395.65" y1="275.5" x2="397.25" y2="275.5" stroke="#000" stroke-width="0.9" />
<line x1="395.65" y1="270.4" x2="398.25" y2="270.4" stroke="#000" stroke-width="0.9" />
<line x1="395.65" y1="265.3" x2="397.25" y2="265.3" stroke="#000" stroke-width="0.9" />
<line x1="395.65" y1="260.2" x2="398.25" y2="260.2" stroke="#000" stroke-width="0.9" />
<line x1="395.65" y1="255.1" x2="397.25" y2="255.1" stroke="#000" stroke-width="0.9" />
<line x1="395.65" y1="250" x2="398.25" y2="250" stroke="#000" stroke-width="0.9" />
<line x1="395.65" y1="244.9" x2="397.25" y2="244.9" stroke="#000" stroke-width="0.9" />
<line x1="395.65" y1="239.8" x2="398.25" y2="239.8" stroke="#000" stroke-width="0.9" />
<line x1="395.65" y1="234.7" x2="397.25" y2="234.7" stroke="#000" stroke-width="0.9" />
<line x1="395.65" y1="229.6" x2="398.25" y2="229.6" stroke="#000" stroke-width="0.9" />
<line x1="395.65" y1="224.5" x2="397.25" y2="224.5" stroke="#000" stroke-width="0.9" />
<line x1="395.65" y1="219.4" x2="398.25" y2="219.4" stroke="#000" stroke-width="0.9" />
<line x1="395.65" y1="214.3" x2="397.25" y2="214.3" stroke="#000" stroke-width="0.9" />
<line x1="395.65" y1="209.2" x2="398.25" y2="209.2" stroke="#000" stroke-width="0.9" />
<line x1="395.65" y1="204.1" x2="397.25" y2="204.1" stroke="#000" stroke-width="0.9" />
<line x1="395.65" y1="199" x2="398.25" y2="199" stroke="#000" stroke-width="0.9" />
<line x1="395.65" y1="193.9" x2="397.25" y2="193.9" stroke="#000" stroke-width="0.9" />
<line x1="395.65" y1="188.8" x2="398.25" y2="188.8" stroke="#000" stroke-width="0.9" />
<line x1="395.65" y1="183.7" x2="397.25" y2="183.7" stroke="#000" stroke-width="0.9" />
<line x1="395.65" y1="178.6" x2="398.25" y2="178.6" stroke="#000" stroke-width="0.9" />
<line x1="395.65" y1="173.5" x2="397.25" y2="173.5" stroke="#000" stroke-width="0.9" />
<polyline points="404.75,273.44 405.66,273.42 406.57,273.39 407.48,273.36 408.39,273.33 409.3,273.3 410.21,273.27 411.11,273.23 412.02,273.2 412.93,273.16 413.84,273.13 414.75,273.09 415.66,273.05 416.57,273.01 417.48,272.97 418.39,272.92 419.3,272.88 420.21,272.83 421.12,272.78 422.03,272.73 422.94,272.67 423.85,272.62 424.76,272.56 425.67,272.5 426.58,272.44 427.49,272.37 428.4,272.3 429.31,272.23 430.22,272.15 431.13,272.07 432.04,271.98 432.95,271.89 433.86,271.8 434.77,271.7 435.68,271.59 436.59,271.48 437.5,271.36 438.41,271.23 439.32,271.1 440.22,270.96 441.13,270.8 442.04,270.64 442.95,270.46 443.86,270.28 444.77,270.07 445.68,269.86 446.59,269.62 447.5,269.37 448.41,269.09 449.32,268.79 450.23,268.47 451.14,268.11 452.05,267.72 452.96,267.29 453.87,266.82 454.78,266.29 455.69,265.71 456.6,265.05 457.51,264.32 458.42,263.5 459.33,262.56 460.24,261.5 461.15,260.29 462.06,258.9 462.97,257.32 463.88,255.51 464.79,253.43 465.7,251.05 466.61,248.33 467.52,245.23 468.43,241.72 469.33,237.76 470.24,233.34 471.15,228.48 472.06,223.21 472.97,217.66 473.88,211.98 474.79,206.4 475.7,201.16 476.61,196.47 477.52,192.44 478.43,189.15 479.34,186.66 480.25,185.22 481.16,185.3 482.07,187.46 482.98,191.96 483.89,198.47 484.8,206.17 485.71,214.17 486.62,221.77 487.53,228.62 488.44,234.59 489.35,239.7 490.26,244.02 491.17,247.66 492.08,250.73 492.99,253.31 493.9,255.5 494.81,257.36 495.72,258.95 496.63,260.32 497.54,261.5 498.44,262.53 499.35,263.43 500.26,264.22 501.17,264.93 502.08,265.55 502.99,266.11 503.9,266.61 504.81,267.06 505.72,267.47 506.63,267.84 507.54,268.17 508.45,268.48 509.36,268.76 510.27,269.01 511.18,269.25 512.09,269.46 513,269.66 513.91,269.85 514.82,270.02 515.73,270.18 516.64,270.32 517.55,270.46 518.46,270.59 519.37,270.7 520.28,270.82 521.19,270.92 522.1,271.01 523.01,271.1 523.92,271.19 524.83,271.27 525.74,271.34 526.65,271.41 527.55,271.48" fill="none" stroke="#ff0000" stroke-width="0.8" stroke-linejoin="round" stroke-linecap="round" />
<g stroke="#ff0000" stroke-width="1.2">
<circle cx="404.75" cy="273.44" r="1.5" fill="#ff4d4d"/>
<circle cx="405.66" cy="273.42" r="1.5" fill="#ff4d4d"/>
<circle cx="406.57" cy="273.39" r="1.5" fill="#ff4d4d"/>
<circle cx="407.48" cy="273.36" r="1.5" fill="#ff4d4d"/>
<circle cx="408.39" cy="273.33" r="1.5" fill="#ff4d4d"/>
<circle cx="409.3" cy="273.3" r="1.5" fill="#ff4d4d"/>
<circle cx="410.21" cy="273.27" r="1.5" fill="#ff4d4d"/>
<circle cx="411.11" cy="273.23" r="1.5" fill="#ff4d4d"/>
<circle cx="412.02" cy="273.2" r="1.5" fill="#ff4d4d"/>
<circle cx="412.93" cy="273.16" r="1.5" fill="#ff4d4d"/>
<circle cx="413.84" cy="273.13" r="1.5" fill="#ff4d4d"/>
<circle cx="414.75" cy="273.09" r="1.5" fill="#ff4d4d"/>
<circle cx="415.66" cy="273.05" r="1.5" fill="#ff4d4d"/>
<circle cx="416.57" cy="273.01" r="1.5" fill="#ff4d4d"/>
<circle cx="417.48" cy="272.97" r="1.5" fill="#ff4d4d"/>
<circle cx="418.39" cy="272.92" r="1.5" fill="#ff4d4d"/>
<circle cx="419.3" cy="272.88" r="1.5" fill="#ff4d4d"/>
<circle cx="420.21" cy="272.83" r="1.5" fill="#ff4d4d"/>
<circle cx="421.12" cy="272.78" r="1.5" fill="#ff4d4d"/>
<circle cx="422.03" cy="272.73" r="1.5" fill="#ff4d4d"/>
<circle cx="422.94" cy="272.67" r="1.5" fill="#ff4d4d"/>
<circle cx="423.85" cy="272.62" r="1.5" fill="#ff4d4d"/>
<circle cx="424.76" cy="272.56" r="1.5" fill="#ff4d4d"/>
<circle cx="425.67" cy="272.5" r="1.5" fill="#ff4d4d"/>
<circle cx="426.58" cy="272.44" r="1.5" fill="#ff4d4d"/>
<circle cx="427.49" cy="272.37" r="1.5" fill="#ff4d4d"/>
<circle cx="428.4" cy="272.3" r="1.5" fill="#ff4d4d"/>
<circle cx="429.31" cy="272.23" r="1.5" fill="#ff4d4d"/>
<circle cx="430.22" cy="272.15" r="1.5" fill="#ff4e4e"/>
<circle cx="431.13" cy="272.07" r="1.5" fill="#ff4e4e"/>
<circle cx="432.04" cy="271.98" r="1.5" fill="#ff4e4e"/>
<circle cx="432.95" cy="271.89" r="1.5" fill="#ff4e4e"/>
<circle cx="433.86" cy="271.8" r="1.5" fill="#ff4e4e"/>
<circle cx="434.77" cy="271.7" r="1.5" fill="#ff4e4e"/>
<circle cx="435.68" cy="271.59" r="1.5" fill="#ff4f4f"/>
<circle cx="436.59" cy="271.48" r="1.5" fill="#ff4f4f"/>
<circle cx="437.5" cy="271.36" r="1.5" fill="#ff4f4f"/>
<circle cx="438.41" cy="271.23" r="1.5" fill="#ff5050"/>
<circle cx="439.32" cy="271.1" r="1.5" fill="#ff5050"/>
<circle cx="440.22" cy="270.96" r="1.5" fill="#ff5050"/>
<circle cx="441.13" cy="270.8" r="1.5" fill="#ff5151"/>
<circle cx="442.04" cy="270.64" r="1.5" fill="#ff5252"/>
<circle cx="442.95" cy="270.46" r="1.5" fill="#ff5252"/>
<circle cx="443.86" cy="270.28" r="1.5" fill="#ff5353"/>
<circle cx="444.77" cy="270.07" r="1.5" fill="#ff5454"/>
<circle cx="445.68" cy="269.86" r="1.5" fill="#ff5656"/>
<circle cx="446.59" cy="269.62" r="1.5" fill="#ff5757"/>
<circle cx="447.5" cy="269.37" r="1.5" fill="#ff5959"/>
<circle cx="448.41" cy="269.09" r="1.5" fill="#ff5b5b"/>
<circle cx="449.32" cy="268.79" r="1.5" fill="#ff5e5e"/>
<circle cx="450.23" cy="268.47" r="1.5" fill="#ff6161"/>
<circle cx="451.14" cy="268.11" r="1.5" fill="#ff6565"/>
<circle cx="452.05" cy="267.72" r="1.5" fill="#ff6a6a"/>
<circle cx="452.96" cy="267.29" r="1.5" fill="#ff6f6f"/>
<circle cx="453.87" cy="266.82" r="1.5" fill="#ff7777"/>
<circle cx="454.78" cy="266.29" r="1.5" fill="#ff8080"/>
<circle cx="455.69" cy="265.71" r="1.5" fill="#ff8b8b"/>
<circle cx="456.6" cy="265.05" r="1.5" fill="#ff9999"/>
<circle cx="457.51" cy="264.32" r="1.5" fill="#ffabab"/>
<circle cx="458.42" cy="263.5" r="1.5" fill="#ffc1c1"/>
<circle cx="459.33" cy="262.56" r="1.5" fill="#ffdcdc"/>
<circle cx="460.24" cy="261.5" r="1.5" fill="#ffffff"/>
<circle cx="461.15" cy="260.29" r="1.5" fill="#ffffff"/>
<circle cx="462.06" cy="258.9" r="1.5" fill="#ffffff"/>
<circle cx="462.97" cy="257.32" r="1.5" fill="#ffffff"/>
<circle cx="463.88" cy="255.51" r="1.5" fill="#ffffff"/>
<circle cx="464.79" cy="253.43" r="1.5" fill="#ffffff"/>
<circle cx="465.7" cy="251.05" r="1.5" fill="#ffffff"/>
<circle cx="466.61" cy="248.33" r="1.5" fill="#ffffff"/>
<circle cx="467.52" cy="245.23" r="1.5" fill="#ffffff"/>
<circle cx="468.43" cy="241.72" r="1.5" fill="#ffffff"/>
<circle cx="469.33" cy="237.76" r="1.5" fill="#ffffff"/>
<circle cx="470.24" cy="233.34" r="1.5" fill="#ffffff"/>
<circle cx="471.15" cy="228.48" r="1.5" fill="#ffffff"/>
<circle cx="472.06" cy="223.21" r="1.5" fill="#ffffff"/>
<circle cx="472.97" cy="217.66" r="1.5" fill="#ffffff"/>
<circle cx="473.88" cy="211.98" r="1.5" fill="#ffffff"/>
<circle cx="474.79" cy="206.4" r="1.5" fill="#ffffff"/>
<circle cx="475.7" cy="201.16" r="1.5" fill="#ffffff"/>
<circle cx="476.61" cy="196.47" r="1.5" fill="#ffffff"/>
<circle cx="477.52" cy="192.44" r="1.5" fill="#ffffff"/>
<circle cx="478.43" cy="189.15" r="1.5" fill="#ffffff"/>
<circle cx="479.34" cy="186.66" r="1.5" fill="#ffffff"/>
<circle cx="480.25" cy="185.22" r="1.5" fill="#ff4e4e"/>
<circle cx="481.16" cy="185.3" r="1.5" fill="#ff4e4e"/>
<circle cx="482.07" cy="187.46" r="1.5" fill="#ffffff"/>
<circle cx="482.98" cy="191.96" r="1.5" fill="#ffffff"/>
<circle cx="483.89" cy="198.47" r="1.5" fill="#ffffff"/>
<circle cx="484.8" cy="206.17" r="1.5" fill="#ffffff"/>
<circle cx="485.71" cy="214.17" r="1.5" fill="#ffffff"/>
<circle cx="486.62" cy="221.77" r="1.5" fill="#ffffff"/>
<circle cx="487.53" cy="228.62" r="1.5" fill="#ffffff"/>
<circle cx="488.44" cy="234.59" r="1.5" fill="#ffffff"/>
<circle cx="489.35" cy="239.7" r="1.5" fill="#ffffff"/>
<circle cx="490.26" cy="244.02" r="1.5" fill="#ffffff"/>
<circle cx="491.17" cy="247.66" r="1.5" fill="#ffffff"/>
<circle cx="492.08" cy="250.73" r="1.5" fill="#ffffff"/>
<circle cx="492.99" cy="253.31" r="1.5" fill="#ffffff"/>
<circle cx="493.9" cy="255.5" r="1.5" fill="#ffffff"/>
<circle cx="494.81" cy="257.36" r="1.5" fill="#ffffff"/>
<circle cx="495.72" cy="258.95" r="1.5" fill="#ffffff"/>
<circle cx="496.63" cy="260.32" r="1.5" fill="#ffffff"/>
<circle cx="497.54" cy="261.5" r="1.5" fill="#fff5f5"/>
<circle cx="498.44" cy="262.53" r="1.5" fill="#ffd3d3"/>
<circle cx="499.35" cy="263.43" r="1.5" fill="#ffb9b9"/>
<circle cx="500.26" cy="264.22" r="1.5" fill="#ffa4a4"/>
<circle cx="501.17" cy="264.93" r="1.5" fill="#ff9393"/>
<circle cx="502.08" cy="265.55" r="1.5" fill="#ff8686"/>
<circle cx="502.99" cy="266.11" r="1.5" fill="#ff7b7b"/>
<circle cx="503.9" cy="266.61" r="1.5" fill="#ff7373"/>
<circle cx="504.81" cy="267.06" r="1.5" fill="#ff6c6c"/>
<circle cx="505.72" cy="267.47" r="1.5" fill="#ff6767"/>
<circle cx="506.63" cy="267.84" r="1.5" fill="#ff6262"/>
<circle cx="507.54" cy="268.17" r="1.5" fill="#ff5f5f"/>
<circle cx="508.45" cy="268.48" r="1.5" fill="#ff5c5c"/>
<circle cx="509.36" cy="268.76" r="1.5" fill="#ff5959"/>
<circle cx="510.27" cy="269.01" r="1.5" fill="#ff5757"/>
<circle cx="511.18" cy="269.25" r="1.5" fill="#ff5656"/>
<circle cx="512.09" cy="269.46" r="1.5" fill="#ff5454"/>
<circle cx="513" cy="269.66" r="1.5" fill="#ff5353"/>
<circle cx="513.91" cy="269.85" r="1.5" fill="#ff5252"/>
<circle cx="514.82" cy="270.02" r="1.5" fill="#ff5151"/>
<circle cx="515.73" cy="270.18" r="1.5" fill="#ff5151"/>
<circle cx="516.64" cy="270.32" r="1.5" fill="#ff5050"/>
<circle cx="517.55" cy="270.46" r="1.5" fill="#ff5050"/>
<circle cx="518.46" cy="270.59" r="1.5" fill="#ff4f4f"/>
<circle cx="519.37" cy="270.7" r="1.5" fill="#ff4f4f"/>
<circle cx="520.28" cy="270.82" r="1.5" fill="#ff4f4f"/>
<circle cx="521.19" cy="270.92" r="1.5" fill="#ff4e4e"/>
<circle cx="522.1" cy="271.01" r="1.5" fill="#ff4e4e"/>
<circle cx="523.01" cy="271.1" r="1.5" fill="#ff4e4e"/>
<circle cx="523.92" cy="271.19" r="1.5" fill="#ff4e4e"/>
<circle cx="524.83" cy="271.27" r="1.5" fill="#ff4d4d"/>
<circle cx="525.74" cy="271.34" r="1.5" fill="#ff4d4d"/>
<circle cx="526.65" cy="271.41" r="1.5" fill="#ff4d4d"/>
<circle cx="527.55" cy="271.48" r="1.5" fill="#ff4d4d"/>
</g>
<polyline points="404,273.02 404.31,273.01 404.62,273 404.93,272.99 405.24,272.98 405.55,272.98 405.86,272.97 406.17,272.96 406.48,272.95 406.79,272.94 407.1,272.93 407.41,272.92 407.72,272.91 408.03,272.9 408.34,272.9 408.65,272.89 408.96,272.88 409.27,272.87 409.58,272.86 409.89,272.85 410.2,272.84 410.51,272.83 410.82,272.82 411.13,272.81 411.44,272.8 411.75,272.79 412.06,272.78 412.37,272.77 412.68,272.76 412.99,272.75 413.3,272.74 413.61,272.73 413.92,272.72 414.23,272.71 414.54,272.7 414.85,272.69 415.16,272.68 415.47,272.67 415.78,272.65 416.09,272.64 416.4,272.63 416.71,272.62 417.02,272.61 417.33,272.6 417.64,272.59 417.95,272.57 418.26,272.56 418.57,272.55 418.88,272.54 419.19,272.53 419.5,272.51 419.81,272.5 420.12,272.49 420.43,272.48 420.74,272.46 421.05,272.45 421.36,272.44 421.67,272.42 421.98,272.41 422.29,272.4 422.6,272.38 422.91,272.37 423.22,272.36 423.53,272.34 423.84,272.33 424.15,272.31 424.46,272.3 424.77,272.28 425.08,272.27 425.39,272.25 425.7,272.24 426.01,272.22 426.32,272.21 426.63,272.19 426.94,272.17 427.25,272.16 427.56,272.14 427.87,272.12 428.18,272.11 428.49,272.09 428.8,272.07 429.11,272.05 429.42,272.04 429.73,272.02 430.04,272 430.35,271.98 430.66,271.96 430.97,271.94 431.28,271.92 431.59,271.9 431.9,271.88 432.21,271.86 432.52,271.84 432.83,271.82 433.14,271.8 433.45,271.78 433.76,271.76 434.07,271.73 434.38,271.71 434.69,271.69 435,271.66 435.31,271.64 435.62,271.62 435.93,271.59 436.24,271.57 436.55,271.54 436.86,271.51 437.17,271.49 437.48,271.46 437.79,271.43 438.1,271.41 438.41,271.38 438.72,271.35 439.03,271.32 439.34,271.29 439.65,271.26 439.96,271.23 440.27,271.2 440.58,271.16 440.89,271.13 441.2,271.1 441.51,271.06 441.82,271.03 442.13,270.99 442.44,270.95 442.75,270.92 443.06,270.88 443.37,270.84 443.68,270.8 443.99,270.76 444.3,270.72 444.61,270.67 444.92,270.63 445.23,270.59 445.54,270.54 445.85,270.49 446.16,270.45 446.47,270.4 446.78,270.35 447.09,270.3 447.4,270.24 447.71,270.19 448.02,270.14 448.33,270.08 448.64,270.02 448.95,269.96 449.26,269.9 449.57,269.84 449.88,269.77 450.19,269.71 450.5,269.64 450.81,269.57 451.12,269.5 451.43,269.43 451.74,269.35 452.05,269.27 452.36,269.19 452.67,269.11 452.98,269.02 453.29,268.94 453.6,268.85 453.91,268.75 454.22,268.66 454.53,268.56 454.84,268.45 455.15,268.35 455.46,268.24 455.77,268.13 456.08,268.01 456.39,267.89 456.7,267.76 457.01,267.63 457.32,267.5 457.63,267.36 457.94,267.21 458.25,267.06 458.56,266.91 458.87,266.74 459.18,266.57 459.49,266.4 459.8,266.21 460.11,266.02 460.42,265.82 460.73,265.61 461.04,265.39 461.35,265.16 461.66,264.91 461.97,264.66 462.28,264.39 462.59,264.11 462.9,263.81 463.21,263.49 463.52,263.16 463.83,262.81 464.14,262.44 464.45,262.05 464.76,261.63 465.07,261.19 465.38,260.72 465.69,260.23 466.01,259.7 466.32,259.14 466.63,258.54 466.94,257.91 467.25,257.24 467.56,256.53 467.87,255.77 468.18,254.96 468.49,254.11 468.8,253.21 469.11,252.25 469.42,251.23 469.73,250.16 470.04,249.02 470.35,247.82 470.66,246.55 470.97,245.21 471.28,243.81 471.59,242.33 471.9,240.78 472.21,239.15 472.52,237.45 472.83,235.68 473.14,233.83 473.45,231.9 473.76,229.91 474.07,227.84 474.38,225.72 474.69,223.53 475,221.29 475.31,219.01 475.62,216.69 475.93,214.36 476.24,212.02 476.55,209.69 476.86,207.39 477.17,205.15 477.48,202.98 477.79,200.92 478.1,198.99 478.41,197.22 478.72,195.63 479.03,194.26 479.34,193.13 479.65,192.26 479.96,191.67 480.27,191.37 480.58,191.36 480.89,191.65 481.2,192.23 481.51,193.09 481.82,194.21 482.13,195.57 482.44,197.14 482.75,198.9 483.06,200.83 483.37,202.88 483.68,205.04 483.99,207.27 484.3,209.56 484.61,211.88 484.92,214.21 485.23,216.54 485.54,218.85 485.85,221.12 486.16,223.35 486.47,225.53 486.78,227.65 487.09,229.71 487.4,231.69 487.71,233.61 488.02,235.45 488.33,237.22 488.64,238.92 488.95,240.53 489.26,242.08 489.57,243.55 489.88,244.95 490.19,246.28 490.5,247.54 490.81,248.73 491.12,249.86 491.43,250.93 491.74,251.94 492.05,252.89 492.36,253.78 492.67,254.63 492.98,255.43 493.29,256.18 493.6,256.88 493.91,257.55 494.22,258.17 494.53,258.76 494.84,259.31 495.15,259.83 495.46,260.32 495.77,260.78 496.08,261.21 496.39,261.62 496.7,262.01 497.01,262.37 497.32,262.71 497.63,263.03 497.94,263.34 498.25,263.63 498.56,263.91 498.87,264.17 499.18,264.41 499.49,264.65 499.8,264.87 500.11,265.08 500.42,265.29 500.73,265.48 501.04,265.66 501.35,265.84 501.66,266.01 501.97,266.17 502.28,266.33 502.59,266.47 502.9,266.62 503.21,266.75 503.52,266.89 503.83,267.01 504.14,267.13 504.45,267.25 504.76,267.36 505.07,267.47 505.38,267.58 505.69,267.68 506,267.78 506.31,267.87 506.62,267.96 506.93,268.05 507.24,268.13 507.55,268.22 507.86,268.3 508.17,268.37 508.48,268.45 508.79,268.52 509.1,268.59 509.41,268.66 509.72,268.72 510.03,268.78 510.34,268.85 510.65,268.91 510.96,268.96 511.27,269.02 511.58,269.07 511.89,269.13 512.2,269.18 512.51,269.23 512.82,269.28 513.13,269.32 513.44,269.37 513.75,269.41 514.06,269.46 514.37,269.5 514.68,269.54 514.99,269.58 515.3,269.62 515.61,269.65 515.92,269.69 516.23,269.72 516.54,269.76 516.85,269.79 517.16,269.82 517.47,269.86 517.78,269.89 518.09,269.92 518.4,269.95 518.71,269.97 519.02,270 519.33,270.03 519.64,270.06 519.95,270.08 520.26,270.11 520.57,270.13 520.88,270.15 521.19,270.18 521.5,270.2 521.81,270.22 522.12,270.24 522.43,270.26 522.74,270.28 523.05,270.3 523.36,270.32 523.67,270.34 523.98,270.36 524.29,270.38 524.6,270.39 524.91,270.41 525.22,270.43 525.53,270.44 525.84,270.46 526.15,270.47 526.46,270.49 526.77,270.5 527.08,270.52 527.39,270.53 527.7,270.55" fill="none" stroke="#0000ff" stroke-width="1.4" stroke-linejoin="round" stroke-linecap="round" />
<polyline points="404,273.26 404.31,273.26 404.62,273.26 404.93,273.25 405.24,273.25 405.55,273.25 405.86,273.25 406.17,273.24 406.48,273.24 406.79,273.24 407.1,273.23 407.41,273.23 407.72,273.23 408.03,273.23 408.34,273.22 408.65,273.22 408.96,273.22 409.27,273.21 409.58,273.21 409.89,273.21 410.2,273.21 410.51,273.2 410.82,273.2 411.13,273.2 411.44,273.19 411.75,273.19 412.06,273.19 412.37,273.18 412.68,273.18 412.99,273.18 413.3,273.17 413.61,273.17 413.92,273.16 414.23,273.16 414.54,273.16 414.85,273.15 415.16,273.15 415.47,273.15 415.78,273.14 416.09,273.14 416.4,273.13 416.71,273.13 417.02,273.12 417.33,273.12 417.64,273.12 417.95,273.11 418.26,273.11 418.57,273.1 418.88,273.1 419.19,273.09 419.5,273.09 419.81,273.08 420.12,273.08 420.43,273.07 420.74,273.07 421.05,273.06 421.36,273.06 421.67,273.05 421.98,273.05 422.29,273.04 422.6,273.04 422.91,273.03 423.22,273.03 423.53,273.02 423.84,273.01 424.15,273.01 424.46,273 424.77,272.99 425.08,272.99 425.39,272.98 425.7,272.97 426.01,272.97 426.32,272.96 426.63,272.95 426.94,272.95 427.25,272.94 427.56,272.93 427.87,272.92 428.18,272.92 428.49,272.91 428.8,272.9 429.11,272.89 429.42,272.88 429.73,272.88 430.04,272.87 430.35,272.86 430.66,272.85 430.97,272.84 431.28,272.83 431.59,272.82 431.9,272.81 432.21,272.8 432.52,272.79 432.83,272.78 433.14,272.77 433.45,272.76 433.76,272.75 434.07,272.74 434.38,272.72 434.69,272.71 435,272.7 435.31,272.69 435.62,272.67 435.93,272.66 436.24,272.65 436.55,272.63 436.86,272.62 437.17,272.6 437.48,272.59 437.79,272.57 438.1,272.56 438.41,272.54 438.72,272.53 439.03,272.51 439.34,272.49 439.65,272.47 439.96,272.45 440.27,272.44 440.58,272.42 440.89,272.4 441.2,272.38 441.51,272.36 441.82,272.33 442.13,272.31 442.44,272.29 442.75,272.26 443.06,272.24 443.37,272.22 443.68,272.19 443.99,272.16 444.3,272.14 444.61,272.11 444.92,272.08 445.23,272.05 445.54,272.02 445.85,271.99 446.16,271.95 446.47,271.92 446.78,271.88 447.09,271.85 447.4,271.81 447.71,271.77 448.02,271.73 448.33,271.69 448.64,271.64 448.95,271.6 449.26,271.55 449.57,271.5 449.88,271.45 450.19,271.4 450.5,271.35 450.81,271.29 451.12,271.23 451.43,271.17 451.74,271.1 452.05,271.04 452.36,270.97 452.67,270.9 452.98,270.82 453.29,270.74 453.6,270.66 453.91,270.57 454.22,270.48 454.53,270.39 454.84,270.29 455.15,270.19 455.46,270.08 455.77,269.97 456.08,269.85 456.39,269.73 456.7,269.6 457.01,269.46 457.32,269.32 457.63,269.17 457.94,269.02 458.25,268.86 458.56,268.68 458.87,268.51 459.18,268.32 459.49,268.12 459.8,267.92 460.11,267.71 460.42,267.48 460.73,267.25 461.04,267.01 461.35,266.75 461.66,266.49 461.97,266.21 462.28,265.92 462.59,265.62 462.9,265.31 463.21,264.99 463.52,264.66 463.83,264.31 464.14,263.96 464.45,263.59 464.76,263.22 465.07,262.83 465.38,262.44 465.69,262.05 466.01,261.65 466.32,261.25 466.63,260.85 466.94,260.45 467.25,260.06 467.56,259.68 467.87,259.31 468.18,258.96 468.49,258.63 468.8,258.33 469.11,258.05 469.42,257.81 469.73,257.61 470.04,257.44 470.35,257.32 470.66,257.24 470.97,257.21 471.28,257.22 471.59,257.28 471.9,257.39 472.21,257.54 472.52,257.73 472.83,257.95 473.14,258.21 473.45,258.51 473.76,258.83 474.07,259.17 474.38,259.53 474.69,259.9 475,260.29 475.31,260.68 475.62,261.08 475.93,261.48 476.24,261.88 476.55,262.28 476.86,262.67 477.17,263.06 477.48,263.43 477.79,263.8 478.1,264.16 478.41,264.51 478.72,264.84 479.03,265.17 479.34,265.48 479.65,265.78 479.96,266.08 480.27,266.36 480.58,266.62 480.89,266.88 481.2,267.13 481.51,267.36 481.82,267.59 482.13,267.81 482.44,268.01 482.75,268.21 483.06,268.4 483.37,268.58 483.68,268.75 483.99,268.92 484.3,269.07 484.61,269.22 484.92,269.37 485.23,269.5 485.54,269.63 485.85,269.76 486.16,269.88 486.47,269.99 486.78,270.1 487.09,270.2 487.4,270.3 487.71,270.39 488.02,270.49 488.33,270.57 488.64,270.65 488.95,270.73 489.26,270.81 489.57,270.88 489.88,270.95 490.19,271.02 490.5,271.08 490.81,271.14 491.12,271.2 491.43,271.26 491.74,271.31 492.05,271.37 492.36,271.42 492.67,271.46 492.98,271.51 493.29,271.56 493.6,271.6 493.91,271.64 494.22,271.68 494.53,271.72 494.84,271.76 495.15,271.79 495.46,271.83 495.77,271.86 496.08,271.89 496.39,271.92 496.7,271.96 497.01,271.98 497.32,272.01 497.63,272.04 497.94,272.07 498.25,272.09 498.56,272.12 498.87,272.14 499.18,272.17 499.49,272.19 499.8,272.21 500.11,272.23 500.42,272.25 500.73,272.27 501.04,272.29 501.35,272.31 501.66,272.33 501.97,272.35 502.28,272.37 502.59,272.38 502.9,272.4 503.21,272.42 503.52,272.43 503.83,272.45 504.14,272.46 504.45,272.48 504.76,272.49 505.07,272.5 505.38,272.52 505.69,272.53 506,272.54 506.31,272.56 506.62,272.57 506.93,272.58 507.24,272.59 507.55,272.6 507.86,272.61 508.17,272.62 508.48,272.63 508.79,272.64 509.1,272.65 509.41,272.66 509.72,272.67 510.03,272.68 510.34,272.69 510.65,272.7 510.96,272.71 511.27,272.72 511.58,272.72 511.89,272.73 512.2,272.74 512.51,272.75 512.82,272.76 513.13,272.76 513.44,272.77 513.75,272.78 514.06,272.78 514.37,272.79 514.68,272.8 514.99,272.8 515.3,272.81 515.61,272.82 515.92,272.82 516.23,272.83 516.54,272.83 516.85,272.84 517.16,272.84 517.47,272.85 517.78,272.86 518.09,272.86 518.4,272.87 518.71,272.87 519.02,272.88 519.33,272.88 519.64,272.88 519.95,272.89 520.26,272.89 520.57,272.9 520.88,272.9 521.19,272.91 521.5,272.91 521.81,272.91 522.12,272.92 522.43,272.92 522.74,272.93 523.05,272.93 523.36,272.93 523.67,272.94 523.98,272.94 524.29,272.94 524.6,272.95 524.91,272.95 525.22,272.95 525.53,272.96 525.84,272.96 526.15,272.96 526.46,272.97 526.77,272.97 527.08,272.97 527.39,272.97 527.7,272.98" fill="none" stroke="#00e000" stroke-width="1.4" stroke-linejoin="round" stroke-linecap="round" />
<line x1="399.1" y1="177.9" x2="415.8" y2="177.9" stroke="#ff0000" stroke-width="1.4" />
<g fill="#fff" stroke="#ff0000" stroke-width="1.1">
<circle cx="407.4" cy="177.9" r="1.75"/>
</g>
<line x1="399.1" y1="186.7" x2="415.8" y2="186.7" stroke="#0000ff" stroke-width="1.5" />
<line x1="399.1" y1="196.9" x2="415.8" y2="196.9" stroke="#00e000" stroke-width="1.5" />
<text x="417.5" y="180.3" font-size="7.1" text-anchor="start" font-weight="normal" fill="#000" textLength="19" lengthAdjust="spacingAndGlyphs"  stroke="#000" stroke-width="0.1">Fitting</text>
<text x="417.5" y="189.1" font-size="7.2" stroke="#000" stroke-width="0.1">O<tspan font-size="4.5" dy="1.7">L</tspan><tspan dy="-1.7"> = 87.1 %</tspan></text>
<text x="417.5" y="199.3" font-size="7.2" stroke="#000" stroke-width="0.1">O<tspan font-size="4.5" dy="1.7">V</tspan><tspan dy="-1.7"> = 12.9 %</tspan></text>
<text x="538.5" y="180.8" font-size="8.3" text-anchor="end" font-weight="bold" fill="#000"  stroke="#000" stroke-width="0.1">O 1s</text>
<text x="417.5" y="219.6" font-size="6.2" text-anchor="start" font-weight="normal" fill="#000" textLength="24.2" lengthAdjust="spacingAndGlyphs"  stroke="#000" stroke-width="0.1">530.9 eV</text>
<line x1="443.5" y1="213.8" x2="479" y2="190.6" stroke="#333" stroke-width="0.6" />
<text x="421" y="260.8" font-size="6.2" text-anchor="start" font-weight="normal" fill="#000" textLength="23.6" lengthAdjust="spacingAndGlyphs"  stroke="#000" stroke-width="0.1">531.7 eV</text>
<line x1="445.5" y1="258" x2="469" y2="258" stroke="#555" stroke-width="0.6" />
<text x="424.6" y="306.9" font-size="9.3" text-anchor="start" font-weight="normal" fill="#000" textLength="87.3" lengthAdjust="spacingAndGlyphs"  stroke="#000" stroke-width="0.1">Binding energy (eV)</text>
<text transform="translate(389.1,226) rotate(-90)" font-size="8.8" text-anchor="middle" textLength="61.5" lengthAdjust="spacingAndGlyphs" stroke="#000" stroke-width="0.1">Intensity (a.u.)</text>
</svg></body></html>
